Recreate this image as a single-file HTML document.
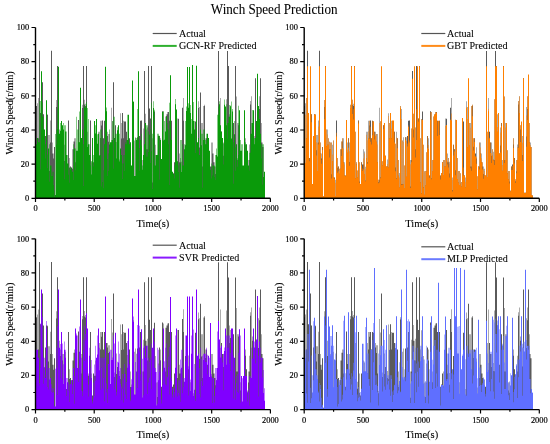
<!DOCTYPE html>
<html><head><meta charset="utf-8"><title>Winch Speed Prediction</title>
<style>html,body{margin:0;padding:0;background:#fff;width:550px;height:444px;overflow:hidden}svg{display:block;filter:blur(0.3px)}</style>
</head><body>
<svg width="550" height="444" viewBox="0 0 550 444"><text transform="translate(274.2,13.6) scale(1,1.1)" x="0" y="0" text-anchor="middle" font-size="13.1" font-family="Liberation Serif, serif" fill="#000" stroke="#000" stroke-width="0.08">Winch Speed Prediction</text>
<path d="M36.00 198.3v-92.2h0.5v92.2zM36.50 198.3v-92.3h0.5v92.3zM37.00 198.3v-95.0h0.5v95.0zM37.50 198.3v-35.3h0.5v35.3zM38.00 198.3v-60.0h0.5v60.0zM38.50 198.3v-100.2h0.5v100.2zM39.00 198.3v-147.6h0.5v147.6zM39.50 198.3v-147.6h0.5v147.6zM40.00 198.3v-85.4h0.5v85.4zM40.50 198.3v-85.4h0.5v85.4zM41.00 198.3v-40.4h0.5v40.4zM41.50 198.3v-40.4h0.5v40.4zM42.00 198.3v-116.1h0.5v116.1zM42.50 198.3v-116.1h0.5v116.1zM43.00 198.3v-84.0h0.5v84.0zM43.50 198.3v-84.0h0.5v84.0zM44.00 198.3v-14.2h0.5v14.2zM44.50 198.3v-14.2h0.5v14.2zM45.00 198.3v-62.2h0.5v62.2zM45.50 198.3v-62.2h0.5v62.2zM46.00 198.3v-84.0h0.5v84.0zM46.50 198.3v-84.0h0.5v84.0zM47.00 198.3v-84.0h0.5v84.0zM47.50 198.3v-83.4h0.5v83.4zM48.00 198.3v-48.1h0.5v48.1zM48.50 198.3v-63.3h0.5v63.3zM49.00 198.3v-63.3h0.5v63.3zM49.50 198.3v-27.3h0.5v27.3zM50.00 198.3v-55.7h0.5v55.7zM50.50 198.3v-77.9h0.5v77.9zM51.00 198.3v-147.6h0.5v147.6zM51.50 198.3v-147.6h0.5v147.6zM52.00 198.3v-55.7h0.5v55.7zM52.50 198.3v-44.8h0.5v44.8zM53.00 198.3v-39.8h0.5v39.8zM53.50 198.3v-44.8h0.5v44.8zM54.00 198.3v-51.3h0.5v51.3zM54.50 198.3v-51.3h0.5v51.3zM55.00 198.3v-2.2h0.5v2.2zM55.50 198.3v-1.6h0.5v1.6zM56.00 198.3v-91.2h0.5v91.2zM56.50 198.3v-98.4h0.5v98.4zM57.00 198.3v-132.4h0.5v132.4zM57.50 198.3v-132.4h0.5v132.4zM58.00 198.3v-68.8h0.5v68.8zM58.50 198.3v-52.1h0.5v52.1zM59.00 198.3v-68.8h0.5v68.8zM59.50 198.3v-53.5h0.5v53.5zM60.00 198.3v-53.5h0.5v53.5zM60.50 198.3v-60.0h0.5v60.0zM61.00 198.3v-56.6h0.5v56.6zM61.50 198.3v-49.1h0.5v49.1zM62.00 198.3v-49.1h0.5v49.1zM62.50 198.3v-55.7h0.5v55.7zM63.00 198.3v-55.7h0.5v55.7zM63.50 198.3v-24.1h0.5v24.1zM64.00 198.3v-53.5h0.5v53.5zM64.50 198.3v-37.2h0.5v37.2zM65.00 198.3v-57.8h0.5v57.8zM65.50 198.3v-21.3h0.5v21.3zM66.00 198.3v-20.7h0.5v20.7zM66.50 198.3v-20.7h0.5v20.7zM67.00 198.3v-18.6h0.5v18.6zM67.50 198.3v-2.3h0.5v2.3zM68.00 198.3v-77.7h0.5v77.7zM68.50 198.3v-77.7h0.5v77.7zM69.00 198.3v-30.6h0.5v30.6zM69.50 198.3v-40.4h0.5v40.4zM70.00 198.3v-31.7h0.5v31.7zM70.50 198.3v-31.7h0.5v31.7zM71.00 198.3v-24.6h0.5v24.6zM71.50 198.3v-29.5h0.5v29.5zM72.00 198.3v-29.5h0.5v29.5zM72.50 198.3v-49.1h0.5v49.1zM73.00 198.3v-49.1h0.5v49.1zM73.50 198.3v-56.8h0.5v56.8zM74.00 198.3v-56.8h0.5v56.8zM74.50 198.3v-60.0h0.5v60.0zM75.00 198.3v-60.0h0.5v60.0zM75.50 198.3v-36.0h0.5v36.0zM76.00 198.3v-36.0h0.5v36.0zM76.50 198.3v-22.9h0.5v22.9zM77.00 198.3v-22.9h0.5v22.9zM77.50 198.3v-22.9h0.5v22.9zM78.00 198.3v-78.2h0.5v78.2zM78.50 198.3v-78.2h0.5v78.2zM79.00 198.3v-55.7h0.5v55.7zM79.50 198.3v-45.6h0.5v45.6zM80.00 198.3v-60.0h0.5v60.0zM80.50 198.3v-60.0h0.5v60.0zM81.00 198.3v-55.7h0.5v55.7zM81.50 198.3v-36.2h0.5v36.2zM82.00 198.3v-90.3h0.5v90.3zM82.50 198.3v-93.5h0.5v93.5zM83.00 198.3v-132.4h0.5v132.4zM83.50 198.3v-132.4h0.5v132.4zM84.00 198.3v-98.5h0.5v98.5zM84.50 198.3v-93.2h0.5v93.2zM85.00 198.3v-92.2h0.5v92.2zM85.50 198.3v-94.6h0.5v94.6zM86.00 198.3v-132.4h0.5v132.4zM86.50 198.3v-132.4h0.5v132.4zM87.00 198.3v-66.6h0.5v66.6zM87.50 198.3v-20.1h0.5v20.1zM88.00 198.3v-36.0h0.5v36.0zM88.50 198.3v-33.8h0.5v33.8zM89.00 198.3v-20.8h0.5v20.8zM89.50 198.3v-27.8h0.5v27.8zM90.00 198.3v-77.7h0.5v77.7zM90.50 198.3v-77.7h0.5v77.7zM91.00 198.3v-16.7h0.5v16.7zM91.50 198.3v-36.0h0.5v36.0zM92.00 198.3v-14.2h0.5v14.2zM92.50 198.3v-14.2h0.5v14.2zM93.00 198.3v-36.0h0.5v36.0zM93.50 198.3v-36.0h0.5v36.0zM94.00 198.3v-33.8h0.5v33.8zM94.50 198.3v-33.8h0.5v33.8zM95.00 198.3v-33.8h0.5v33.8zM95.50 198.3v-49.1h0.5v49.1zM96.00 198.3v-24.4h0.5v24.4zM96.50 198.3v-46.9h0.5v46.9zM97.00 198.3v-31.6h0.5v31.6zM97.50 198.3v-17.8h0.5v17.8zM98.00 198.3v-40.4h0.5v40.4zM98.50 198.3v-66.6h0.5v66.6zM99.00 198.3v-66.6h0.5v66.6zM99.50 198.3v-36.4h0.5v36.4zM100.00 198.3v-60.2h0.5v60.2zM100.50 198.3v-77.5h0.5v77.5zM101.00 198.3v-77.5h0.5v77.5zM101.50 198.3v-72.8h0.5v72.8zM102.00 198.3v-77.7h0.5v77.7zM102.50 198.3v-77.7h0.5v77.7zM103.00 198.3v-60.0h0.5v60.0zM103.50 198.3v-60.0h0.5v60.0zM104.00 198.3v-77.5h0.5v77.5zM104.50 198.3v-77.5h0.5v77.5zM105.00 198.3v-76.9h0.5v76.9zM105.50 198.3v-76.9h0.5v76.9zM106.00 198.3v-66.6h0.5v66.6zM106.50 198.3v-66.6h0.5v66.6zM107.00 198.3v-66.6h0.5v66.6zM107.50 198.3v-62.2h0.5v62.2zM108.00 198.3v-56.6h0.5v56.6zM108.50 198.3v-64.4h0.5v64.4zM109.00 198.3v-64.4h0.5v64.4zM109.50 198.3v-36.0h0.5v36.0zM110.00 198.3v-16.4h0.5v16.4zM110.50 198.3v-18.6h0.5v18.6zM111.00 198.3v-18.6h0.5v18.6zM111.50 198.3v-90.5h0.5v90.5zM112.00 198.3v-77.1h0.5v77.1zM112.50 198.3v-21.1h0.5v21.1zM113.00 198.3v-116.1h0.5v116.1zM113.50 198.3v-116.1h0.5v116.1zM114.00 198.3v-37.1h0.5v37.1zM114.50 198.3v-32.7h0.5v32.7zM115.00 198.3v-73.1h0.5v73.1zM115.50 198.3v-73.1h0.5v73.1zM116.00 198.3v-56.2h0.5v56.2zM116.50 198.3v-35.6h0.5v35.6zM117.00 198.3v-42.6h0.5v42.6zM117.50 198.3v-42.6h0.5v42.6zM118.00 198.3v-31.7h0.5v31.7zM118.50 198.3v-31.7h0.5v31.7zM119.00 198.3v-31.7h0.5v31.7zM119.50 198.3v-38.7h0.5v38.7zM120.00 198.3v-30.7h0.5v30.7zM120.50 198.3v-85.1h0.5v85.1zM121.00 198.3v-59.7h0.5v59.7zM121.50 198.3v-75.3h0.5v75.3zM122.00 198.3v-85.4h0.5v85.4zM122.50 198.3v-85.4h0.5v85.4zM123.00 198.3v-77.5h0.5v77.5zM123.50 198.3v-60.1h0.5v60.1zM124.00 198.3v-76.9h0.5v76.9zM124.50 198.3v-76.9h0.5v76.9zM125.00 198.3v-76.9h0.5v76.9zM125.50 198.3v-76.9h0.5v76.9zM126.00 198.3v-66.6h0.5v66.6zM126.50 198.3v-66.6h0.5v66.6zM127.00 198.3v-54.6h0.5v54.6zM127.50 198.3v-30.9h0.5v30.9zM128.00 198.3v-66.6h0.5v66.6zM128.50 198.3v-20.0h0.5v20.0zM129.00 198.3v-60.0h0.5v60.0zM129.50 198.3v-60.0h0.5v60.0zM130.00 198.3v-38.2h0.5v38.2zM130.50 198.3v-22.6h0.5v22.6zM131.00 198.3v-10.8h0.5v10.8zM131.50 198.3v-25.2h0.5v25.2zM132.00 198.3v-92.3h0.5v92.3zM132.50 198.3v-90.2h0.5v90.2zM133.00 198.3v-89.4h0.5v89.4zM133.50 198.3v-14.3h0.5v14.3zM134.00 198.3v-57.8h0.5v57.8zM134.50 198.3v-14.2h0.5v14.2zM135.00 198.3v-14.2h0.5v14.2zM135.50 198.3v-61.1h0.5v61.1zM136.00 198.3v-32.8h0.5v32.8zM136.50 198.3v-10.3h0.5v10.3zM137.00 198.3v-61.1h0.5v61.1zM137.50 198.3v-61.1h0.5v61.1zM138.00 198.3v-21.6h0.5v21.6zM138.50 198.3v-61.1h0.5v61.1zM139.00 198.3v-62.2h0.5v62.2zM139.50 198.3v-62.2h0.5v62.2zM140.00 198.3v-77.5h0.5v77.5zM140.50 198.3v-77.5h0.5v77.5zM141.00 198.3v-77.7h0.5v77.7zM141.50 198.3v-77.7h0.5v77.7zM142.00 198.3v-38.2h0.5v38.2zM142.50 198.3v-11.9h0.5v11.9zM143.00 198.3v-38.2h0.5v38.2zM143.50 198.3v-69.8h0.5v69.8zM144.00 198.3v-127.4h0.5v127.4zM144.50 198.3v-127.4h0.5v127.4zM145.00 198.3v-84.5h0.5v84.5zM145.50 198.3v-68.8h0.5v68.8zM146.00 198.3v-68.8h0.5v68.8zM146.50 198.3v-49.1h0.5v49.1zM147.00 198.3v-49.1h0.5v49.1zM147.50 198.3v-70.9h0.5v70.9zM148.00 198.3v-132.4h0.5v132.4zM148.50 198.3v-132.4h0.5v132.4zM149.00 198.3v-89.8h0.5v89.8zM149.50 198.3v-89.8h0.5v89.8zM150.00 198.3v-79.7h0.5v79.7zM150.50 198.3v-79.7h0.5v79.7zM151.00 198.3v-132.4h0.5v132.4zM151.50 198.3v-132.4h0.5v132.4zM152.00 198.3v-60.0h0.5v60.0zM152.50 198.3v-15.9h0.5v15.9zM153.00 198.3v-5.3h0.5v5.3zM153.50 198.3v-79.3h0.5v79.3zM154.00 198.3v-86.8h0.5v86.8zM154.50 198.3v-86.8h0.5v86.8zM155.00 198.3v-53.5h0.5v53.5zM155.50 198.3v-11.0h0.5v11.0zM156.00 198.3v-27.1h0.5v27.1zM156.50 198.3v-3.6h0.5v3.6zM157.00 198.3v-27.3h0.5v27.3zM157.50 198.3v-12.7h0.5v12.7zM158.00 198.3v-26.8h0.5v26.8zM158.50 198.3v-46.0h0.5v46.0zM159.00 198.3v-62.2h0.5v62.2zM159.50 198.3v-62.2h0.5v62.2zM160.00 198.3v-60.0h0.5v60.0zM160.50 198.3v-49.0h0.5v49.0zM161.00 198.3v-22.9h0.5v22.9zM161.50 198.3v-22.9h0.5v22.9zM162.00 198.3v-87.1h0.5v87.1zM162.50 198.3v-87.1h0.5v87.1zM163.00 198.3v-86.2h0.5v86.2zM163.50 198.3v-20.0h0.5v20.0zM164.00 198.3v-27.3h0.5v27.3zM164.50 198.3v-38.2h0.5v38.2zM165.00 198.3v-38.2h0.5v38.2zM165.50 198.3v-81.8h0.5v81.8zM166.00 198.3v-81.8h0.5v81.8zM166.50 198.3v-84.0h0.5v84.0zM167.00 198.3v-84.0h0.5v84.0zM167.50 198.3v-86.2h0.5v86.2zM168.00 198.3v-86.3h0.5v86.3zM168.50 198.3v-86.3h0.5v86.3zM169.00 198.3v-77.5h0.5v77.5zM169.50 198.3v-77.5h0.5v77.5zM170.00 198.3v-39.5h0.5v39.5zM170.50 198.3v-55.7h0.5v55.7zM171.00 198.3v-77.5h0.5v77.5zM171.50 198.3v-77.5h0.5v77.5zM172.00 198.3v-22.9h0.5v22.9zM172.50 198.3v-22.9h0.5v22.9zM173.00 198.3v-25.1h0.5v25.1zM173.50 198.3v-25.1h0.5v25.1zM174.00 198.3v-36.0h0.5v36.0zM174.50 198.3v-36.0h0.5v36.0zM175.00 198.3v-23.2h0.5v23.2zM175.50 198.3v-38.2h0.5v38.2zM176.00 198.3v-38.2h0.5v38.2zM176.50 198.3v-31.7h0.5v31.7zM177.00 198.3v-31.7h0.5v31.7zM177.50 198.3v-79.7h0.5v79.7zM178.00 198.3v-79.6h0.5v79.6zM178.50 198.3v-79.6h0.5v79.6zM179.00 198.3v-44.8h0.5v44.8zM179.50 198.3v-36.0h0.5v36.0zM180.00 198.3v-36.0h0.5v36.0zM180.50 198.3v-40.4h0.5v40.4zM181.00 198.3v-24.8h0.5v24.8zM181.50 198.3v-36.5h0.5v36.5zM182.00 198.3v-90.5h0.5v90.5zM182.50 198.3v-90.5h0.5v90.5zM183.00 198.3v-100.4h0.5v100.4zM183.50 198.3v-77.5h0.5v77.5zM184.00 198.3v-20.8h0.5v20.8zM184.50 198.3v-8.4h0.5v8.4zM185.00 198.3v-53.5h0.5v53.5zM185.50 198.3v-53.5h0.5v53.5zM186.00 198.3v-49.1h0.5v49.1zM186.50 198.3v-49.1h0.5v49.1zM187.00 198.3v-28.0h0.5v28.0zM187.50 198.3v-78.6h0.5v78.6zM188.00 198.3v-54.2h0.5v54.2zM188.50 198.3v-40.4h0.5v40.4zM189.00 198.3v-40.4h0.5v40.4zM189.50 198.3v-19.2h0.5v19.2zM190.00 198.3v-15.8h0.5v15.8zM190.50 198.3v-27.3h0.5v27.3zM191.00 198.3v-27.3h0.5v27.3zM191.50 198.3v-13.4h0.5v13.4zM192.00 198.3v-25.1h0.5v25.1zM192.50 198.3v-14.5h0.5v14.5zM193.00 198.3v-16.4h0.5v16.4zM193.50 198.3v-11.9h0.5v11.9zM194.00 198.3v-10.0h0.5v10.0zM194.50 198.3v-18.6h0.5v18.6zM195.00 198.3v-76.9h0.5v76.9zM195.50 198.3v-76.9h0.5v76.9zM196.00 198.3v-22.9h0.5v22.9zM196.50 198.3v-22.9h0.5v22.9zM197.00 198.3v-11.1h0.5v11.1zM197.50 198.3v-20.7h0.5v20.7zM198.00 198.3v-97.0h0.5v97.0zM198.50 198.3v-90.4h0.5v90.4zM199.00 198.3v-50.9h0.5v50.9zM199.50 198.3v-91.4h0.5v91.4zM200.00 198.3v-105.9h0.5v105.9zM200.50 198.3v-105.9h0.5v105.9zM201.00 198.3v-53.2h0.5v53.2zM201.50 198.3v-75.3h0.5v75.3zM202.00 198.3v-75.3h0.5v75.3zM202.50 198.3v-31.7h0.5v31.7zM203.00 198.3v-31.7h0.5v31.7zM203.50 198.3v-92.2h0.5v92.2zM204.00 198.3v-93.6h0.5v93.6zM204.50 198.3v-92.2h0.5v92.2zM205.00 198.3v-60.0h0.5v60.0zM205.50 198.3v-51.5h0.5v51.5zM206.00 198.3v-60.0h0.5v60.0zM206.50 198.3v-60.0h0.5v60.0zM207.00 198.3v-44.8h0.5v44.8zM207.50 198.3v-44.8h0.5v44.8zM208.00 198.3v-39.8h0.5v39.8zM208.50 198.3v-51.1h0.5v51.1zM209.00 198.3v-22.0h0.5v22.0zM209.50 198.3v-8.8h0.5v8.8zM210.00 198.3v-31.7h0.5v31.7zM210.50 198.3v-31.7h0.5v31.7zM211.00 198.3v-31.7h0.5v31.7zM211.50 198.3v-55.7h0.5v55.7zM212.00 198.3v-55.7h0.5v55.7zM212.50 198.3v-44.8h0.5v44.8zM213.00 198.3v-44.8h0.5v44.8zM213.50 198.3v-36.0h0.5v36.0zM214.00 198.3v-36.0h0.5v36.0zM214.50 198.3v-31.7h0.5v31.7zM215.00 198.3v-31.7h0.5v31.7zM215.50 198.3v-24.3h0.5v24.3zM216.00 198.3v-29.5h0.5v29.5zM216.50 198.3v-22.9h0.5v22.9zM217.00 198.3v-22.9h0.5v22.9zM217.50 198.3v-22.9h0.5v22.9zM218.00 198.3v-147.4h0.5v147.4zM218.50 198.3v-147.4h0.5v147.4zM219.00 198.3v-66.6h0.5v66.6zM219.50 198.3v-21.2h0.5v21.2zM220.00 198.3v-100.2h0.5v100.2zM220.50 198.3v-24.9h0.5v24.9zM221.00 198.3v-66.6h0.5v66.6zM221.50 198.3v-66.6h0.5v66.6zM222.00 198.3v-55.7h0.5v55.7zM222.50 198.3v-55.7h0.5v55.7zM223.00 198.3v-55.7h0.5v55.7zM223.50 198.3v-42.6h0.5v42.6zM224.00 198.3v-42.6h0.5v42.6zM224.50 198.3v-49.1h0.5v49.1zM225.00 198.3v-38.5h0.5v38.5zM225.50 198.3v-46.6h0.5v46.6zM226.00 198.3v-38.3h0.5v38.3zM226.50 198.3v-99.0h0.5v99.0zM227.00 198.3v-147.4h0.5v147.4zM227.50 198.3v-147.4h0.5v147.4zM228.00 198.3v-132.2h0.5v132.2zM228.50 198.3v-132.2h0.5v132.2zM229.00 198.3v-66.6h0.5v66.6zM229.50 198.3v-84.0h0.5v84.0zM230.00 198.3v-79.7h0.5v79.7zM230.50 198.3v-71.7h0.5v71.7zM231.00 198.3v-44.8h0.5v44.8zM231.50 198.3v-44.8h0.5v44.8zM232.00 198.3v-52.8h0.5v52.8zM232.50 198.3v-70.9h0.5v70.9zM233.00 198.3v-75.3h0.5v75.3zM233.50 198.3v-75.3h0.5v75.3zM234.00 198.3v-27.5h0.5v27.5zM234.50 198.3v-38.2h0.5v38.2zM235.00 198.3v-132.2h0.5v132.2zM235.50 198.3v-132.2h0.5v132.2zM236.00 198.3v-101.7h0.5v101.7zM236.50 198.3v-38.2h0.5v38.2zM237.00 198.3v-38.2h0.5v38.2zM237.50 198.3v-75.3h0.5v75.3zM238.00 198.3v-75.3h0.5v75.3zM238.50 198.3v-73.1h0.5v73.1zM239.00 198.3v-48.1h0.5v48.1zM239.50 198.3v-25.1h0.5v25.1zM240.00 198.3v-19.1h0.5v19.1zM240.50 198.3v-27.3h0.5v27.3zM241.00 198.3v-27.3h0.5v27.3zM241.50 198.3v-16.9h0.5v16.9zM242.00 198.3v-7.7h0.5v7.7zM242.50 198.3v-6.7h0.5v6.7zM243.00 198.3v-31.7h0.5v31.7zM243.50 198.3v-31.7h0.5v31.7zM244.00 198.3v-33.8h0.5v33.8zM244.50 198.3v-33.8h0.5v33.8zM245.00 198.3v-60.0h0.5v60.0zM245.50 198.3v-53.8h0.5v53.8zM246.00 198.3v-40.4h0.5v40.4zM246.50 198.3v-40.4h0.5v40.4zM247.00 198.3v-17.1h0.5v17.1zM247.50 198.3v-19.0h0.5v19.0zM248.00 198.3v-27.0h0.5v27.0zM248.50 198.3v-38.2h0.5v38.2zM249.00 198.3v-38.2h0.5v38.2zM249.50 198.3v-53.8h0.5v53.8zM250.00 198.3v-93.9h0.5v93.9zM250.50 198.3v-97.4h0.5v97.4zM251.00 198.3v-102.1h0.5v102.1zM251.50 198.3v-29.8h0.5v29.8zM252.00 198.3v-68.8h0.5v68.8zM252.50 198.3v-73.1h0.5v73.1zM253.00 198.3v-73.1h0.5v73.1zM253.50 198.3v-73.1h0.5v73.1zM254.00 198.3v-62.2h0.5v62.2zM254.50 198.3v-43.2h0.5v43.2zM255.00 198.3v-120.1h0.5v120.1zM255.50 198.3v-120.1h0.5v120.1zM256.00 198.3v-5.5h0.5v5.5zM256.50 198.3v-5.5h0.5v5.5zM257.00 198.3v-5.5h0.5v5.5zM257.50 198.3v-5.5h0.5v5.5zM258.00 198.3v-91.4h0.5v91.4zM258.50 198.3v-61.7h0.5v61.7zM259.00 198.3v-89.3h0.5v89.3zM259.50 198.3v-102.0h0.5v102.0zM260.00 198.3v-120.1h0.5v120.1zM260.50 198.3v-120.1h0.5v120.1zM261.00 198.3v-75.3h0.5v75.3zM261.50 198.3v-55.7h0.5v55.7zM262.00 198.3v-55.7h0.5v55.7zM262.50 198.3v-51.3h0.5v51.3zM263.00 198.3v-51.3h0.5v51.3zM263.50 198.3v-3.3h0.5v3.3zM264.00 198.3v-2.4h0.5v2.4zM264.50 198.3v-3.3h0.5v3.3z" fill="#5a5a5a"/>
<path d="M36.00 198.3v-54.0h0.5v54.0zM36.50 198.3v-54.0h0.5v54.0zM37.00 198.3v-60.3h0.5v60.3zM37.50 198.3v-60.3h0.5v60.3zM38.00 198.3v-56.1h0.5v56.1zM38.50 198.3v-56.1h0.5v56.1zM39.00 198.3v-56.1h0.5v56.1zM39.50 198.3v-97.3h0.5v97.3zM40.00 198.3v-28.8h0.5v28.8zM40.50 198.3v-97.2h0.5v97.2zM41.00 198.3v-127.1h0.5v127.1zM41.50 198.3v-127.1h0.5v127.1zM42.00 198.3v-96.0h0.5v96.0zM42.50 198.3v-81.5h0.5v81.5zM43.00 198.3v-81.5h0.5v81.5zM43.50 198.3v-68.8h0.5v68.8zM44.00 198.3v-68.8h0.5v68.8zM44.50 198.3v-68.8h0.5v68.8zM45.00 198.3v-39.9h0.5v39.9zM45.50 198.3v-54.0h0.5v54.0zM46.00 198.3v-97.8h0.5v97.8zM46.50 198.3v-98.4h0.5v98.4zM47.00 198.3v-43.9h0.5v43.9zM47.50 198.3v-30.0h0.5v30.0zM48.00 198.3v-49.8h0.5v49.8zM48.50 198.3v-49.8h0.5v49.8zM49.00 198.3v-54.0h0.5v54.0zM49.50 198.3v-16.6h0.5v16.6zM50.00 198.3v-32.8h0.5v32.8zM50.50 198.3v-32.8h0.5v32.8zM51.00 198.3v-32.8h0.5v32.8zM51.50 198.3v-22.2h0.5v22.2zM52.00 198.3v-22.2h0.5v22.2zM52.50 198.3v-26.5h0.5v26.5zM53.00 198.3v-26.5h0.5v26.5zM53.50 198.3v-13.1h0.5v13.1zM54.00 198.3v-7.8h0.5v7.8zM54.50 198.3v-1.3h0.5v1.3zM55.00 198.3v-3.2h0.5v3.2zM55.50 198.3v-64.4h0.5v64.4zM56.00 198.3v-53.5h0.5v53.5zM56.50 198.3v-68.8h0.5v68.8zM57.00 198.3v-69.3h0.5v69.3zM57.50 198.3v-89.9h0.5v89.9zM58.00 198.3v-131.5h0.5v131.5zM58.50 198.3v-131.5h0.5v131.5zM59.00 198.3v-64.6h0.5v64.6zM59.50 198.3v-64.6h0.5v64.6zM60.00 198.3v-67.6h0.5v67.6zM60.50 198.3v-75.2h0.5v75.2zM61.00 198.3v-77.3h0.5v77.3zM61.50 198.3v-77.3h0.5v77.3zM62.00 198.3v-73.0h0.5v73.0zM62.50 198.3v-73.0h0.5v73.0zM63.00 198.3v-68.8h0.5v68.8zM63.50 198.3v-75.2h0.5v75.2zM64.00 198.3v-19.0h0.5v19.0zM64.50 198.3v-73.0h0.5v73.0zM65.00 198.3v-73.0h0.5v73.0zM65.50 198.3v-66.7h0.5v66.7zM66.00 198.3v-66.7h0.5v66.7zM66.50 198.3v-43.4h0.5v43.4zM67.00 198.3v-43.4h0.5v43.4zM67.50 198.3v-34.9h0.5v34.9zM68.00 198.3v-34.9h0.5v34.9zM68.50 198.3v-23.6h0.5v23.6zM69.00 198.3v-15.5h0.5v15.5zM69.50 198.3v-30.7h0.5v30.7zM70.00 198.3v-28.6h0.5v28.6zM70.50 198.3v-28.6h0.5v28.6zM71.00 198.3v-30.7h0.5v30.7zM71.50 198.3v-30.7h0.5v30.7zM72.00 198.3v-26.5h0.5v26.5zM72.50 198.3v-26.5h0.5v26.5zM73.00 198.3v-18.2h0.5v18.2zM73.50 198.3v-54.0h0.5v54.0zM74.00 198.3v-49.8h0.5v49.8zM74.50 198.3v-49.8h0.5v49.8zM75.00 198.3v-49.8h0.5v49.8zM75.50 198.3v-28.0h0.5v28.0zM76.00 198.3v-81.5h0.5v81.5zM76.50 198.3v-47.6h0.5v47.6zM77.00 198.3v-47.6h0.5v47.6zM77.50 198.3v-68.8h0.5v68.8zM78.00 198.3v-68.8h0.5v68.8zM78.50 198.3v-56.1h0.5v56.1zM79.00 198.3v-56.1h0.5v56.1zM79.50 198.3v-86.9h0.5v86.9zM80.00 198.3v-110.5h0.5v110.5zM80.50 198.3v-110.5h0.5v110.5zM81.00 198.3v-60.3h0.5v60.3zM81.50 198.3v-60.3h0.5v60.3zM82.00 198.3v-68.8h0.5v68.8zM82.50 198.3v-68.8h0.5v68.8zM83.00 198.3v-12.3h0.5v12.3zM83.50 198.3v-54.0h0.5v54.0zM84.00 198.3v-94.0h0.5v94.0zM84.50 198.3v-91.0h0.5v91.0zM85.00 198.3v-91.0h0.5v91.0zM85.50 198.3v-90.1h0.5v90.1zM86.00 198.3v-96.4h0.5v96.4zM86.50 198.3v-93.7h0.5v93.7zM87.00 198.3v-90.3h0.5v90.3zM87.50 198.3v-51.2h0.5v51.2zM88.00 198.3v-79.4h0.5v79.4zM88.50 198.3v-54.0h0.5v54.0zM89.00 198.3v-54.0h0.5v54.0zM89.50 198.3v-43.4h0.5v43.4zM90.00 198.3v-43.4h0.5v43.4zM90.50 198.3v-32.8h0.5v32.8zM91.00 198.3v-23.8h0.5v23.8zM91.50 198.3v-37.3h0.5v37.3zM92.00 198.3v-60.3h0.5v60.3zM92.50 198.3v-60.3h0.5v60.3zM93.00 198.3v-31.7h0.5v31.7zM93.50 198.3v-43.4h0.5v43.4zM94.00 198.3v-77.3h0.5v77.3zM94.50 198.3v-77.3h0.5v77.3zM95.00 198.3v-73.0h0.5v73.0zM95.50 198.3v-64.7h0.5v64.7zM96.00 198.3v-79.4h0.5v79.4zM96.50 198.3v-79.4h0.5v79.4zM97.00 198.3v-64.0h0.5v64.0zM97.50 198.3v-54.6h0.5v54.6zM98.00 198.3v-64.6h0.5v64.6zM98.50 198.3v-64.6h0.5v64.6zM99.00 198.3v-42.5h0.5v42.5zM99.50 198.3v-43.4h0.5v43.4zM100.00 198.3v-43.4h0.5v43.4zM100.50 198.3v-68.8h0.5v68.8zM101.00 198.3v-68.8h0.5v68.8zM101.50 198.3v-11.7h0.5v11.7zM102.00 198.3v-62.5h0.5v62.5zM102.50 198.3v-16.4h0.5v16.4zM103.00 198.3v-10.1h0.5v10.1zM103.50 198.3v-28.0h0.5v28.0zM104.00 198.3v-54.0h0.5v54.0zM104.50 198.3v-54.0h0.5v54.0zM105.00 198.3v-131.5h0.5v131.5zM105.50 198.3v-131.5h0.5v131.5zM106.00 198.3v-90.7h0.5v90.7zM106.50 198.3v-87.1h0.5v87.1zM107.00 198.3v-39.2h0.5v39.2zM107.50 198.3v-22.3h0.5v22.3zM108.00 198.3v-44.7h0.5v44.7zM108.50 198.3v-27.3h0.5v27.3zM109.00 198.3v-53.7h0.5v53.7zM109.50 198.3v-68.8h0.5v68.8zM110.00 198.3v-56.1h0.5v56.1zM110.50 198.3v-56.1h0.5v56.1zM111.00 198.3v-56.1h0.5v56.1zM111.50 198.3v-58.2h0.5v58.2zM112.00 198.3v-58.2h0.5v58.2zM112.50 198.3v-77.3h0.5v77.3zM113.00 198.3v-29.6h0.5v29.6zM113.50 198.3v-81.5h0.5v81.5zM114.00 198.3v-81.5h0.5v81.5zM114.50 198.3v-60.4h0.5v60.4zM115.00 198.3v-56.3h0.5v56.3zM115.50 198.3v-64.6h0.5v64.6zM116.00 198.3v-64.6h0.5v64.6zM116.50 198.3v-39.9h0.5v39.9zM117.00 198.3v-71.0h0.5v71.0zM117.50 198.3v-68.0h0.5v68.0zM118.00 198.3v-73.0h0.5v73.0zM118.50 198.3v-73.0h0.5v73.0zM119.00 198.3v-36.8h0.5v36.8zM119.50 198.3v-64.6h0.5v64.6zM120.00 198.3v-49.8h0.5v49.8zM120.50 198.3v-49.8h0.5v49.8zM121.00 198.3v-43.4h0.5v43.4zM121.50 198.3v-43.4h0.5v43.4zM122.00 198.3v-19.2h0.5v19.2zM122.50 198.3v-34.9h0.5v34.9zM123.00 198.3v-34.9h0.5v34.9zM123.50 198.3v-43.4h0.5v43.4zM124.00 198.3v-43.4h0.5v43.4zM124.50 198.3v-27.3h0.5v27.3zM125.00 198.3v-56.1h0.5v56.1zM125.50 198.3v-54.0h0.5v54.0zM126.00 198.3v-54.0h0.5v54.0zM126.50 198.3v-58.2h0.5v58.2zM127.00 198.3v-58.2h0.5v58.2zM127.50 198.3v-83.6h0.5v83.6zM128.00 198.3v-83.6h0.5v83.6zM128.50 198.3v-83.6h0.5v83.6zM129.00 198.3v-54.0h0.5v54.0zM129.50 198.3v-54.0h0.5v54.0zM130.00 198.3v-56.1h0.5v56.1zM130.50 198.3v-56.1h0.5v56.1zM131.00 198.3v-32.8h0.5v32.8zM131.50 198.3v-32.8h0.5v32.8zM132.00 198.3v-117.7h0.5v117.7zM132.50 198.3v-117.7h0.5v117.7zM133.00 198.3v-96.5h0.5v96.5zM133.50 198.3v-96.8h0.5v96.8zM134.00 198.3v-22.2h0.5v22.2zM134.50 198.3v-22.2h0.5v22.2zM135.00 198.3v-22.2h0.5v22.2zM135.50 198.3v-60.3h0.5v60.3zM136.00 198.3v-60.3h0.5v60.3zM136.50 198.3v-58.2h0.5v58.2zM137.00 198.3v-58.2h0.5v58.2zM137.50 198.3v-89.4h0.5v89.4zM138.00 198.3v-127.1h0.5v127.1zM138.50 198.3v-127.1h0.5v127.1zM139.00 198.3v-27.5h0.5v27.5zM139.50 198.3v-50.4h0.5v50.4zM140.00 198.3v-58.2h0.5v58.2zM140.50 198.3v-58.2h0.5v58.2zM141.00 198.3v-64.6h0.5v64.6zM141.50 198.3v-52.6h0.5v52.6zM142.00 198.3v-28.5h0.5v28.5zM142.50 198.3v-32.8h0.5v32.8zM143.00 198.3v-43.4h0.5v43.4zM143.50 198.3v-43.4h0.5v43.4zM144.00 198.3v-54.0h0.5v54.0zM144.50 198.3v-54.0h0.5v54.0zM145.00 198.3v-75.2h0.5v75.2zM145.50 198.3v-75.2h0.5v75.2zM146.00 198.3v-41.5h0.5v41.5zM146.50 198.3v-73.0h0.5v73.0zM147.00 198.3v-73.0h0.5v73.0zM147.50 198.3v-41.5h0.5v41.5zM148.00 198.3v-66.7h0.5v66.7zM148.50 198.3v-46.2h0.5v46.2zM149.00 198.3v-63.3h0.5v63.3zM149.50 198.3v-64.1h0.5v64.1zM150.00 198.3v-68.8h0.5v68.8zM150.50 198.3v-35.3h0.5v35.3zM151.00 198.3v-47.1h0.5v47.1zM151.50 198.3v-95.6h0.5v95.6zM152.00 198.3v-64.6h0.5v64.6zM152.50 198.3v-9.4h0.5v9.4zM153.00 198.3v-90.4h0.5v90.4zM153.50 198.3v-97.1h0.5v97.1zM154.00 198.3v-88.5h0.5v88.5zM154.50 198.3v-32.8h0.5v32.8zM155.00 198.3v-32.8h0.5v32.8zM155.50 198.3v-43.4h0.5v43.4zM156.00 198.3v-43.4h0.5v43.4zM156.50 198.3v-43.4h0.5v43.4zM157.00 198.3v-43.4h0.5v43.4zM157.50 198.3v-64.6h0.5v64.6zM158.00 198.3v-64.6h0.5v64.6zM158.50 198.3v-62.5h0.5v62.5zM159.00 198.3v-18.6h0.5v18.6zM159.50 198.3v-62.5h0.5v62.5zM160.00 198.3v-58.2h0.5v58.2zM160.50 198.3v-58.2h0.5v58.2zM161.00 198.3v-39.2h0.5v39.2zM161.50 198.3v-39.2h0.5v39.2zM162.00 198.3v-86.3h0.5v86.3zM162.50 198.3v-86.3h0.5v86.3zM163.00 198.3v-57.7h0.5v57.7zM163.50 198.3v-87.4h0.5v87.4zM164.00 198.3v-58.5h0.5v58.5zM164.50 198.3v-77.3h0.5v77.3zM165.00 198.3v-66.7h0.5v66.7zM165.50 198.3v-66.7h0.5v66.7zM166.00 198.3v-82.0h0.5v82.0zM166.50 198.3v-82.0h0.5v82.0zM167.00 198.3v-75.2h0.5v75.2zM167.50 198.3v-68.8h0.5v68.8zM168.00 198.3v-68.8h0.5v68.8zM168.50 198.3v-54.0h0.5v54.0zM169.00 198.3v-13.3h0.5v13.3zM169.50 198.3v-95.5h0.5v95.5zM170.00 198.3v-123.0h0.5v123.0zM170.50 198.3v-123.0h0.5v123.0zM171.00 198.3v-58.2h0.5v58.2zM171.50 198.3v-58.2h0.5v58.2zM172.00 198.3v-26.5h0.5v26.5zM172.50 198.3v-26.5h0.5v26.5zM173.00 198.3v-24.4h0.5v24.4zM173.50 198.3v-24.4h0.5v24.4zM174.00 198.3v-32.8h0.5v32.8zM174.50 198.3v-19.9h0.5v19.9zM175.00 198.3v-99.3h0.5v99.3zM175.50 198.3v-94.1h0.5v94.1zM176.00 198.3v-88.8h0.5v88.8zM176.50 198.3v-88.8h0.5v88.8zM177.00 198.3v-37.1h0.5v37.1zM177.50 198.3v-37.1h0.5v37.1zM178.00 198.3v-26.3h0.5v26.3zM178.50 198.3v-32.8h0.5v32.8zM179.00 198.3v-10.5h0.5v10.5zM179.50 198.3v-34.9h0.5v34.9zM180.00 198.3v-34.9h0.5v34.9zM180.50 198.3v-58.2h0.5v58.2zM181.00 198.3v-58.2h0.5v58.2zM181.50 198.3v-26.3h0.5v26.3zM182.00 198.3v-54.0h0.5v54.0zM182.50 198.3v-32.8h0.5v32.8zM183.00 198.3v-32.8h0.5v32.8zM183.50 198.3v-32.8h0.5v32.8zM184.00 198.3v-54.0h0.5v54.0zM184.50 198.3v-49.1h0.5v49.1zM185.00 198.3v-77.3h0.5v77.3zM185.50 198.3v-52.2h0.5v52.2zM186.00 198.3v-91.8h0.5v91.8zM186.50 198.3v-87.3h0.5v87.3zM187.00 198.3v-131.2h0.5v131.2zM187.50 198.3v-131.2h0.5v131.2zM188.00 198.3v-95.1h0.5v95.1zM188.50 198.3v-90.6h0.5v90.6zM189.00 198.3v-131.2h0.5v131.2zM189.50 198.3v-131.2h0.5v131.2zM190.00 198.3v-93.4h0.5v93.4zM190.50 198.3v-85.4h0.5v85.4zM191.00 198.3v-79.4h0.5v79.4zM191.50 198.3v-64.6h0.5v64.6zM192.00 198.3v-133.2h0.5v133.2zM192.50 198.3v-133.2h0.5v133.2zM193.00 198.3v-96.4h0.5v96.4zM193.50 198.3v-77.3h0.5v77.3zM194.00 198.3v-77.3h0.5v77.3zM194.50 198.3v-68.8h0.5v68.8zM195.00 198.3v-45.2h0.5v45.2zM195.50 198.3v-68.8h0.5v68.8zM196.00 198.3v-132.5h0.5v132.5zM196.50 198.3v-132.5h0.5v132.5zM197.00 198.3v-56.1h0.5v56.1zM197.50 198.3v-56.1h0.5v56.1zM198.00 198.3v-60.3h0.5v60.3zM198.50 198.3v-60.3h0.5v60.3zM199.00 198.3v-43.4h0.5v43.4zM199.50 198.3v-43.4h0.5v43.4zM200.00 198.3v-68.8h0.5v68.8zM200.50 198.3v-68.8h0.5v68.8zM201.00 198.3v-64.6h0.5v64.6zM201.50 198.3v-52.4h0.5v52.4zM202.00 198.3v-64.6h0.5v64.6zM202.50 198.3v-10.5h0.5v10.5zM203.00 198.3v-58.2h0.5v58.2zM203.50 198.3v-68.8h0.5v68.8zM204.00 198.3v-68.8h0.5v68.8zM204.50 198.3v-58.2h0.5v58.2zM205.00 198.3v-58.2h0.5v58.2zM205.50 198.3v-54.0h0.5v54.0zM206.00 198.3v-54.0h0.5v54.0zM206.50 198.3v-64.6h0.5v64.6zM207.00 198.3v-64.6h0.5v64.6zM207.50 198.3v-64.6h0.5v64.6zM208.00 198.3v-60.3h0.5v60.3zM208.50 198.3v-60.3h0.5v60.3zM209.00 198.3v-47.6h0.5v47.6zM209.50 198.3v-47.6h0.5v47.6zM210.00 198.3v-28.6h0.5v28.6zM210.50 198.3v-28.6h0.5v28.6zM211.00 198.3v-19.8h0.5v19.8zM211.50 198.3v-34.9h0.5v34.9zM212.00 198.3v-32.8h0.5v32.8zM212.50 198.3v-22.7h0.5v22.7zM213.00 198.3v-32.8h0.5v32.8zM213.50 198.3v-32.8h0.5v32.8zM214.00 198.3v-32.8h0.5v32.8zM214.50 198.3v-21.2h0.5v21.2zM215.00 198.3v-18.3h0.5v18.3zM215.50 198.3v-43.4h0.5v43.4zM216.00 198.3v-43.4h0.5v43.4zM216.50 198.3v-49.8h0.5v49.8zM217.00 198.3v-41.8h0.5v41.8zM217.50 198.3v-83.6h0.5v83.6zM218.00 198.3v-83.6h0.5v83.6zM218.50 198.3v-91.7h0.5v91.7zM219.00 198.3v-97.0h0.5v97.0zM219.50 198.3v-94.0h0.5v94.0zM220.00 198.3v-73.0h0.5v73.0zM220.50 198.3v-73.0h0.5v73.0zM221.00 198.3v-66.7h0.5v66.7zM221.50 198.3v-66.7h0.5v66.7zM222.00 198.3v-60.3h0.5v60.3zM222.50 198.3v-60.3h0.5v60.3zM223.00 198.3v-33.9h0.5v33.9zM223.50 198.3v-54.7h0.5v54.7zM224.00 198.3v-98.7h0.5v98.7zM224.50 198.3v-93.5h0.5v93.5zM225.00 198.3v-91.7h0.5v91.7zM225.50 198.3v-91.7h0.5v91.7zM226.00 198.3v-94.1h0.5v94.1zM226.50 198.3v-73.0h0.5v73.0zM227.00 198.3v-59.5h0.5v59.5zM227.50 198.3v-75.2h0.5v75.2zM228.00 198.3v-75.2h0.5v75.2zM228.50 198.3v-81.5h0.5v81.5zM229.00 198.3v-81.5h0.5v81.5zM229.50 198.3v-93.2h0.5v93.2zM230.00 198.3v-92.8h0.5v92.8zM230.50 198.3v-92.0h0.5v92.0zM231.00 198.3v-59.7h0.5v59.7zM231.50 198.3v-96.7h0.5v96.7zM232.00 198.3v-86.8h0.5v86.8zM232.50 198.3v-89.2h0.5v89.2zM233.00 198.3v-56.1h0.5v56.1zM233.50 198.3v-14.5h0.5v14.5zM234.00 198.3v-64.0h0.5v64.0zM234.50 198.3v-77.3h0.5v77.3zM235.00 198.3v-51.0h0.5v51.0zM235.50 198.3v-27.6h0.5v27.6zM236.00 198.3v-54.0h0.5v54.0zM236.50 198.3v-54.0h0.5v54.0zM237.00 198.3v-40.1h0.5v40.1zM237.50 198.3v-31.5h0.5v31.5zM238.00 198.3v-43.4h0.5v43.4zM238.50 198.3v-92.6h0.5v92.6zM239.00 198.3v-88.1h0.5v88.1zM239.50 198.3v-88.1h0.5v88.1zM240.00 198.3v-58.2h0.5v58.2zM240.50 198.3v-47.6h0.5v47.6zM241.00 198.3v-47.6h0.5v47.6zM241.50 198.3v-54.0h0.5v54.0zM242.00 198.3v-54.0h0.5v54.0zM242.50 198.3v-32.8h0.5v32.8zM243.00 198.3v-32.8h0.5v32.8zM243.50 198.3v-32.8h0.5v32.8zM244.00 198.3v-88.1h0.5v88.1zM244.50 198.3v-88.1h0.5v88.1zM245.00 198.3v-56.1h0.5v56.1zM245.50 198.3v-47.0h0.5v47.0zM246.00 198.3v-54.0h0.5v54.0zM246.50 198.3v-54.0h0.5v54.0zM247.00 198.3v-47.6h0.5v47.6zM247.50 198.3v-47.6h0.5v47.6zM248.00 198.3v-32.8h0.5v32.8zM248.50 198.3v-32.8h0.5v32.8zM249.00 198.3v-45.5h0.5v45.5zM249.50 198.3v-27.7h0.5v27.7zM250.00 198.3v-45.5h0.5v45.5zM250.50 198.3v-64.6h0.5v64.6zM251.00 198.3v-64.6h0.5v64.6zM251.50 198.3v-75.2h0.5v75.2zM252.00 198.3v-75.2h0.5v75.2zM252.50 198.3v-88.4h0.5v88.4zM253.00 198.3v-88.1h0.5v88.1zM253.50 198.3v-88.1h0.5v88.1zM254.00 198.3v-54.0h0.5v54.0zM254.50 198.3v-60.3h0.5v60.3zM255.00 198.3v-60.3h0.5v60.3zM255.50 198.3v-60.3h0.5v60.3zM256.00 198.3v-77.3h0.5v77.3zM256.50 198.3v-77.3h0.5v77.3zM257.00 198.3v-124.5h0.5v124.5zM257.50 198.3v-124.5h0.5v124.5zM258.00 198.3v-92.2h0.5v92.2zM258.50 198.3v-92.2h0.5v92.2zM259.00 198.3v-79.4h0.5v79.4zM259.50 198.3v-79.4h0.5v79.4zM260.00 198.3v-64.6h0.5v64.6zM260.50 198.3v-64.6h0.5v64.6zM261.00 198.3v-54.0h0.5v54.0zM261.50 198.3v-39.7h0.5v39.7zM262.00 198.3v-13.5h0.5v13.5zM262.50 198.3v-54.0h0.5v54.0zM263.00 198.3v-54.0h0.5v54.0zM263.50 198.3v-21.2h0.5v21.2zM264.00 198.3v-26.5h0.5v26.5zM264.50 198.3v-26.5h0.5v26.5z" fill="#0a9a0a"/>
<path d="M304.00 198.3v-92.2h0.5v92.2zM304.50 198.3v-92.3h0.5v92.3zM305.00 198.3v-95.0h0.5v95.0zM305.50 198.3v-35.3h0.5v35.3zM306.00 198.3v-60.0h0.5v60.0zM306.50 198.3v-100.2h0.5v100.2zM307.00 198.3v-147.6h0.5v147.6zM307.50 198.3v-147.6h0.5v147.6zM308.00 198.3v-85.4h0.5v85.4zM308.50 198.3v-85.4h0.5v85.4zM309.00 198.3v-40.4h0.5v40.4zM309.50 198.3v-40.4h0.5v40.4zM310.00 198.3v-116.1h0.5v116.1zM310.50 198.3v-116.1h0.5v116.1zM311.00 198.3v-84.0h0.5v84.0zM311.50 198.3v-84.0h0.5v84.0zM312.00 198.3v-14.2h0.5v14.2zM312.50 198.3v-14.2h0.5v14.2zM313.00 198.3v-62.2h0.5v62.2zM313.50 198.3v-62.2h0.5v62.2zM314.00 198.3v-84.0h0.5v84.0zM314.50 198.3v-84.0h0.5v84.0zM315.00 198.3v-84.0h0.5v84.0zM315.50 198.3v-83.4h0.5v83.4zM316.00 198.3v-48.1h0.5v48.1zM316.50 198.3v-63.3h0.5v63.3zM317.00 198.3v-63.3h0.5v63.3zM317.50 198.3v-27.3h0.5v27.3zM318.00 198.3v-55.7h0.5v55.7zM318.50 198.3v-77.9h0.5v77.9zM319.00 198.3v-147.6h0.5v147.6zM319.50 198.3v-147.6h0.5v147.6zM320.00 198.3v-55.7h0.5v55.7zM320.50 198.3v-44.8h0.5v44.8zM321.00 198.3v-39.8h0.5v39.8zM321.50 198.3v-44.8h0.5v44.8zM322.00 198.3v-51.3h0.5v51.3zM322.50 198.3v-51.3h0.5v51.3zM323.00 198.3v-2.2h0.5v2.2zM323.50 198.3v-1.6h0.5v1.6zM324.00 198.3v-91.2h0.5v91.2zM324.50 198.3v-98.4h0.5v98.4zM325.00 198.3v-132.4h0.5v132.4zM325.50 198.3v-132.4h0.5v132.4zM326.00 198.3v-68.8h0.5v68.8zM326.50 198.3v-52.1h0.5v52.1zM327.00 198.3v-68.8h0.5v68.8zM327.50 198.3v-53.5h0.5v53.5zM328.00 198.3v-53.5h0.5v53.5zM328.50 198.3v-60.0h0.5v60.0zM329.00 198.3v-56.6h0.5v56.6zM329.50 198.3v-49.1h0.5v49.1zM330.00 198.3v-49.1h0.5v49.1zM330.50 198.3v-55.7h0.5v55.7zM331.00 198.3v-55.7h0.5v55.7zM331.50 198.3v-24.1h0.5v24.1zM332.00 198.3v-53.5h0.5v53.5zM332.50 198.3v-37.2h0.5v37.2zM333.00 198.3v-57.8h0.5v57.8zM333.50 198.3v-21.3h0.5v21.3zM334.00 198.3v-20.7h0.5v20.7zM334.50 198.3v-20.7h0.5v20.7zM335.00 198.3v-18.6h0.5v18.6zM335.50 198.3v-2.3h0.5v2.3zM336.00 198.3v-77.7h0.5v77.7zM336.50 198.3v-77.7h0.5v77.7zM337.00 198.3v-30.6h0.5v30.6zM337.50 198.3v-40.4h0.5v40.4zM338.00 198.3v-31.7h0.5v31.7zM338.50 198.3v-31.7h0.5v31.7zM339.00 198.3v-24.6h0.5v24.6zM339.50 198.3v-29.5h0.5v29.5zM340.00 198.3v-29.5h0.5v29.5zM340.50 198.3v-49.1h0.5v49.1zM341.00 198.3v-49.1h0.5v49.1zM341.50 198.3v-56.8h0.5v56.8zM342.00 198.3v-56.8h0.5v56.8zM342.50 198.3v-60.0h0.5v60.0zM343.00 198.3v-60.0h0.5v60.0zM343.50 198.3v-36.0h0.5v36.0zM344.00 198.3v-36.0h0.5v36.0zM344.50 198.3v-22.9h0.5v22.9zM345.00 198.3v-22.9h0.5v22.9zM345.50 198.3v-22.9h0.5v22.9zM346.00 198.3v-78.2h0.5v78.2zM346.50 198.3v-78.2h0.5v78.2zM347.00 198.3v-55.7h0.5v55.7zM347.50 198.3v-45.6h0.5v45.6zM348.00 198.3v-60.0h0.5v60.0zM348.50 198.3v-60.0h0.5v60.0zM349.00 198.3v-55.7h0.5v55.7zM349.50 198.3v-36.2h0.5v36.2zM350.00 198.3v-90.3h0.5v90.3zM350.50 198.3v-93.5h0.5v93.5zM351.00 198.3v-132.4h0.5v132.4zM351.50 198.3v-132.4h0.5v132.4zM352.00 198.3v-98.5h0.5v98.5zM352.50 198.3v-93.2h0.5v93.2zM353.00 198.3v-92.2h0.5v92.2zM353.50 198.3v-94.6h0.5v94.6zM354.00 198.3v-132.4h0.5v132.4zM354.50 198.3v-132.4h0.5v132.4zM355.00 198.3v-66.6h0.5v66.6zM355.50 198.3v-20.1h0.5v20.1zM356.00 198.3v-36.0h0.5v36.0zM356.50 198.3v-33.8h0.5v33.8zM357.00 198.3v-20.8h0.5v20.8zM357.50 198.3v-27.8h0.5v27.8zM358.00 198.3v-77.7h0.5v77.7zM358.50 198.3v-77.7h0.5v77.7zM359.00 198.3v-16.7h0.5v16.7zM359.50 198.3v-36.0h0.5v36.0zM360.00 198.3v-14.2h0.5v14.2zM360.50 198.3v-14.2h0.5v14.2zM361.00 198.3v-36.0h0.5v36.0zM361.50 198.3v-36.0h0.5v36.0zM362.00 198.3v-33.8h0.5v33.8zM362.50 198.3v-33.8h0.5v33.8zM363.00 198.3v-33.8h0.5v33.8zM363.50 198.3v-49.1h0.5v49.1zM364.00 198.3v-24.4h0.5v24.4zM364.50 198.3v-46.9h0.5v46.9zM365.00 198.3v-31.6h0.5v31.6zM365.50 198.3v-17.8h0.5v17.8zM366.00 198.3v-40.4h0.5v40.4zM366.50 198.3v-66.6h0.5v66.6zM367.00 198.3v-66.6h0.5v66.6zM367.50 198.3v-36.4h0.5v36.4zM368.00 198.3v-60.2h0.5v60.2zM368.50 198.3v-77.5h0.5v77.5zM369.00 198.3v-77.5h0.5v77.5zM369.50 198.3v-72.8h0.5v72.8zM370.00 198.3v-77.7h0.5v77.7zM370.50 198.3v-77.7h0.5v77.7zM371.00 198.3v-60.0h0.5v60.0zM371.50 198.3v-60.0h0.5v60.0zM372.00 198.3v-77.5h0.5v77.5zM372.50 198.3v-77.5h0.5v77.5zM373.00 198.3v-76.9h0.5v76.9zM373.50 198.3v-76.9h0.5v76.9zM374.00 198.3v-66.6h0.5v66.6zM374.50 198.3v-66.6h0.5v66.6zM375.00 198.3v-66.6h0.5v66.6zM375.50 198.3v-62.2h0.5v62.2zM376.00 198.3v-56.6h0.5v56.6zM376.50 198.3v-64.4h0.5v64.4zM377.00 198.3v-64.4h0.5v64.4zM377.50 198.3v-36.0h0.5v36.0zM378.00 198.3v-16.4h0.5v16.4zM378.50 198.3v-18.6h0.5v18.6zM379.00 198.3v-18.6h0.5v18.6zM379.50 198.3v-90.5h0.5v90.5zM380.00 198.3v-77.1h0.5v77.1zM380.50 198.3v-21.1h0.5v21.1zM381.00 198.3v-116.1h0.5v116.1zM381.50 198.3v-116.1h0.5v116.1zM382.00 198.3v-37.1h0.5v37.1zM382.50 198.3v-32.7h0.5v32.7zM383.00 198.3v-73.1h0.5v73.1zM383.50 198.3v-73.1h0.5v73.1zM384.00 198.3v-56.2h0.5v56.2zM384.50 198.3v-35.6h0.5v35.6zM385.00 198.3v-42.6h0.5v42.6zM385.50 198.3v-42.6h0.5v42.6zM386.00 198.3v-31.7h0.5v31.7zM386.50 198.3v-31.7h0.5v31.7zM387.00 198.3v-31.7h0.5v31.7zM387.50 198.3v-38.7h0.5v38.7zM388.00 198.3v-30.7h0.5v30.7zM388.50 198.3v-85.1h0.5v85.1zM389.00 198.3v-59.7h0.5v59.7zM389.50 198.3v-75.3h0.5v75.3zM390.00 198.3v-85.4h0.5v85.4zM390.50 198.3v-85.4h0.5v85.4zM391.00 198.3v-77.5h0.5v77.5zM391.50 198.3v-60.1h0.5v60.1zM392.00 198.3v-76.9h0.5v76.9zM392.50 198.3v-76.9h0.5v76.9zM393.00 198.3v-76.9h0.5v76.9zM393.50 198.3v-76.9h0.5v76.9zM394.00 198.3v-66.6h0.5v66.6zM394.50 198.3v-66.6h0.5v66.6zM395.00 198.3v-54.6h0.5v54.6zM395.50 198.3v-30.9h0.5v30.9zM396.00 198.3v-66.6h0.5v66.6zM396.50 198.3v-20.0h0.5v20.0zM397.00 198.3v-60.0h0.5v60.0zM397.50 198.3v-60.0h0.5v60.0zM398.00 198.3v-38.2h0.5v38.2zM398.50 198.3v-22.6h0.5v22.6zM399.00 198.3v-10.8h0.5v10.8zM399.50 198.3v-25.2h0.5v25.2zM400.00 198.3v-92.3h0.5v92.3zM400.50 198.3v-90.2h0.5v90.2zM401.00 198.3v-89.4h0.5v89.4zM401.50 198.3v-14.3h0.5v14.3zM402.00 198.3v-57.8h0.5v57.8zM402.50 198.3v-14.2h0.5v14.2zM403.00 198.3v-14.2h0.5v14.2zM403.50 198.3v-61.1h0.5v61.1zM404.00 198.3v-32.8h0.5v32.8zM404.50 198.3v-10.3h0.5v10.3zM405.00 198.3v-61.1h0.5v61.1zM405.50 198.3v-61.1h0.5v61.1zM406.00 198.3v-21.6h0.5v21.6zM406.50 198.3v-61.1h0.5v61.1zM407.00 198.3v-62.2h0.5v62.2zM407.50 198.3v-62.2h0.5v62.2zM408.00 198.3v-77.5h0.5v77.5zM408.50 198.3v-77.5h0.5v77.5zM409.00 198.3v-77.7h0.5v77.7zM409.50 198.3v-77.7h0.5v77.7zM410.00 198.3v-38.2h0.5v38.2zM410.50 198.3v-11.9h0.5v11.9zM411.00 198.3v-38.2h0.5v38.2zM411.50 198.3v-69.8h0.5v69.8zM412.00 198.3v-127.4h0.5v127.4zM412.50 198.3v-127.4h0.5v127.4zM413.00 198.3v-84.5h0.5v84.5zM413.50 198.3v-68.8h0.5v68.8zM414.00 198.3v-68.8h0.5v68.8zM414.50 198.3v-49.1h0.5v49.1zM415.00 198.3v-49.1h0.5v49.1zM415.50 198.3v-70.9h0.5v70.9zM416.00 198.3v-132.4h0.5v132.4zM416.50 198.3v-132.4h0.5v132.4zM417.00 198.3v-89.8h0.5v89.8zM417.50 198.3v-89.8h0.5v89.8zM418.00 198.3v-79.7h0.5v79.7zM418.50 198.3v-79.7h0.5v79.7zM419.00 198.3v-132.4h0.5v132.4zM419.50 198.3v-132.4h0.5v132.4zM420.00 198.3v-60.0h0.5v60.0zM420.50 198.3v-15.9h0.5v15.9zM421.00 198.3v-5.3h0.5v5.3zM421.50 198.3v-79.3h0.5v79.3zM422.00 198.3v-86.8h0.5v86.8zM422.50 198.3v-86.8h0.5v86.8zM423.00 198.3v-53.5h0.5v53.5zM423.50 198.3v-11.0h0.5v11.0zM424.00 198.3v-27.1h0.5v27.1zM424.50 198.3v-3.6h0.5v3.6zM425.00 198.3v-27.3h0.5v27.3zM425.50 198.3v-12.7h0.5v12.7zM426.00 198.3v-26.8h0.5v26.8zM426.50 198.3v-46.0h0.5v46.0zM427.00 198.3v-62.2h0.5v62.2zM427.50 198.3v-62.2h0.5v62.2zM428.00 198.3v-60.0h0.5v60.0zM428.50 198.3v-49.0h0.5v49.0zM429.00 198.3v-22.9h0.5v22.9zM429.50 198.3v-22.9h0.5v22.9zM430.00 198.3v-87.1h0.5v87.1zM430.50 198.3v-87.1h0.5v87.1zM431.00 198.3v-86.2h0.5v86.2zM431.50 198.3v-20.0h0.5v20.0zM432.00 198.3v-27.3h0.5v27.3zM432.50 198.3v-38.2h0.5v38.2zM433.00 198.3v-38.2h0.5v38.2zM433.50 198.3v-81.8h0.5v81.8zM434.00 198.3v-81.8h0.5v81.8zM434.50 198.3v-84.0h0.5v84.0zM435.00 198.3v-84.0h0.5v84.0zM435.50 198.3v-86.2h0.5v86.2zM436.00 198.3v-86.3h0.5v86.3zM436.50 198.3v-86.3h0.5v86.3zM437.00 198.3v-77.5h0.5v77.5zM437.50 198.3v-77.5h0.5v77.5zM438.00 198.3v-39.5h0.5v39.5zM438.50 198.3v-55.7h0.5v55.7zM439.00 198.3v-77.5h0.5v77.5zM439.50 198.3v-77.5h0.5v77.5zM440.00 198.3v-22.9h0.5v22.9zM440.50 198.3v-22.9h0.5v22.9zM441.00 198.3v-25.1h0.5v25.1zM441.50 198.3v-25.1h0.5v25.1zM442.00 198.3v-36.0h0.5v36.0zM442.50 198.3v-36.0h0.5v36.0zM443.00 198.3v-23.2h0.5v23.2zM443.50 198.3v-38.2h0.5v38.2zM444.00 198.3v-38.2h0.5v38.2zM444.50 198.3v-31.7h0.5v31.7zM445.00 198.3v-31.7h0.5v31.7zM445.50 198.3v-79.7h0.5v79.7zM446.00 198.3v-79.6h0.5v79.6zM446.50 198.3v-79.6h0.5v79.6zM447.00 198.3v-44.8h0.5v44.8zM447.50 198.3v-36.0h0.5v36.0zM448.00 198.3v-36.0h0.5v36.0zM448.50 198.3v-40.4h0.5v40.4zM449.00 198.3v-24.8h0.5v24.8zM449.50 198.3v-36.5h0.5v36.5zM450.00 198.3v-90.5h0.5v90.5zM450.50 198.3v-90.5h0.5v90.5zM451.00 198.3v-100.4h0.5v100.4zM451.50 198.3v-77.5h0.5v77.5zM452.00 198.3v-20.8h0.5v20.8zM452.50 198.3v-8.4h0.5v8.4zM453.00 198.3v-53.5h0.5v53.5zM453.50 198.3v-53.5h0.5v53.5zM454.00 198.3v-49.1h0.5v49.1zM454.50 198.3v-49.1h0.5v49.1zM455.00 198.3v-28.0h0.5v28.0zM455.50 198.3v-78.6h0.5v78.6zM456.00 198.3v-54.2h0.5v54.2zM456.50 198.3v-40.4h0.5v40.4zM457.00 198.3v-40.4h0.5v40.4zM457.50 198.3v-19.2h0.5v19.2zM458.00 198.3v-15.8h0.5v15.8zM458.50 198.3v-27.3h0.5v27.3zM459.00 198.3v-27.3h0.5v27.3zM459.50 198.3v-13.4h0.5v13.4zM460.00 198.3v-25.1h0.5v25.1zM460.50 198.3v-14.5h0.5v14.5zM461.00 198.3v-16.4h0.5v16.4zM461.50 198.3v-11.9h0.5v11.9zM462.00 198.3v-10.0h0.5v10.0zM462.50 198.3v-18.6h0.5v18.6zM463.00 198.3v-76.9h0.5v76.9zM463.50 198.3v-76.9h0.5v76.9zM464.00 198.3v-22.9h0.5v22.9zM464.50 198.3v-22.9h0.5v22.9zM465.00 198.3v-11.1h0.5v11.1zM465.50 198.3v-20.7h0.5v20.7zM466.00 198.3v-97.0h0.5v97.0zM466.50 198.3v-90.4h0.5v90.4zM467.00 198.3v-50.9h0.5v50.9zM467.50 198.3v-91.4h0.5v91.4zM468.00 198.3v-105.9h0.5v105.9zM468.50 198.3v-105.9h0.5v105.9zM469.00 198.3v-53.2h0.5v53.2zM469.50 198.3v-75.3h0.5v75.3zM470.00 198.3v-75.3h0.5v75.3zM470.50 198.3v-31.7h0.5v31.7zM471.00 198.3v-31.7h0.5v31.7zM471.50 198.3v-92.2h0.5v92.2zM472.00 198.3v-93.6h0.5v93.6zM472.50 198.3v-92.2h0.5v92.2zM473.00 198.3v-60.0h0.5v60.0zM473.50 198.3v-51.5h0.5v51.5zM474.00 198.3v-60.0h0.5v60.0zM474.50 198.3v-60.0h0.5v60.0zM475.00 198.3v-44.8h0.5v44.8zM475.50 198.3v-44.8h0.5v44.8zM476.00 198.3v-39.8h0.5v39.8zM476.50 198.3v-51.1h0.5v51.1zM477.00 198.3v-22.0h0.5v22.0zM477.50 198.3v-8.8h0.5v8.8zM478.00 198.3v-31.7h0.5v31.7zM478.50 198.3v-31.7h0.5v31.7zM479.00 198.3v-31.7h0.5v31.7zM479.50 198.3v-55.7h0.5v55.7zM480.00 198.3v-55.7h0.5v55.7zM480.50 198.3v-44.8h0.5v44.8zM481.00 198.3v-44.8h0.5v44.8zM481.50 198.3v-36.0h0.5v36.0zM482.00 198.3v-36.0h0.5v36.0zM482.50 198.3v-31.7h0.5v31.7zM483.00 198.3v-31.7h0.5v31.7zM483.50 198.3v-24.3h0.5v24.3zM484.00 198.3v-29.5h0.5v29.5zM484.50 198.3v-22.9h0.5v22.9zM485.00 198.3v-22.9h0.5v22.9zM485.50 198.3v-22.9h0.5v22.9zM486.00 198.3v-147.4h0.5v147.4zM486.50 198.3v-147.4h0.5v147.4zM487.00 198.3v-66.6h0.5v66.6zM487.50 198.3v-21.2h0.5v21.2zM488.00 198.3v-100.2h0.5v100.2zM488.50 198.3v-24.9h0.5v24.9zM489.00 198.3v-66.6h0.5v66.6zM489.50 198.3v-66.6h0.5v66.6zM490.00 198.3v-55.7h0.5v55.7zM490.50 198.3v-55.7h0.5v55.7zM491.00 198.3v-55.7h0.5v55.7zM491.50 198.3v-42.6h0.5v42.6zM492.00 198.3v-42.6h0.5v42.6zM492.50 198.3v-49.1h0.5v49.1zM493.00 198.3v-38.5h0.5v38.5zM493.50 198.3v-46.6h0.5v46.6zM494.00 198.3v-38.3h0.5v38.3zM494.50 198.3v-99.0h0.5v99.0zM495.00 198.3v-147.4h0.5v147.4zM495.50 198.3v-147.4h0.5v147.4zM496.00 198.3v-132.2h0.5v132.2zM496.50 198.3v-132.2h0.5v132.2zM497.00 198.3v-66.6h0.5v66.6zM497.50 198.3v-84.0h0.5v84.0zM498.00 198.3v-79.7h0.5v79.7zM498.50 198.3v-71.7h0.5v71.7zM499.00 198.3v-44.8h0.5v44.8zM499.50 198.3v-44.8h0.5v44.8zM500.00 198.3v-52.8h0.5v52.8zM500.50 198.3v-70.9h0.5v70.9zM501.00 198.3v-75.3h0.5v75.3zM501.50 198.3v-75.3h0.5v75.3zM502.00 198.3v-27.5h0.5v27.5zM502.50 198.3v-38.2h0.5v38.2zM503.00 198.3v-132.2h0.5v132.2zM503.50 198.3v-132.2h0.5v132.2zM504.00 198.3v-101.7h0.5v101.7zM504.50 198.3v-38.2h0.5v38.2zM505.00 198.3v-38.2h0.5v38.2zM505.50 198.3v-75.3h0.5v75.3zM506.00 198.3v-75.3h0.5v75.3zM506.50 198.3v-73.1h0.5v73.1zM507.00 198.3v-48.1h0.5v48.1zM507.50 198.3v-25.1h0.5v25.1zM508.00 198.3v-19.1h0.5v19.1zM508.50 198.3v-27.3h0.5v27.3zM509.00 198.3v-27.3h0.5v27.3zM509.50 198.3v-16.9h0.5v16.9zM510.00 198.3v-7.7h0.5v7.7zM510.50 198.3v-6.7h0.5v6.7zM511.00 198.3v-31.7h0.5v31.7zM511.50 198.3v-31.7h0.5v31.7zM512.00 198.3v-33.8h0.5v33.8zM512.50 198.3v-33.8h0.5v33.8zM513.00 198.3v-60.0h0.5v60.0zM513.50 198.3v-53.8h0.5v53.8zM514.00 198.3v-40.4h0.5v40.4zM514.50 198.3v-40.4h0.5v40.4zM515.00 198.3v-17.1h0.5v17.1zM515.50 198.3v-19.0h0.5v19.0zM516.00 198.3v-27.0h0.5v27.0zM516.50 198.3v-38.2h0.5v38.2zM517.00 198.3v-38.2h0.5v38.2zM517.50 198.3v-53.8h0.5v53.8zM518.00 198.3v-93.9h0.5v93.9zM518.50 198.3v-97.4h0.5v97.4zM519.00 198.3v-102.1h0.5v102.1zM519.50 198.3v-29.8h0.5v29.8zM520.00 198.3v-68.8h0.5v68.8zM520.50 198.3v-73.1h0.5v73.1zM521.00 198.3v-73.1h0.5v73.1zM521.50 198.3v-73.1h0.5v73.1zM522.00 198.3v-62.2h0.5v62.2zM522.50 198.3v-43.2h0.5v43.2zM523.00 198.3v-120.1h0.5v120.1zM523.50 198.3v-120.1h0.5v120.1zM524.00 198.3v-5.5h0.5v5.5zM524.50 198.3v-5.5h0.5v5.5zM525.00 198.3v-5.5h0.5v5.5zM525.50 198.3v-5.5h0.5v5.5zM526.00 198.3v-91.4h0.5v91.4zM526.50 198.3v-61.7h0.5v61.7zM527.00 198.3v-89.3h0.5v89.3zM527.50 198.3v-102.0h0.5v102.0zM528.00 198.3v-120.1h0.5v120.1zM528.50 198.3v-120.1h0.5v120.1zM529.00 198.3v-75.3h0.5v75.3zM529.50 198.3v-55.7h0.5v55.7zM530.00 198.3v-55.7h0.5v55.7zM530.50 198.3v-51.3h0.5v51.3zM531.00 198.3v-51.3h0.5v51.3zM531.50 198.3v-3.3h0.5v3.3zM532.00 198.3v-2.4h0.5v2.4zM532.50 198.3v-3.3h0.5v3.3z" fill="#5a5a5a"/>
<path d="M304.00 198.3v-88.8h0.5v88.8zM304.50 198.3v-92.3h0.5v92.3zM305.00 198.3v-83.5h0.5v83.5zM305.50 198.3v-35.3h0.5v35.3zM306.00 198.3v-60.0h0.5v60.0zM306.50 198.3v-100.2h0.5v100.2zM307.00 198.3v-132.0h0.5v132.0zM307.50 198.3v-132.0h0.5v132.0zM308.00 198.3v-85.4h0.5v85.4zM308.50 198.3v-85.4h0.5v85.4zM309.00 198.3v-40.4h0.5v40.4zM309.50 198.3v-37.1h0.5v37.1zM310.00 198.3v-132.0h0.5v132.0zM310.50 198.3v-132.0h0.5v132.0zM311.00 198.3v-76.0h0.5v76.0zM311.50 198.3v-84.0h0.5v84.0zM312.00 198.3v-14.2h0.5v14.2zM312.50 198.3v-14.2h0.5v14.2zM313.00 198.3v-62.2h0.5v62.2zM313.50 198.3v-62.2h0.5v62.2zM314.00 198.3v-84.0h0.5v84.0zM314.50 198.3v-84.0h0.5v84.0zM315.00 198.3v-84.0h0.5v84.0zM315.50 198.3v-83.4h0.5v83.4zM316.00 198.3v-42.7h0.5v42.7zM316.50 198.3v-56.0h0.5v56.0zM317.00 198.3v-55.6h0.5v55.6zM317.50 198.3v-27.3h0.5v27.3zM318.00 198.3v-53.9h0.5v53.9zM318.50 198.3v-71.7h0.5v71.7zM319.00 198.3v-132.0h0.5v132.0zM319.50 198.3v-132.0h0.5v132.0zM320.00 198.3v-55.7h0.5v55.7zM320.50 198.3v-44.8h0.5v44.8zM321.00 198.3v-34.5h0.5v34.5zM321.50 198.3v-38.7h0.5v38.7zM322.00 198.3v-48.4h0.5v48.4zM322.50 198.3v-51.3h0.5v51.3zM323.00 198.3v-2.2h0.5v2.2zM323.50 198.3v-1.4h0.5v1.4zM324.00 198.3v-79.1h0.5v79.1zM324.50 198.3v-98.4h0.5v98.4zM325.00 198.3v-132.0h0.5v132.0zM325.50 198.3v-132.0h0.5v132.0zM326.00 198.3v-68.8h0.5v68.8zM326.50 198.3v-52.1h0.5v52.1zM327.00 198.3v-63.9h0.5v63.9zM327.50 198.3v-53.5h0.5v53.5zM328.00 198.3v-53.5h0.5v53.5zM328.50 198.3v-60.0h0.5v60.0zM329.00 198.3v-56.6h0.5v56.6zM329.50 198.3v-40.8h0.5v40.8zM330.00 198.3v-49.1h0.5v49.1zM330.50 198.3v-55.7h0.5v55.7zM331.00 198.3v-55.7h0.5v55.7zM331.50 198.3v-19.8h0.5v19.8zM332.00 198.3v-43.8h0.5v43.8zM332.50 198.3v-37.2h0.5v37.2zM333.00 198.3v-57.8h0.5v57.8zM333.50 198.3v-21.3h0.5v21.3zM334.00 198.3v-19.4h0.5v19.4zM334.50 198.3v-20.7h0.5v20.7zM335.00 198.3v-15.5h0.5v15.5zM335.50 198.3v-2.3h0.5v2.3zM336.00 198.3v-61.9h0.5v61.9zM336.50 198.3v-65.6h0.5v65.6zM337.00 198.3v-25.6h0.5v25.6zM337.50 198.3v-40.4h0.5v40.4zM338.00 198.3v-27.1h0.5v27.1zM338.50 198.3v-31.7h0.5v31.7zM339.00 198.3v-24.6h0.5v24.6zM339.50 198.3v-29.5h0.5v29.5zM340.00 198.3v-29.5h0.5v29.5zM340.50 198.3v-49.1h0.5v49.1zM341.00 198.3v-42.4h0.5v42.4zM341.50 198.3v-56.8h0.5v56.8zM342.00 198.3v-50.1h0.5v50.1zM342.50 198.3v-60.0h0.5v60.0zM343.00 198.3v-49.9h0.5v49.9zM343.50 198.3v-36.0h0.5v36.0zM344.00 198.3v-33.8h0.5v33.8zM344.50 198.3v-22.9h0.5v22.9zM345.00 198.3v-22.9h0.5v22.9zM345.50 198.3v-22.0h0.5v22.0zM346.00 198.3v-78.2h0.5v78.2zM346.50 198.3v-78.2h0.5v78.2zM347.00 198.3v-48.5h0.5v48.5zM347.50 198.3v-45.6h0.5v45.6zM348.00 198.3v-60.0h0.5v60.0zM348.50 198.3v-50.5h0.5v50.5zM349.00 198.3v-47.0h0.5v47.0zM349.50 198.3v-32.6h0.5v32.6zM350.00 198.3v-90.3h0.5v90.3zM350.50 198.3v-93.5h0.5v93.5zM351.00 198.3v-132.0h0.5v132.0zM351.50 198.3v-132.0h0.5v132.0zM352.00 198.3v-98.5h0.5v98.5zM352.50 198.3v-84.3h0.5v84.3zM353.00 198.3v-89.1h0.5v89.1zM353.50 198.3v-78.9h0.5v78.9zM354.00 198.3v-132.0h0.5v132.0zM354.50 198.3v-132.0h0.5v132.0zM355.00 198.3v-66.6h0.5v66.6zM355.50 198.3v-20.1h0.5v20.1zM356.00 198.3v-36.0h0.5v36.0zM356.50 198.3v-33.8h0.5v33.8zM357.00 198.3v-20.8h0.5v20.8zM357.50 198.3v-27.8h0.5v27.8zM358.00 198.3v-77.5h0.5v77.5zM358.50 198.3v-74.9h0.5v74.9zM359.00 198.3v-15.3h0.5v15.3zM359.50 198.3v-36.0h0.5v36.0zM360.00 198.3v-14.2h0.5v14.2zM360.50 198.3v-14.2h0.5v14.2zM361.00 198.3v-36.0h0.5v36.0zM361.50 198.3v-33.1h0.5v33.1zM362.00 198.3v-27.2h0.5v27.2zM362.50 198.3v-29.8h0.5v29.8zM363.00 198.3v-28.9h0.5v28.9zM363.50 198.3v-39.9h0.5v39.9zM364.00 198.3v-24.4h0.5v24.4zM364.50 198.3v-44.7h0.5v44.7zM365.00 198.3v-29.1h0.5v29.1zM365.50 198.3v-17.0h0.5v17.0zM366.00 198.3v-40.4h0.5v40.4zM366.50 198.3v-63.5h0.5v63.5zM367.00 198.3v-58.0h0.5v58.0zM367.50 198.3v-34.5h0.5v34.5zM368.00 198.3v-60.2h0.5v60.2zM368.50 198.3v-67.0h0.5v67.0zM369.00 198.3v-77.5h0.5v77.5zM369.50 198.3v-59.2h0.5v59.2zM370.00 198.3v-56.6h0.5v56.6zM370.50 198.3v-71.6h0.5v71.6zM371.00 198.3v-60.0h0.5v60.0zM371.50 198.3v-53.9h0.5v53.9zM372.00 198.3v-77.5h0.5v77.5zM372.50 198.3v-63.1h0.5v63.1zM373.00 198.3v-76.9h0.5v76.9zM373.50 198.3v-76.9h0.5v76.9zM374.00 198.3v-66.6h0.5v66.6zM374.50 198.3v-58.9h0.5v58.9zM375.00 198.3v-63.7h0.5v63.7zM375.50 198.3v-62.2h0.5v62.2zM376.00 198.3v-56.6h0.5v56.6zM376.50 198.3v-64.4h0.5v64.4zM377.00 198.3v-53.7h0.5v53.7zM377.50 198.3v-36.0h0.5v36.0zM378.00 198.3v-15.0h0.5v15.0zM378.50 198.3v-18.6h0.5v18.6zM379.00 198.3v-15.9h0.5v15.9zM379.50 198.3v-75.4h0.5v75.4zM380.00 198.3v-77.1h0.5v77.1zM380.50 198.3v-20.1h0.5v20.1zM381.00 198.3v-132.0h0.5v132.0zM381.50 198.3v-132.0h0.5v132.0zM382.00 198.3v-37.1h0.5v37.1zM382.50 198.3v-32.7h0.5v32.7zM383.00 198.3v-73.1h0.5v73.1zM383.50 198.3v-69.0h0.5v69.0zM384.00 198.3v-75.2h0.5v75.2zM384.50 198.3v-75.2h0.5v75.2zM385.00 198.3v-42.6h0.5v42.6zM385.50 198.3v-42.6h0.5v42.6zM386.00 198.3v-31.7h0.5v31.7zM386.50 198.3v-31.7h0.5v31.7zM387.00 198.3v-31.7h0.5v31.7zM387.50 198.3v-34.2h0.5v34.2zM388.00 198.3v-30.7h0.5v30.7zM388.50 198.3v-82.3h0.5v82.3zM389.00 198.3v-59.7h0.5v59.7zM389.50 198.3v-75.3h0.5v75.3zM390.00 198.3v-85.4h0.5v85.4zM390.50 198.3v-85.4h0.5v85.4zM391.00 198.3v-69.5h0.5v69.5zM391.50 198.3v-60.1h0.5v60.1zM392.00 198.3v-77.7h0.5v77.7zM392.50 198.3v-77.7h0.5v77.7zM393.00 198.3v-77.7h0.5v77.7zM393.50 198.3v-77.7h0.5v77.7zM394.00 198.3v-55.9h0.5v55.9zM394.50 198.3v-66.6h0.5v66.6zM395.00 198.3v-54.6h0.5v54.6zM395.50 198.3v-27.1h0.5v27.1zM396.00 198.3v-60.7h0.5v60.7zM396.50 198.3v-19.3h0.5v19.3zM397.00 198.3v-50.1h0.5v50.1zM397.50 198.3v-60.0h0.5v60.0zM398.00 198.3v-38.2h0.5v38.2zM398.50 198.3v-22.6h0.5v22.6zM399.00 198.3v-10.8h0.5v10.8zM399.50 198.3v-20.9h0.5v20.9zM400.00 198.3v-92.3h0.5v92.3zM400.50 198.3v-90.2h0.5v90.2zM401.00 198.3v-79.4h0.5v79.4zM401.50 198.3v-13.3h0.5v13.3zM402.00 198.3v-57.8h0.5v57.8zM402.50 198.3v-13.6h0.5v13.6zM403.00 198.3v-14.2h0.5v14.2zM403.50 198.3v-56.4h0.5v56.4zM404.00 198.3v-32.8h0.5v32.8zM404.50 198.3v-10.3h0.5v10.3zM405.00 198.3v-58.3h0.5v58.3zM405.50 198.3v-61.1h0.5v61.1zM406.00 198.3v-21.6h0.5v21.6zM406.50 198.3v-57.2h0.5v57.2zM407.00 198.3v-54.7h0.5v54.7zM407.50 198.3v-51.9h0.5v51.9zM408.00 198.3v-72.8h0.5v72.8zM408.50 198.3v-71.4h0.5v71.4zM409.00 198.3v-57.8h0.5v57.8zM409.50 198.3v-55.9h0.5v55.9zM410.00 198.3v-34.1h0.5v34.1zM410.50 198.3v-10.2h0.5v10.2zM411.00 198.3v-36.1h0.5v36.1zM411.50 198.3v-69.8h0.5v69.8zM412.00 198.3v-119.6h0.5v119.6zM412.50 198.3v-119.6h0.5v119.6zM413.00 198.3v-84.5h0.5v84.5zM413.50 198.3v-60.7h0.5v60.7zM414.00 198.3v-132.0h0.5v132.0zM414.50 198.3v-132.0h0.5v132.0zM415.00 198.3v-40.7h0.5v40.7zM415.50 198.3v-70.9h0.5v70.9zM416.00 198.3v-58.4h0.5v58.4zM416.50 198.3v-89.1h0.5v89.1zM417.00 198.3v-132.0h0.5v132.0zM417.50 198.3v-132.0h0.5v132.0zM418.00 198.3v-76.5h0.5v76.5zM418.50 198.3v-79.7h0.5v79.7zM419.00 198.3v-132.0h0.5v132.0zM419.50 198.3v-132.0h0.5v132.0zM420.00 198.3v-60.0h0.5v60.0zM420.50 198.3v-15.9h0.5v15.9zM421.00 198.3v-4.8h0.5v4.8zM421.50 198.3v-79.3h0.5v79.3zM422.00 198.3v-78.4h0.5v78.4zM422.50 198.3v-78.4h0.5v78.4zM423.00 198.3v-53.5h0.5v53.5zM423.50 198.3v-10.5h0.5v10.5zM424.00 198.3v-27.1h0.5v27.1zM424.50 198.3v-3.5h0.5v3.5zM425.00 198.3v-27.3h0.5v27.3zM425.50 198.3v-12.7h0.5v12.7zM426.00 198.3v-26.8h0.5v26.8zM426.50 198.3v-46.0h0.5v46.0zM427.00 198.3v-62.2h0.5v62.2zM427.50 198.3v-50.1h0.5v50.1zM428.00 198.3v-53.3h0.5v53.3zM428.50 198.3v-49.0h0.5v49.0zM429.00 198.3v-20.5h0.5v20.5zM429.50 198.3v-22.9h0.5v22.9zM430.00 198.3v-78.6h0.5v78.6zM430.50 198.3v-86.2h0.5v86.2zM431.00 198.3v-86.2h0.5v86.2zM431.50 198.3v-19.1h0.5v19.1zM432.00 198.3v-27.3h0.5v27.3zM432.50 198.3v-38.2h0.5v38.2zM433.00 198.3v-38.2h0.5v38.2zM433.50 198.3v-81.8h0.5v81.8zM434.00 198.3v-83.5h0.5v83.5zM434.50 198.3v-84.0h0.5v84.0zM435.00 198.3v-84.0h0.5v84.0zM435.50 198.3v-86.2h0.5v86.2zM436.00 198.3v-85.7h0.5v85.7zM436.50 198.3v-85.7h0.5v85.7zM437.00 198.3v-62.3h0.5v62.3zM437.50 198.3v-77.5h0.5v77.5zM438.00 198.3v-77.5h0.5v77.5zM438.50 198.3v-77.5h0.5v77.5zM439.00 198.3v-77.5h0.5v77.5zM439.50 198.3v-63.4h0.5v63.4zM440.00 198.3v-18.8h0.5v18.8zM440.50 198.3v-22.9h0.5v22.9zM441.00 198.3v-25.1h0.5v25.1zM441.50 198.3v-25.1h0.5v25.1zM442.00 198.3v-36.0h0.5v36.0zM442.50 198.3v-36.0h0.5v36.0zM443.00 198.3v-23.2h0.5v23.2zM443.50 198.3v-38.2h0.5v38.2zM444.00 198.3v-38.2h0.5v38.2zM444.50 198.3v-31.7h0.5v31.7zM445.00 198.3v-31.7h0.5v31.7zM445.50 198.3v-72.4h0.5v72.4zM446.00 198.3v-73.4h0.5v73.4zM446.50 198.3v-73.4h0.5v73.4zM447.00 198.3v-37.6h0.5v37.6zM447.50 198.3v-33.8h0.5v33.8zM448.00 198.3v-30.8h0.5v30.8zM448.50 198.3v-40.4h0.5v40.4zM449.00 198.3v-20.8h0.5v20.8zM449.50 198.3v-34.7h0.5v34.7zM450.00 198.3v-78.6h0.5v78.6zM450.50 198.3v-78.6h0.5v78.6zM451.00 198.3v-84.8h0.5v84.8zM451.50 198.3v-77.5h0.5v77.5zM452.00 198.3v-18.2h0.5v18.2zM452.50 198.3v-6.9h0.5v6.9zM453.00 198.3v-53.5h0.5v53.5zM453.50 198.3v-42.9h0.5v42.9zM454.00 198.3v-49.1h0.5v49.1zM454.50 198.3v-46.9h0.5v46.9zM455.00 198.3v-23.0h0.5v23.0zM455.50 198.3v-78.6h0.5v78.6zM456.00 198.3v-78.2h0.5v78.2zM456.50 198.3v-78.2h0.5v78.2zM457.00 198.3v-40.4h0.5v40.4zM457.50 198.3v-19.2h0.5v19.2zM458.00 198.3v-15.8h0.5v15.8zM458.50 198.3v-27.3h0.5v27.3zM459.00 198.3v-27.3h0.5v27.3zM459.50 198.3v-13.4h0.5v13.4zM460.00 198.3v-25.1h0.5v25.1zM460.50 198.3v-14.5h0.5v14.5zM461.00 198.3v-16.4h0.5v16.4zM461.50 198.3v-11.6h0.5v11.6zM462.00 198.3v-80.3h0.5v80.3zM462.50 198.3v-80.3h0.5v80.3zM463.00 198.3v-22.9h0.5v22.9zM463.50 198.3v-30.8h0.5v30.8zM464.00 198.3v-22.9h0.5v22.9zM464.50 198.3v-22.9h0.5v22.9zM465.00 198.3v-11.1h0.5v11.1zM465.50 198.3v-16.6h0.5v16.6zM466.00 198.3v-91.5h0.5v91.5zM466.50 198.3v-90.4h0.5v90.4zM467.00 198.3v-50.9h0.5v50.9zM467.50 198.3v-79.4h0.5v79.4zM468.00 198.3v-120.1h0.5v120.1zM468.50 198.3v-120.1h0.5v120.1zM469.00 198.3v-53.2h0.5v53.2zM469.50 198.3v-75.3h0.5v75.3zM470.00 198.3v-70.5h0.5v70.5zM470.50 198.3v-30.0h0.5v30.0zM471.00 198.3v-27.5h0.5v27.5zM471.50 198.3v-92.2h0.5v92.2zM472.00 198.3v-93.6h0.5v93.6zM472.50 198.3v-82.0h0.5v82.0zM473.00 198.3v-60.0h0.5v60.0zM473.50 198.3v-47.7h0.5v47.7zM474.00 198.3v-56.3h0.5v56.3zM474.50 198.3v-60.0h0.5v60.0zM475.00 198.3v-42.5h0.5v42.5zM475.50 198.3v-41.6h0.5v41.6zM476.00 198.3v-34.5h0.5v34.5zM476.50 198.3v-41.5h0.5v41.5zM477.00 198.3v-22.0h0.5v22.0zM477.50 198.3v-8.8h0.5v8.8zM478.00 198.3v-31.7h0.5v31.7zM478.50 198.3v-31.7h0.5v31.7zM479.00 198.3v-28.7h0.5v28.7zM479.50 198.3v-55.7h0.5v55.7zM480.00 198.3v-50.8h0.5v50.8zM480.50 198.3v-44.8h0.5v44.8zM481.00 198.3v-40.1h0.5v40.1zM481.50 198.3v-36.0h0.5v36.0zM482.00 198.3v-36.0h0.5v36.0zM482.50 198.3v-28.8h0.5v28.8zM483.00 198.3v-29.4h0.5v29.4zM483.50 198.3v-19.5h0.5v19.5zM484.00 198.3v-27.3h0.5v27.3zM484.50 198.3v-22.9h0.5v22.9zM485.00 198.3v-22.9h0.5v22.9zM485.50 198.3v-22.9h0.5v22.9zM486.00 198.3v-132.0h0.5v132.0zM486.50 198.3v-132.0h0.5v132.0zM487.00 198.3v-66.6h0.5v66.6zM487.50 198.3v-21.2h0.5v21.2zM488.00 198.3v-89.5h0.5v89.5zM488.50 198.3v-87.1h0.5v87.1zM489.00 198.3v-59.7h0.5v59.7zM489.50 198.3v-60.5h0.5v60.5zM490.00 198.3v-45.2h0.5v45.2zM490.50 198.3v-55.7h0.5v55.7zM491.00 198.3v-45.0h0.5v45.0zM491.50 198.3v-35.2h0.5v35.2zM492.00 198.3v-42.6h0.5v42.6zM492.50 198.3v-49.1h0.5v49.1zM493.00 198.3v-38.5h0.5v38.5zM493.50 198.3v-37.8h0.5v37.8zM494.00 198.3v-33.4h0.5v33.4zM494.50 198.3v-99.0h0.5v99.0zM495.00 198.3v-132.0h0.5v132.0zM495.50 198.3v-132.0h0.5v132.0zM496.00 198.3v-132.0h0.5v132.0zM496.50 198.3v-132.0h0.5v132.0zM497.00 198.3v-66.6h0.5v66.6zM497.50 198.3v-71.4h0.5v71.4zM498.00 198.3v-85.4h0.5v85.4zM498.50 198.3v-85.4h0.5v85.4zM499.00 198.3v-44.8h0.5v44.8zM499.50 198.3v-44.8h0.5v44.8zM500.00 198.3v-45.7h0.5v45.7zM500.50 198.3v-65.8h0.5v65.8zM501.00 198.3v-75.3h0.5v75.3zM501.50 198.3v-72.3h0.5v72.3zM502.00 198.3v-27.5h0.5v27.5zM502.50 198.3v-33.4h0.5v33.4zM503.00 198.3v-132.0h0.5v132.0zM503.50 198.3v-132.0h0.5v132.0zM504.00 198.3v-101.7h0.5v101.7zM504.50 198.3v-35.3h0.5v35.3zM505.00 198.3v-38.2h0.5v38.2zM505.50 198.3v-70.7h0.5v70.7zM506.00 198.3v-75.2h0.5v75.2zM506.50 198.3v-75.2h0.5v75.2zM507.00 198.3v-48.1h0.5v48.1zM507.50 198.3v-25.1h0.5v25.1zM508.00 198.3v-19.1h0.5v19.1zM508.50 198.3v-27.3h0.5v27.3zM509.00 198.3v-27.3h0.5v27.3zM509.50 198.3v-14.8h0.5v14.8zM510.00 198.3v-7.7h0.5v7.7zM510.50 198.3v-6.7h0.5v6.7zM511.00 198.3v-31.7h0.5v31.7zM511.50 198.3v-28.2h0.5v28.2zM512.00 198.3v-32.6h0.5v32.6zM512.50 198.3v-28.4h0.5v28.4zM513.00 198.3v-60.0h0.5v60.0zM513.50 198.3v-50.2h0.5v50.2zM514.00 198.3v-34.8h0.5v34.8zM514.50 198.3v-40.4h0.5v40.4zM515.00 198.3v-15.3h0.5v15.3zM515.50 198.3v-19.0h0.5v19.0zM516.00 198.3v-25.1h0.5v25.1zM516.50 198.3v-38.2h0.5v38.2zM517.00 198.3v-38.2h0.5v38.2zM517.50 198.3v-51.4h0.5v51.4zM518.00 198.3v-50.2h0.5v50.2zM518.50 198.3v-97.4h0.5v97.4zM519.00 198.3v-102.1h0.5v102.1zM519.50 198.3v-85.4h0.5v85.4zM520.00 198.3v-56.2h0.5v56.2zM520.50 198.3v-73.1h0.5v73.1zM521.00 198.3v-76.9h0.5v76.9zM521.50 198.3v-76.9h0.5v76.9zM522.00 198.3v-55.6h0.5v55.6zM522.50 198.3v-37.3h0.5v37.3zM523.00 198.3v-120.1h0.5v120.1zM523.50 198.3v-120.1h0.5v120.1zM524.00 198.3v-5.5h0.5v5.5zM524.50 198.3v-5.2h0.5v5.2zM525.00 198.3v-5.5h0.5v5.5zM525.50 198.3v-5.5h0.5v5.5zM526.00 198.3v-82.8h0.5v82.8zM526.50 198.3v-51.6h0.5v51.6zM527.00 198.3v-78.2h0.5v78.2zM527.50 198.3v-102.0h0.5v102.0zM528.00 198.3v-123.8h0.5v123.8zM528.50 198.3v-123.8h0.5v123.8zM529.00 198.3v-75.3h0.5v75.3zM529.50 198.3v-55.7h0.5v55.7zM530.00 198.3v-53.2h0.5v53.2zM530.50 198.3v-51.3h0.5v51.3zM531.00 198.3v-51.3h0.5v51.3zM531.50 198.3v-3.3h0.5v3.3zM532.00 198.3v-2.0h0.5v2.0zM532.50 198.3v-3.3h0.5v3.3z" fill="#ff8000"/>
<path d="M36.00 409.6v-92.2h0.5v92.2zM36.50 409.6v-92.3h0.5v92.3zM37.00 409.6v-95.0h0.5v95.0zM37.50 409.6v-35.3h0.5v35.3zM38.00 409.6v-60.0h0.5v60.0zM38.50 409.6v-100.2h0.5v100.2zM39.00 409.6v-147.6h0.5v147.6zM39.50 409.6v-147.6h0.5v147.6zM40.00 409.6v-85.4h0.5v85.4zM40.50 409.6v-85.4h0.5v85.4zM41.00 409.6v-40.4h0.5v40.4zM41.50 409.6v-40.4h0.5v40.4zM42.00 409.6v-116.1h0.5v116.1zM42.50 409.6v-116.1h0.5v116.1zM43.00 409.6v-84.0h0.5v84.0zM43.50 409.6v-84.0h0.5v84.0zM44.00 409.6v-14.2h0.5v14.2zM44.50 409.6v-14.2h0.5v14.2zM45.00 409.6v-62.2h0.5v62.2zM45.50 409.6v-62.2h0.5v62.2zM46.00 409.6v-84.0h0.5v84.0zM46.50 409.6v-84.0h0.5v84.0zM47.00 409.6v-84.0h0.5v84.0zM47.50 409.6v-83.4h0.5v83.4zM48.00 409.6v-48.1h0.5v48.1zM48.50 409.6v-63.3h0.5v63.3zM49.00 409.6v-63.3h0.5v63.3zM49.50 409.6v-27.3h0.5v27.3zM50.00 409.6v-55.7h0.5v55.7zM50.50 409.6v-77.9h0.5v77.9zM51.00 409.6v-147.6h0.5v147.6zM51.50 409.6v-147.6h0.5v147.6zM52.00 409.6v-55.7h0.5v55.7zM52.50 409.6v-44.8h0.5v44.8zM53.00 409.6v-39.8h0.5v39.8zM53.50 409.6v-44.8h0.5v44.8zM54.00 409.6v-51.3h0.5v51.3zM54.50 409.6v-51.3h0.5v51.3zM55.00 409.6v-2.2h0.5v2.2zM55.50 409.6v-1.6h0.5v1.6zM56.00 409.6v-91.2h0.5v91.2zM56.50 409.6v-98.4h0.5v98.4zM57.00 409.6v-132.4h0.5v132.4zM57.50 409.6v-132.4h0.5v132.4zM58.00 409.6v-68.8h0.5v68.8zM58.50 409.6v-52.1h0.5v52.1zM59.00 409.6v-68.8h0.5v68.8zM59.50 409.6v-53.5h0.5v53.5zM60.00 409.6v-53.5h0.5v53.5zM60.50 409.6v-60.0h0.5v60.0zM61.00 409.6v-56.6h0.5v56.6zM61.50 409.6v-49.1h0.5v49.1zM62.00 409.6v-49.1h0.5v49.1zM62.50 409.6v-55.7h0.5v55.7zM63.00 409.6v-55.7h0.5v55.7zM63.50 409.6v-24.1h0.5v24.1zM64.00 409.6v-53.5h0.5v53.5zM64.50 409.6v-37.2h0.5v37.2zM65.00 409.6v-57.8h0.5v57.8zM65.50 409.6v-21.3h0.5v21.3zM66.00 409.6v-20.7h0.5v20.7zM66.50 409.6v-20.7h0.5v20.7zM67.00 409.6v-18.6h0.5v18.6zM67.50 409.6v-2.3h0.5v2.3zM68.00 409.6v-77.7h0.5v77.7zM68.50 409.6v-77.7h0.5v77.7zM69.00 409.6v-30.6h0.5v30.6zM69.50 409.6v-40.4h0.5v40.4zM70.00 409.6v-31.7h0.5v31.7zM70.50 409.6v-31.7h0.5v31.7zM71.00 409.6v-24.6h0.5v24.6zM71.50 409.6v-29.5h0.5v29.5zM72.00 409.6v-29.5h0.5v29.5zM72.50 409.6v-49.1h0.5v49.1zM73.00 409.6v-49.1h0.5v49.1zM73.50 409.6v-56.8h0.5v56.8zM74.00 409.6v-56.8h0.5v56.8zM74.50 409.6v-60.0h0.5v60.0zM75.00 409.6v-60.0h0.5v60.0zM75.50 409.6v-36.0h0.5v36.0zM76.00 409.6v-36.0h0.5v36.0zM76.50 409.6v-22.9h0.5v22.9zM77.00 409.6v-22.9h0.5v22.9zM77.50 409.6v-22.9h0.5v22.9zM78.00 409.6v-78.2h0.5v78.2zM78.50 409.6v-78.2h0.5v78.2zM79.00 409.6v-55.7h0.5v55.7zM79.50 409.6v-45.6h0.5v45.6zM80.00 409.6v-60.0h0.5v60.0zM80.50 409.6v-60.0h0.5v60.0zM81.00 409.6v-55.7h0.5v55.7zM81.50 409.6v-36.2h0.5v36.2zM82.00 409.6v-90.3h0.5v90.3zM82.50 409.6v-93.5h0.5v93.5zM83.00 409.6v-132.4h0.5v132.4zM83.50 409.6v-132.4h0.5v132.4zM84.00 409.6v-98.5h0.5v98.5zM84.50 409.6v-93.2h0.5v93.2zM85.00 409.6v-92.2h0.5v92.2zM85.50 409.6v-94.6h0.5v94.6zM86.00 409.6v-132.4h0.5v132.4zM86.50 409.6v-132.4h0.5v132.4zM87.00 409.6v-66.6h0.5v66.6zM87.50 409.6v-20.1h0.5v20.1zM88.00 409.6v-36.0h0.5v36.0zM88.50 409.6v-33.8h0.5v33.8zM89.00 409.6v-20.8h0.5v20.8zM89.50 409.6v-27.8h0.5v27.8zM90.00 409.6v-77.7h0.5v77.7zM90.50 409.6v-77.7h0.5v77.7zM91.00 409.6v-16.7h0.5v16.7zM91.50 409.6v-36.0h0.5v36.0zM92.00 409.6v-14.2h0.5v14.2zM92.50 409.6v-14.2h0.5v14.2zM93.00 409.6v-36.0h0.5v36.0zM93.50 409.6v-36.0h0.5v36.0zM94.00 409.6v-33.8h0.5v33.8zM94.50 409.6v-33.8h0.5v33.8zM95.00 409.6v-33.8h0.5v33.8zM95.50 409.6v-49.1h0.5v49.1zM96.00 409.6v-24.4h0.5v24.4zM96.50 409.6v-46.9h0.5v46.9zM97.00 409.6v-31.6h0.5v31.6zM97.50 409.6v-17.8h0.5v17.8zM98.00 409.6v-40.4h0.5v40.4zM98.50 409.6v-66.6h0.5v66.6zM99.00 409.6v-66.6h0.5v66.6zM99.50 409.6v-36.4h0.5v36.4zM100.00 409.6v-60.2h0.5v60.2zM100.50 409.6v-77.5h0.5v77.5zM101.00 409.6v-77.5h0.5v77.5zM101.50 409.6v-72.8h0.5v72.8zM102.00 409.6v-77.7h0.5v77.7zM102.50 409.6v-77.7h0.5v77.7zM103.00 409.6v-60.0h0.5v60.0zM103.50 409.6v-60.0h0.5v60.0zM104.00 409.6v-77.5h0.5v77.5zM104.50 409.6v-77.5h0.5v77.5zM105.00 409.6v-76.9h0.5v76.9zM105.50 409.6v-76.9h0.5v76.9zM106.00 409.6v-66.6h0.5v66.6zM106.50 409.6v-66.6h0.5v66.6zM107.00 409.6v-66.6h0.5v66.6zM107.50 409.6v-62.2h0.5v62.2zM108.00 409.6v-56.6h0.5v56.6zM108.50 409.6v-64.4h0.5v64.4zM109.00 409.6v-64.4h0.5v64.4zM109.50 409.6v-36.0h0.5v36.0zM110.00 409.6v-16.4h0.5v16.4zM110.50 409.6v-18.6h0.5v18.6zM111.00 409.6v-18.6h0.5v18.6zM111.50 409.6v-90.5h0.5v90.5zM112.00 409.6v-77.1h0.5v77.1zM112.50 409.6v-21.1h0.5v21.1zM113.00 409.6v-116.1h0.5v116.1zM113.50 409.6v-116.1h0.5v116.1zM114.00 409.6v-37.1h0.5v37.1zM114.50 409.6v-32.7h0.5v32.7zM115.00 409.6v-73.1h0.5v73.1zM115.50 409.6v-73.1h0.5v73.1zM116.00 409.6v-56.2h0.5v56.2zM116.50 409.6v-35.6h0.5v35.6zM117.00 409.6v-42.6h0.5v42.6zM117.50 409.6v-42.6h0.5v42.6zM118.00 409.6v-31.7h0.5v31.7zM118.50 409.6v-31.7h0.5v31.7zM119.00 409.6v-31.7h0.5v31.7zM119.50 409.6v-38.7h0.5v38.7zM120.00 409.6v-30.7h0.5v30.7zM120.50 409.6v-85.1h0.5v85.1zM121.00 409.6v-59.7h0.5v59.7zM121.50 409.6v-75.3h0.5v75.3zM122.00 409.6v-85.4h0.5v85.4zM122.50 409.6v-85.4h0.5v85.4zM123.00 409.6v-77.5h0.5v77.5zM123.50 409.6v-60.1h0.5v60.1zM124.00 409.6v-76.9h0.5v76.9zM124.50 409.6v-76.9h0.5v76.9zM125.00 409.6v-76.9h0.5v76.9zM125.50 409.6v-76.9h0.5v76.9zM126.00 409.6v-66.6h0.5v66.6zM126.50 409.6v-66.6h0.5v66.6zM127.00 409.6v-54.6h0.5v54.6zM127.50 409.6v-30.9h0.5v30.9zM128.00 409.6v-66.6h0.5v66.6zM128.50 409.6v-20.0h0.5v20.0zM129.00 409.6v-60.0h0.5v60.0zM129.50 409.6v-60.0h0.5v60.0zM130.00 409.6v-38.2h0.5v38.2zM130.50 409.6v-22.6h0.5v22.6zM131.00 409.6v-10.8h0.5v10.8zM131.50 409.6v-25.2h0.5v25.2zM132.00 409.6v-92.3h0.5v92.3zM132.50 409.6v-90.2h0.5v90.2zM133.00 409.6v-89.4h0.5v89.4zM133.50 409.6v-14.3h0.5v14.3zM134.00 409.6v-57.8h0.5v57.8zM134.50 409.6v-14.2h0.5v14.2zM135.00 409.6v-14.2h0.5v14.2zM135.50 409.6v-61.1h0.5v61.1zM136.00 409.6v-32.8h0.5v32.8zM136.50 409.6v-10.3h0.5v10.3zM137.00 409.6v-61.1h0.5v61.1zM137.50 409.6v-61.1h0.5v61.1zM138.00 409.6v-21.6h0.5v21.6zM138.50 409.6v-61.1h0.5v61.1zM139.00 409.6v-62.2h0.5v62.2zM139.50 409.6v-62.2h0.5v62.2zM140.00 409.6v-77.5h0.5v77.5zM140.50 409.6v-77.5h0.5v77.5zM141.00 409.6v-77.7h0.5v77.7zM141.50 409.6v-77.7h0.5v77.7zM142.00 409.6v-38.2h0.5v38.2zM142.50 409.6v-11.9h0.5v11.9zM143.00 409.6v-38.2h0.5v38.2zM143.50 409.6v-69.8h0.5v69.8zM144.00 409.6v-127.4h0.5v127.4zM144.50 409.6v-127.4h0.5v127.4zM145.00 409.6v-84.5h0.5v84.5zM145.50 409.6v-68.8h0.5v68.8zM146.00 409.6v-68.8h0.5v68.8zM146.50 409.6v-49.1h0.5v49.1zM147.00 409.6v-49.1h0.5v49.1zM147.50 409.6v-70.9h0.5v70.9zM148.00 409.6v-132.4h0.5v132.4zM148.50 409.6v-132.4h0.5v132.4zM149.00 409.6v-89.8h0.5v89.8zM149.50 409.6v-89.8h0.5v89.8zM150.00 409.6v-79.7h0.5v79.7zM150.50 409.6v-79.7h0.5v79.7zM151.00 409.6v-132.4h0.5v132.4zM151.50 409.6v-132.4h0.5v132.4zM152.00 409.6v-60.0h0.5v60.0zM152.50 409.6v-15.9h0.5v15.9zM153.00 409.6v-5.3h0.5v5.3zM153.50 409.6v-79.3h0.5v79.3zM154.00 409.6v-86.8h0.5v86.8zM154.50 409.6v-86.8h0.5v86.8zM155.00 409.6v-53.5h0.5v53.5zM155.50 409.6v-11.0h0.5v11.0zM156.00 409.6v-27.1h0.5v27.1zM156.50 409.6v-3.6h0.5v3.6zM157.00 409.6v-27.3h0.5v27.3zM157.50 409.6v-12.7h0.5v12.7zM158.00 409.6v-26.8h0.5v26.8zM158.50 409.6v-46.0h0.5v46.0zM159.00 409.6v-62.2h0.5v62.2zM159.50 409.6v-62.2h0.5v62.2zM160.00 409.6v-60.0h0.5v60.0zM160.50 409.6v-49.0h0.5v49.0zM161.00 409.6v-22.9h0.5v22.9zM161.50 409.6v-22.9h0.5v22.9zM162.00 409.6v-87.1h0.5v87.1zM162.50 409.6v-87.1h0.5v87.1zM163.00 409.6v-86.2h0.5v86.2zM163.50 409.6v-20.0h0.5v20.0zM164.00 409.6v-27.3h0.5v27.3zM164.50 409.6v-38.2h0.5v38.2zM165.00 409.6v-38.2h0.5v38.2zM165.50 409.6v-81.8h0.5v81.8zM166.00 409.6v-81.8h0.5v81.8zM166.50 409.6v-84.0h0.5v84.0zM167.00 409.6v-84.0h0.5v84.0zM167.50 409.6v-86.2h0.5v86.2zM168.00 409.6v-86.3h0.5v86.3zM168.50 409.6v-86.3h0.5v86.3zM169.00 409.6v-77.5h0.5v77.5zM169.50 409.6v-77.5h0.5v77.5zM170.00 409.6v-39.5h0.5v39.5zM170.50 409.6v-55.7h0.5v55.7zM171.00 409.6v-77.5h0.5v77.5zM171.50 409.6v-77.5h0.5v77.5zM172.00 409.6v-22.9h0.5v22.9zM172.50 409.6v-22.9h0.5v22.9zM173.00 409.6v-25.1h0.5v25.1zM173.50 409.6v-25.1h0.5v25.1zM174.00 409.6v-36.0h0.5v36.0zM174.50 409.6v-36.0h0.5v36.0zM175.00 409.6v-23.2h0.5v23.2zM175.50 409.6v-38.2h0.5v38.2zM176.00 409.6v-38.2h0.5v38.2zM176.50 409.6v-31.7h0.5v31.7zM177.00 409.6v-31.7h0.5v31.7zM177.50 409.6v-79.7h0.5v79.7zM178.00 409.6v-79.6h0.5v79.6zM178.50 409.6v-79.6h0.5v79.6zM179.00 409.6v-44.8h0.5v44.8zM179.50 409.6v-36.0h0.5v36.0zM180.00 409.6v-36.0h0.5v36.0zM180.50 409.6v-40.4h0.5v40.4zM181.00 409.6v-24.8h0.5v24.8zM181.50 409.6v-36.5h0.5v36.5zM182.00 409.6v-90.5h0.5v90.5zM182.50 409.6v-90.5h0.5v90.5zM183.00 409.6v-100.4h0.5v100.4zM183.50 409.6v-77.5h0.5v77.5zM184.00 409.6v-20.8h0.5v20.8zM184.50 409.6v-8.4h0.5v8.4zM185.00 409.6v-53.5h0.5v53.5zM185.50 409.6v-53.5h0.5v53.5zM186.00 409.6v-49.1h0.5v49.1zM186.50 409.6v-49.1h0.5v49.1zM187.00 409.6v-28.0h0.5v28.0zM187.50 409.6v-78.6h0.5v78.6zM188.00 409.6v-54.2h0.5v54.2zM188.50 409.6v-40.4h0.5v40.4zM189.00 409.6v-40.4h0.5v40.4zM189.50 409.6v-19.2h0.5v19.2zM190.00 409.6v-15.8h0.5v15.8zM190.50 409.6v-27.3h0.5v27.3zM191.00 409.6v-27.3h0.5v27.3zM191.50 409.6v-13.4h0.5v13.4zM192.00 409.6v-25.1h0.5v25.1zM192.50 409.6v-14.5h0.5v14.5zM193.00 409.6v-16.4h0.5v16.4zM193.50 409.6v-11.9h0.5v11.9zM194.00 409.6v-10.0h0.5v10.0zM194.50 409.6v-18.6h0.5v18.6zM195.00 409.6v-76.9h0.5v76.9zM195.50 409.6v-76.9h0.5v76.9zM196.00 409.6v-22.9h0.5v22.9zM196.50 409.6v-22.9h0.5v22.9zM197.00 409.6v-11.1h0.5v11.1zM197.50 409.6v-20.7h0.5v20.7zM198.00 409.6v-97.0h0.5v97.0zM198.50 409.6v-90.4h0.5v90.4zM199.00 409.6v-50.9h0.5v50.9zM199.50 409.6v-91.4h0.5v91.4zM200.00 409.6v-105.9h0.5v105.9zM200.50 409.6v-105.9h0.5v105.9zM201.00 409.6v-53.2h0.5v53.2zM201.50 409.6v-75.3h0.5v75.3zM202.00 409.6v-75.3h0.5v75.3zM202.50 409.6v-31.7h0.5v31.7zM203.00 409.6v-31.7h0.5v31.7zM203.50 409.6v-92.2h0.5v92.2zM204.00 409.6v-93.6h0.5v93.6zM204.50 409.6v-92.2h0.5v92.2zM205.00 409.6v-60.0h0.5v60.0zM205.50 409.6v-51.5h0.5v51.5zM206.00 409.6v-60.0h0.5v60.0zM206.50 409.6v-60.0h0.5v60.0zM207.00 409.6v-44.8h0.5v44.8zM207.50 409.6v-44.8h0.5v44.8zM208.00 409.6v-39.8h0.5v39.8zM208.50 409.6v-51.1h0.5v51.1zM209.00 409.6v-22.0h0.5v22.0zM209.50 409.6v-8.8h0.5v8.8zM210.00 409.6v-31.7h0.5v31.7zM210.50 409.6v-31.7h0.5v31.7zM211.00 409.6v-31.7h0.5v31.7zM211.50 409.6v-55.7h0.5v55.7zM212.00 409.6v-55.7h0.5v55.7zM212.50 409.6v-44.8h0.5v44.8zM213.00 409.6v-44.8h0.5v44.8zM213.50 409.6v-36.0h0.5v36.0zM214.00 409.6v-36.0h0.5v36.0zM214.50 409.6v-31.7h0.5v31.7zM215.00 409.6v-31.7h0.5v31.7zM215.50 409.6v-24.3h0.5v24.3zM216.00 409.6v-29.5h0.5v29.5zM216.50 409.6v-22.9h0.5v22.9zM217.00 409.6v-22.9h0.5v22.9zM217.50 409.6v-22.9h0.5v22.9zM218.00 409.6v-147.4h0.5v147.4zM218.50 409.6v-147.4h0.5v147.4zM219.00 409.6v-66.6h0.5v66.6zM219.50 409.6v-21.2h0.5v21.2zM220.00 409.6v-100.2h0.5v100.2zM220.50 409.6v-24.9h0.5v24.9zM221.00 409.6v-66.6h0.5v66.6zM221.50 409.6v-66.6h0.5v66.6zM222.00 409.6v-55.7h0.5v55.7zM222.50 409.6v-55.7h0.5v55.7zM223.00 409.6v-55.7h0.5v55.7zM223.50 409.6v-42.6h0.5v42.6zM224.00 409.6v-42.6h0.5v42.6zM224.50 409.6v-49.1h0.5v49.1zM225.00 409.6v-38.5h0.5v38.5zM225.50 409.6v-46.6h0.5v46.6zM226.00 409.6v-38.3h0.5v38.3zM226.50 409.6v-99.0h0.5v99.0zM227.00 409.6v-147.4h0.5v147.4zM227.50 409.6v-147.4h0.5v147.4zM228.00 409.6v-132.2h0.5v132.2zM228.50 409.6v-132.2h0.5v132.2zM229.00 409.6v-66.6h0.5v66.6zM229.50 409.6v-84.0h0.5v84.0zM230.00 409.6v-79.7h0.5v79.7zM230.50 409.6v-71.7h0.5v71.7zM231.00 409.6v-44.8h0.5v44.8zM231.50 409.6v-44.8h0.5v44.8zM232.00 409.6v-52.8h0.5v52.8zM232.50 409.6v-70.9h0.5v70.9zM233.00 409.6v-75.3h0.5v75.3zM233.50 409.6v-75.3h0.5v75.3zM234.00 409.6v-27.5h0.5v27.5zM234.50 409.6v-38.2h0.5v38.2zM235.00 409.6v-132.2h0.5v132.2zM235.50 409.6v-132.2h0.5v132.2zM236.00 409.6v-101.7h0.5v101.7zM236.50 409.6v-38.2h0.5v38.2zM237.00 409.6v-38.2h0.5v38.2zM237.50 409.6v-75.3h0.5v75.3zM238.00 409.6v-75.3h0.5v75.3zM238.50 409.6v-73.1h0.5v73.1zM239.00 409.6v-48.1h0.5v48.1zM239.50 409.6v-25.1h0.5v25.1zM240.00 409.6v-19.1h0.5v19.1zM240.50 409.6v-27.3h0.5v27.3zM241.00 409.6v-27.3h0.5v27.3zM241.50 409.6v-16.9h0.5v16.9zM242.00 409.6v-7.7h0.5v7.7zM242.50 409.6v-6.7h0.5v6.7zM243.00 409.6v-31.7h0.5v31.7zM243.50 409.6v-31.7h0.5v31.7zM244.00 409.6v-33.8h0.5v33.8zM244.50 409.6v-33.8h0.5v33.8zM245.00 409.6v-60.0h0.5v60.0zM245.50 409.6v-53.8h0.5v53.8zM246.00 409.6v-40.4h0.5v40.4zM246.50 409.6v-40.4h0.5v40.4zM247.00 409.6v-17.1h0.5v17.1zM247.50 409.6v-19.0h0.5v19.0zM248.00 409.6v-27.0h0.5v27.0zM248.50 409.6v-38.2h0.5v38.2zM249.00 409.6v-38.2h0.5v38.2zM249.50 409.6v-53.8h0.5v53.8zM250.00 409.6v-93.9h0.5v93.9zM250.50 409.6v-97.4h0.5v97.4zM251.00 409.6v-102.1h0.5v102.1zM251.50 409.6v-29.8h0.5v29.8zM252.00 409.6v-68.8h0.5v68.8zM252.50 409.6v-73.1h0.5v73.1zM253.00 409.6v-73.1h0.5v73.1zM253.50 409.6v-73.1h0.5v73.1zM254.00 409.6v-62.2h0.5v62.2zM254.50 409.6v-43.2h0.5v43.2zM255.00 409.6v-120.1h0.5v120.1zM255.50 409.6v-120.1h0.5v120.1zM256.00 409.6v-5.5h0.5v5.5zM256.50 409.6v-5.5h0.5v5.5zM257.00 409.6v-5.5h0.5v5.5zM257.50 409.6v-5.5h0.5v5.5zM258.00 409.6v-91.4h0.5v91.4zM258.50 409.6v-61.7h0.5v61.7zM259.00 409.6v-89.3h0.5v89.3zM259.50 409.6v-102.0h0.5v102.0zM260.00 409.6v-120.1h0.5v120.1zM260.50 409.6v-120.1h0.5v120.1zM261.00 409.6v-75.3h0.5v75.3zM261.50 409.6v-55.7h0.5v55.7zM262.00 409.6v-55.7h0.5v55.7zM262.50 409.6v-51.3h0.5v51.3zM263.00 409.6v-51.3h0.5v51.3zM263.50 409.6v-3.3h0.5v3.3zM264.00 409.6v-2.4h0.5v2.4zM264.50 409.6v-3.3h0.5v3.3z" fill="#5a5a5a"/>
<path d="M36.00 409.6v-59.9h0.5v59.9zM36.50 409.6v-59.9h0.5v59.9zM37.00 409.6v-59.9h0.5v59.9zM37.50 409.6v-59.9h0.5v59.9zM38.00 409.6v-51.8h0.5v51.8zM38.50 409.6v-51.8h0.5v51.8zM39.00 409.6v-24.0h0.5v24.0zM39.50 409.6v-26.6h0.5v26.6zM40.00 409.6v-41.6h0.5v41.6zM40.50 409.6v-86.1h0.5v86.1zM41.00 409.6v-120.2h0.5v120.2zM41.50 409.6v-120.2h0.5v120.2zM42.00 409.6v-92.8h0.5v92.8zM42.50 409.6v-61.9h0.5v61.9zM43.00 409.6v-52.2h0.5v52.2zM43.50 409.6v-25.8h0.5v25.8zM44.00 409.6v-51.8h0.5v51.8zM44.50 409.6v-42.4h0.5v42.4zM45.00 409.6v-31.5h0.5v31.5zM45.50 409.6v-31.5h0.5v31.5zM46.00 409.6v-88.6h0.5v88.6zM46.50 409.6v-81.0h0.5v81.0zM47.00 409.6v-61.9h0.5v61.9zM47.50 409.6v-22.7h0.5v22.7zM48.00 409.6v-20.2h0.5v20.2zM48.50 409.6v-41.6h0.5v41.6zM49.00 409.6v-41.6h0.5v41.6zM49.50 409.6v-30.1h0.5v30.1zM50.00 409.6v-31.5h0.5v31.5zM50.50 409.6v-31.5h0.5v31.5zM51.00 409.6v-17.9h0.5v17.9zM51.50 409.6v-25.4h0.5v25.4zM52.00 409.6v-16.8h0.5v16.8zM52.50 409.6v-21.3h0.5v21.3zM53.00 409.6v-21.3h0.5v21.3zM53.50 409.6v-17.3h0.5v17.3zM54.00 409.6v-3.5h0.5v3.5zM54.50 409.6v-3.1h0.5v3.1zM55.00 409.6v-3.1h0.5v3.1zM55.50 409.6v-40.9h0.5v40.9zM56.00 409.6v-61.9h0.5v61.9zM56.50 409.6v-42.0h0.5v42.0zM57.00 409.6v-14.7h0.5v14.7zM57.50 409.6v-83.4h0.5v83.4zM58.00 409.6v-120.2h0.5v120.2zM58.50 409.6v-120.2h0.5v120.2zM59.00 409.6v-61.9h0.5v61.9zM59.50 409.6v-61.9h0.5v61.9zM60.00 409.6v-65.5h0.5v65.5zM60.50 409.6v-31.4h0.5v31.4zM61.00 409.6v-77.7h0.5v77.7zM61.50 409.6v-77.7h0.5v77.7zM62.00 409.6v-29.9h0.5v29.9zM62.50 409.6v-66.0h0.5v66.0zM63.00 409.6v-25.5h0.5v25.5zM63.50 409.6v-45.4h0.5v45.4zM64.00 409.6v-68.0h0.5v68.0zM64.50 409.6v-59.9h0.5v59.9zM65.00 409.6v-59.9h0.5v59.9zM65.50 409.6v-51.8h0.5v51.8zM66.00 409.6v-13.6h0.5v13.6zM66.50 409.6v-31.5h0.5v31.5zM67.00 409.6v-31.5h0.5v31.5zM67.50 409.6v-27.4h0.5v27.4zM68.00 409.6v-19.1h0.5v19.1zM68.50 409.6v-27.4h0.5v27.4zM69.00 409.6v-25.4h0.5v25.4zM69.50 409.6v-7.7h0.5v7.7zM70.00 409.6v-25.4h0.5v25.4zM70.50 409.6v-25.4h0.5v25.4zM71.00 409.6v-29.4h0.5v29.4zM71.50 409.6v-29.4h0.5v29.4zM72.00 409.6v-15.5h0.5v15.5zM72.50 409.6v-25.4h0.5v25.4zM73.00 409.6v-41.6h0.5v41.6zM73.50 409.6v-41.6h0.5v41.6zM74.00 409.6v-5.8h0.5v5.8zM74.50 409.6v-33.5h0.5v33.5zM75.00 409.6v-81.0h0.5v81.0zM75.50 409.6v-81.0h0.5v81.0zM76.00 409.6v-76.1h0.5v76.1zM76.50 409.6v-74.1h0.5v74.1zM77.00 409.6v-74.1h0.5v74.1zM77.50 409.6v-41.6h0.5v41.6zM78.00 409.6v-41.6h0.5v41.6zM78.50 409.6v-27.6h0.5v27.6zM79.00 409.6v-57.9h0.5v57.9zM79.50 409.6v-83.0h0.5v83.0zM80.00 409.6v-110.2h0.5v110.2zM80.50 409.6v-110.2h0.5v110.2zM81.00 409.6v-51.8h0.5v51.8zM81.50 409.6v-18.8h0.5v18.8zM82.00 409.6v-13.4h0.5v13.4zM82.50 409.6v-18.3h0.5v18.3zM83.00 409.6v-59.4h0.5v59.4zM83.50 409.6v-70.0h0.5v70.0zM84.00 409.6v-83.8h0.5v83.8zM84.50 409.6v-48.5h0.5v48.5zM85.00 409.6v-75.6h0.5v75.6zM85.50 409.6v-69.1h0.5v69.1zM86.00 409.6v-96.3h0.5v96.3zM86.50 409.6v-96.3h0.5v96.3zM87.00 409.6v-81.0h0.5v81.0zM87.50 409.6v-81.0h0.5v81.0zM88.00 409.6v-13.0h0.5v13.0zM88.50 409.6v-25.2h0.5v25.2zM89.00 409.6v-61.9h0.5v61.9zM89.50 409.6v-53.8h0.5v53.8zM90.00 409.6v-41.8h0.5v41.8zM90.50 409.6v-29.0h0.5v29.0zM91.00 409.6v-31.5h0.5v31.5zM91.50 409.6v-49.7h0.5v49.7zM92.00 409.6v-6.2h0.5v6.2zM92.50 409.6v-8.4h0.5v8.4zM93.00 409.6v-27.2h0.5v27.2zM93.50 409.6v-11.2h0.5v11.2zM94.00 409.6v-13.6h0.5v13.6zM94.50 409.6v-45.0h0.5v45.0zM95.00 409.6v-28.9h0.5v28.9zM95.50 409.6v-63.9h0.5v63.9zM96.00 409.6v-51.8h0.5v51.8zM96.50 409.6v-51.8h0.5v51.8zM97.00 409.6v-74.1h0.5v74.1zM97.50 409.6v-55.2h0.5v55.2zM98.00 409.6v-81.0h0.5v81.0zM98.50 409.6v-81.0h0.5v81.0zM99.00 409.6v-61.9h0.5v61.9zM99.50 409.6v-39.3h0.5v39.3zM100.00 409.6v-51.8h0.5v51.8zM100.50 409.6v-19.8h0.5v19.8zM101.00 409.6v-41.6h0.5v41.6zM101.50 409.6v-51.8h0.5v51.8zM102.00 409.6v-51.8h0.5v51.8zM102.50 409.6v-21.2h0.5v21.2zM103.00 409.6v-31.5h0.5v31.5zM103.50 409.6v-51.8h0.5v51.8zM104.00 409.6v-8.3h0.5v8.3zM104.50 409.6v-51.8h0.5v51.8zM105.00 409.6v-113.2h0.5v113.2zM105.50 409.6v-113.2h0.5v113.2zM106.00 409.6v-17.0h0.5v17.0zM106.50 409.6v-26.1h0.5v26.1zM107.00 409.6v-20.7h0.5v20.7zM107.50 409.6v-6.6h0.5v6.6zM108.00 409.6v-45.7h0.5v45.7zM108.50 409.6v-45.7h0.5v45.7zM109.00 409.6v-57.9h0.5v57.9zM109.50 409.6v-57.9h0.5v57.9zM110.00 409.6v-25.5h0.5v25.5zM110.50 409.6v-59.9h0.5v59.9zM111.00 409.6v-59.9h0.5v59.9zM111.50 409.6v-49.7h0.5v49.7zM112.00 409.6v-49.7h0.5v49.7zM112.50 409.6v-52.1h0.5v52.1zM113.00 409.6v-70.0h0.5v70.0zM113.50 409.6v-74.1h0.5v74.1zM114.00 409.6v-20.3h0.5v20.3zM114.50 409.6v-66.1h0.5v66.1zM115.00 409.6v-76.9h0.5v76.9zM115.50 409.6v-76.9h0.5v76.9zM116.00 409.6v-17.9h0.5v17.9zM116.50 409.6v-14.0h0.5v14.0zM117.00 409.6v-30.2h0.5v30.2zM117.50 409.6v-47.9h0.5v47.9zM118.00 409.6v-68.0h0.5v68.0zM118.50 409.6v-47.2h0.5v47.2zM119.00 409.6v-33.7h0.5v33.7zM119.50 409.6v-55.8h0.5v55.8zM120.00 409.6v-41.6h0.5v41.6zM120.50 409.6v-25.8h0.5v25.8zM121.00 409.6v-9.4h0.5v9.4zM121.50 409.6v-23.1h0.5v23.1zM122.00 409.6v-20.9h0.5v20.9zM122.50 409.6v-35.5h0.5v35.5zM123.00 409.6v-7.0h0.5v7.0zM123.50 409.6v-31.1h0.5v31.1zM124.00 409.6v-45.7h0.5v45.7zM124.50 409.6v-35.5h0.5v35.5zM125.00 409.6v-35.5h0.5v35.5zM125.50 409.6v-15.0h0.5v15.0zM126.00 409.6v-27.5h0.5v27.5zM126.50 409.6v-10.5h0.5v10.5zM127.00 409.6v-41.8h0.5v41.8zM127.50 409.6v-68.5h0.5v68.5zM128.00 409.6v-81.0h0.5v81.0zM128.50 409.6v-81.0h0.5v81.0zM129.00 409.6v-45.8h0.5v45.8zM129.50 409.6v-44.5h0.5v44.5zM130.00 409.6v-8.4h0.5v8.4zM130.50 409.6v-9.9h0.5v9.9zM131.00 409.6v-30.4h0.5v30.4zM131.50 409.6v-22.6h0.5v22.6zM132.00 409.6v-111.0h0.5v111.0zM132.50 409.6v-111.0h0.5v111.0zM133.00 409.6v-87.7h0.5v87.7zM133.50 409.6v-93.0h0.5v93.0zM134.00 409.6v-15.2h0.5v15.2zM134.50 409.6v-15.2h0.5v15.2zM135.00 409.6v-15.2h0.5v15.2zM135.50 409.6v-47.7h0.5v47.7zM136.00 409.6v-38.0h0.5v38.0zM136.50 409.6v-55.8h0.5v55.8zM137.00 409.6v-21.7h0.5v21.7zM137.50 409.6v-84.6h0.5v84.6zM138.00 409.6v-120.2h0.5v120.2zM138.50 409.6v-120.2h0.5v120.2zM139.00 409.6v-83.8h0.5v83.8zM139.50 409.6v-57.9h0.5v57.9zM140.00 409.6v-29.1h0.5v29.1zM140.50 409.6v-35.3h0.5v35.3zM141.00 409.6v-80.3h0.5v80.3zM141.50 409.6v-80.3h0.5v80.3zM142.00 409.6v-11.8h0.5v11.8zM142.50 409.6v-50.9h0.5v50.9zM143.00 409.6v-61.9h0.5v61.9zM143.50 409.6v-14.4h0.5v14.4zM144.00 409.6v-63.9h0.5v63.9zM144.50 409.6v-63.9h0.5v63.9zM145.00 409.6v-51.8h0.5v51.8zM145.50 409.6v-51.8h0.5v51.8zM146.00 409.6v-63.9h0.5v63.9zM146.50 409.6v-63.9h0.5v63.9zM147.00 409.6v-63.9h0.5v63.9zM147.50 409.6v-15.6h0.5v15.6zM148.00 409.6v-27.0h0.5v27.0zM148.50 409.6v-51.9h0.5v51.9zM149.00 409.6v-31.8h0.5v31.8zM149.50 409.6v-47.9h0.5v47.9zM150.00 409.6v-52.0h0.5v52.0zM150.50 409.6v-49.5h0.5v49.5zM151.00 409.6v-66.0h0.5v66.0zM151.50 409.6v-20.3h0.5v20.3zM152.00 409.6v-61.9h0.5v61.9zM152.50 409.6v-61.9h0.5v61.9zM153.00 409.6v-81.0h0.5v81.0zM153.50 409.6v-81.0h0.5v81.0zM154.00 409.6v-68.1h0.5v68.1zM154.50 409.6v-41.6h0.5v41.6zM155.00 409.6v-41.6h0.5v41.6zM155.50 409.6v-37.6h0.5v37.6zM156.00 409.6v-37.6h0.5v37.6zM156.50 409.6v-4.0h0.5v4.0zM157.00 409.6v-5.8h0.5v5.8zM157.50 409.6v-61.9h0.5v61.9zM158.00 409.6v-29.3h0.5v29.3zM158.50 409.6v-59.9h0.5v59.9zM159.00 409.6v-44.4h0.5v44.4zM159.50 409.6v-37.4h0.5v37.4zM160.00 409.6v-29.5h0.5v29.5zM160.50 409.6v-49.4h0.5v49.4zM161.00 409.6v-6.0h0.5v6.0zM161.50 409.6v-10.2h0.5v10.2zM162.00 409.6v-24.7h0.5v24.7zM162.50 409.6v-38.1h0.5v38.1zM163.00 409.6v-81.0h0.5v81.0zM163.50 409.6v-81.0h0.5v81.0zM164.00 409.6v-41.8h0.5v41.8zM164.50 409.6v-48.3h0.5v48.3zM165.00 409.6v-25.1h0.5v25.1zM165.50 409.6v-61.9h0.5v61.9zM166.00 409.6v-24.1h0.5v24.1zM166.50 409.6v-66.0h0.5v66.0zM167.00 409.6v-33.2h0.5v33.2zM167.50 409.6v-32.0h0.5v32.0zM168.00 409.6v-53.0h0.5v53.0zM168.50 409.6v-42.5h0.5v42.5zM169.00 409.6v-15.2h0.5v15.2zM169.50 409.6v-62.7h0.5v62.7zM170.00 409.6v-112.6h0.5v112.6zM170.50 409.6v-112.6h0.5v112.6zM171.00 409.6v-31.5h0.5v31.5zM171.50 409.6v-28.7h0.5v28.7zM172.00 409.6v-15.1h0.5v15.1zM172.50 409.6v-12.1h0.5v12.1zM173.00 409.6v-21.3h0.5v21.3zM173.50 409.6v-21.3h0.5v21.3zM174.00 409.6v-12.2h0.5v12.2zM174.50 409.6v-17.5h0.5v17.5zM175.00 409.6v-41.8h0.5v41.8zM175.50 409.6v-74.1h0.5v74.1zM176.00 409.6v-81.0h0.5v81.0zM176.50 409.6v-81.0h0.5v81.0zM177.00 409.6v-13.0h0.5v13.0zM177.50 409.6v-19.7h0.5v19.7zM178.00 409.6v-29.4h0.5v29.4zM178.50 409.6v-16.6h0.5v16.6zM179.00 409.6v-29.4h0.5v29.4zM179.50 409.6v-14.0h0.5v14.0zM180.00 409.6v-7.8h0.5v7.8zM180.50 409.6v-50.1h0.5v50.1zM181.00 409.6v-41.9h0.5v41.9zM181.50 409.6v-59.9h0.5v59.9zM182.00 409.6v-59.9h0.5v59.9zM182.50 409.6v-16.4h0.5v16.4zM183.00 409.6v-31.5h0.5v31.5zM183.50 409.6v-22.4h0.5v22.4zM184.00 409.6v-27.9h0.5v27.9zM184.50 409.6v-31.5h0.5v31.5zM185.00 409.6v-48.3h0.5v48.3zM185.50 409.6v-74.1h0.5v74.1zM186.00 409.6v-74.1h0.5v74.1zM186.50 409.6v-74.1h0.5v74.1zM187.00 409.6v-113.1h0.5v113.1zM187.50 409.6v-113.1h0.5v113.1zM188.00 409.6v-43.3h0.5v43.3zM188.50 409.6v-14.2h0.5v14.2zM189.00 409.6v-113.1h0.5v113.1zM189.50 409.6v-113.1h0.5v113.1zM190.00 409.6v-30.2h0.5v30.2zM190.50 409.6v-18.7h0.5v18.7zM191.00 409.6v-55.8h0.5v55.8zM191.50 409.6v-74.1h0.5v74.1zM192.00 409.6v-113.1h0.5v113.1zM192.50 409.6v-113.1h0.5v113.1zM193.00 409.6v-80.2h0.5v80.2zM193.50 409.6v-13.6h0.5v13.6zM194.00 409.6v-19.8h0.5v19.8zM194.50 409.6v-45.5h0.5v45.5zM195.00 409.6v-8.5h0.5v8.5zM195.50 409.6v-11.0h0.5v11.0zM196.00 409.6v-120.2h0.5v120.2zM196.50 409.6v-120.2h0.5v120.2zM197.00 409.6v-53.8h0.5v53.8zM197.50 409.6v-53.8h0.5v53.8zM198.00 409.6v-55.8h0.5v55.8zM198.50 409.6v-55.8h0.5v55.8zM199.00 409.6v-15.9h0.5v15.9zM199.50 409.6v-41.6h0.5v41.6zM200.00 409.6v-12.0h0.5v12.0zM200.50 409.6v-61.9h0.5v61.9zM201.00 409.6v-28.5h0.5v28.5zM201.50 409.6v-50.6h0.5v50.6zM202.00 409.6v-53.8h0.5v53.8zM202.50 409.6v-23.6h0.5v23.6zM203.00 409.6v-49.5h0.5v49.5zM203.50 409.6v-55.8h0.5v55.8zM204.00 409.6v-55.8h0.5v55.8zM204.50 409.6v-55.8h0.5v55.8zM205.00 409.6v-55.8h0.5v55.8zM205.50 409.6v-47.7h0.5v47.7zM206.00 409.6v-47.7h0.5v47.7zM206.50 409.6v-61.9h0.5v61.9zM207.00 409.6v-54.8h0.5v54.8zM207.50 409.6v-35.0h0.5v35.0zM208.00 409.6v-53.8h0.5v53.8zM208.50 409.6v-53.8h0.5v53.8zM209.00 409.6v-51.8h0.5v51.8zM209.50 409.6v-32.5h0.5v32.5zM210.00 409.6v-86.6h0.5v86.6zM210.50 409.6v-86.6h0.5v86.6zM211.00 409.6v-33.0h0.5v33.0zM211.50 409.6v-35.5h0.5v35.5zM212.00 409.6v-31.5h0.5v31.5zM212.50 409.6v-6.7h0.5v6.7zM213.00 409.6v-31.5h0.5v31.5zM213.50 409.6v-31.5h0.5v31.5zM214.00 409.6v-13.7h0.5v13.7zM214.50 409.6v-7.1h0.5v7.1zM215.00 409.6v-21.3h0.5v21.3zM215.50 409.6v-41.6h0.5v41.6zM216.00 409.6v-29.4h0.5v29.4zM216.50 409.6v-41.6h0.5v41.6zM217.00 409.6v-41.6h0.5v41.6zM217.50 409.6v-78.1h0.5v78.1zM218.00 409.6v-88.6h0.5v88.6zM218.50 409.6v-88.6h0.5v88.6zM219.00 409.6v-70.0h0.5v70.0zM219.50 409.6v-70.0h0.5v70.0zM220.00 409.6v-52.2h0.5v52.2zM220.50 409.6v-61.9h0.5v61.9zM221.00 409.6v-63.9h0.5v63.9zM221.50 409.6v-63.9h0.5v63.9zM222.00 409.6v-47.0h0.5v47.0zM222.50 409.6v-51.8h0.5v51.8zM223.00 409.6v-19.3h0.5v19.3zM223.50 409.6v-55.8h0.5v55.8zM224.00 409.6v-58.5h0.5v58.5zM224.50 409.6v-62.2h0.5v62.2zM225.00 409.6v-81.0h0.5v81.0zM225.50 409.6v-81.0h0.5v81.0zM226.00 409.6v-44.8h0.5v44.8zM226.50 409.6v-74.1h0.5v74.1zM227.00 409.6v-74.1h0.5v74.1zM227.50 409.6v-61.9h0.5v61.9zM228.00 409.6v-61.9h0.5v61.9zM228.50 409.6v-74.1h0.5v74.1zM229.00 409.6v-45.8h0.5v45.8zM229.50 409.6v-74.1h0.5v74.1zM230.00 409.6v-56.9h0.5v56.9zM230.50 409.6v-38.7h0.5v38.7zM231.00 409.6v-81.0h0.5v81.0zM231.50 409.6v-81.0h0.5v81.0zM232.00 409.6v-81.0h0.5v81.0zM232.50 409.6v-81.0h0.5v81.0zM233.00 409.6v-53.8h0.5v53.8zM233.50 409.6v-11.0h0.5v11.0zM234.00 409.6v-51.8h0.5v51.8zM234.50 409.6v-51.8h0.5v51.8zM235.00 409.6v-20.2h0.5v20.2zM235.50 409.6v-9.8h0.5v9.8zM236.00 409.6v-26.4h0.5v26.4zM236.50 409.6v-33.5h0.5v33.5zM237.00 409.6v-17.6h0.5v17.6zM237.50 409.6v-35.5h0.5v35.5zM238.00 409.6v-16.3h0.5v16.3zM238.50 409.6v-56.9h0.5v56.9zM239.00 409.6v-80.3h0.5v80.3zM239.50 409.6v-80.3h0.5v80.3zM240.00 409.6v-74.1h0.5v74.1zM240.50 409.6v-7.0h0.5v7.0zM241.00 409.6v-33.5h0.5v33.5zM241.50 409.6v-33.5h0.5v33.5zM242.00 409.6v-31.3h0.5v31.3zM242.50 409.6v-8.2h0.5v8.2zM243.00 409.6v-33.5h0.5v33.5zM243.50 409.6v-33.5h0.5v33.5zM244.00 409.6v-81.0h0.5v81.0zM244.50 409.6v-81.0h0.5v81.0zM245.00 409.6v-33.5h0.5v33.5zM245.50 409.6v-33.5h0.5v33.5zM246.00 409.6v-33.5h0.5v33.5zM246.50 409.6v-33.5h0.5v33.5zM247.00 409.6v-8.1h0.5v8.1zM247.50 409.6v-17.8h0.5v17.8zM248.00 409.6v-21.1h0.5v21.1zM248.50 409.6v-17.3h0.5v17.3zM249.00 409.6v-4.2h0.5v4.2zM249.50 409.6v-33.5h0.5v33.5zM250.00 409.6v-33.5h0.5v33.5zM250.50 409.6v-31.5h0.5v31.5zM251.00 409.6v-31.5h0.5v31.5zM251.50 409.6v-61.9h0.5v61.9zM252.00 409.6v-50.6h0.5v50.6zM252.50 409.6v-51.3h0.5v51.3zM253.00 409.6v-81.0h0.5v81.0zM253.50 409.6v-81.0h0.5v81.0zM254.00 409.6v-61.9h0.5v61.9zM254.50 409.6v-68.0h0.5v68.0zM255.00 409.6v-68.0h0.5v68.0zM255.50 409.6v-46.2h0.5v46.2zM256.00 409.6v-70.0h0.5v70.0zM256.50 409.6v-70.0h0.5v70.0zM257.00 409.6v-113.6h0.5v113.6zM257.50 409.6v-113.6h0.5v113.6zM258.00 409.6v-13.1h0.5v13.1zM258.50 409.6v-53.8h0.5v53.8zM259.00 409.6v-68.0h0.5v68.0zM259.50 409.6v-68.0h0.5v68.0zM260.00 409.6v-61.9h0.5v61.9zM260.50 409.6v-47.0h0.5v47.0zM261.00 409.6v-51.8h0.5v51.8zM261.50 409.6v-51.8h0.5v51.8zM262.00 409.6v-32.0h0.5v32.0zM262.50 409.6v-51.8h0.5v51.8zM263.00 409.6v-39.7h0.5v39.7zM263.50 409.6v-16.6h0.5v16.6zM264.00 409.6v-21.3h0.5v21.3zM264.50 409.6v-8.8h0.5v8.8z" fill="#8000ff"/>
<path d="M304.00 409.6v-92.2h0.5v92.2zM304.50 409.6v-92.3h0.5v92.3zM305.00 409.6v-95.0h0.5v95.0zM305.50 409.6v-35.3h0.5v35.3zM306.00 409.6v-60.0h0.5v60.0zM306.50 409.6v-100.2h0.5v100.2zM307.00 409.6v-147.6h0.5v147.6zM307.50 409.6v-147.6h0.5v147.6zM308.00 409.6v-85.4h0.5v85.4zM308.50 409.6v-85.4h0.5v85.4zM309.00 409.6v-40.4h0.5v40.4zM309.50 409.6v-40.4h0.5v40.4zM310.00 409.6v-116.1h0.5v116.1zM310.50 409.6v-116.1h0.5v116.1zM311.00 409.6v-84.0h0.5v84.0zM311.50 409.6v-84.0h0.5v84.0zM312.00 409.6v-14.2h0.5v14.2zM312.50 409.6v-14.2h0.5v14.2zM313.00 409.6v-62.2h0.5v62.2zM313.50 409.6v-62.2h0.5v62.2zM314.00 409.6v-84.0h0.5v84.0zM314.50 409.6v-84.0h0.5v84.0zM315.00 409.6v-84.0h0.5v84.0zM315.50 409.6v-83.4h0.5v83.4zM316.00 409.6v-48.1h0.5v48.1zM316.50 409.6v-63.3h0.5v63.3zM317.00 409.6v-63.3h0.5v63.3zM317.50 409.6v-27.3h0.5v27.3zM318.00 409.6v-55.7h0.5v55.7zM318.50 409.6v-77.9h0.5v77.9zM319.00 409.6v-147.6h0.5v147.6zM319.50 409.6v-147.6h0.5v147.6zM320.00 409.6v-55.7h0.5v55.7zM320.50 409.6v-44.8h0.5v44.8zM321.00 409.6v-39.8h0.5v39.8zM321.50 409.6v-44.8h0.5v44.8zM322.00 409.6v-51.3h0.5v51.3zM322.50 409.6v-51.3h0.5v51.3zM323.00 409.6v-2.2h0.5v2.2zM323.50 409.6v-1.6h0.5v1.6zM324.00 409.6v-91.2h0.5v91.2zM324.50 409.6v-98.4h0.5v98.4zM325.00 409.6v-132.4h0.5v132.4zM325.50 409.6v-132.4h0.5v132.4zM326.00 409.6v-68.8h0.5v68.8zM326.50 409.6v-52.1h0.5v52.1zM327.00 409.6v-68.8h0.5v68.8zM327.50 409.6v-53.5h0.5v53.5zM328.00 409.6v-53.5h0.5v53.5zM328.50 409.6v-60.0h0.5v60.0zM329.00 409.6v-56.6h0.5v56.6zM329.50 409.6v-49.1h0.5v49.1zM330.00 409.6v-49.1h0.5v49.1zM330.50 409.6v-55.7h0.5v55.7zM331.00 409.6v-55.7h0.5v55.7zM331.50 409.6v-24.1h0.5v24.1zM332.00 409.6v-53.5h0.5v53.5zM332.50 409.6v-37.2h0.5v37.2zM333.00 409.6v-57.8h0.5v57.8zM333.50 409.6v-21.3h0.5v21.3zM334.00 409.6v-20.7h0.5v20.7zM334.50 409.6v-20.7h0.5v20.7zM335.00 409.6v-18.6h0.5v18.6zM335.50 409.6v-2.3h0.5v2.3zM336.00 409.6v-77.7h0.5v77.7zM336.50 409.6v-77.7h0.5v77.7zM337.00 409.6v-30.6h0.5v30.6zM337.50 409.6v-40.4h0.5v40.4zM338.00 409.6v-31.7h0.5v31.7zM338.50 409.6v-31.7h0.5v31.7zM339.00 409.6v-24.6h0.5v24.6zM339.50 409.6v-29.5h0.5v29.5zM340.00 409.6v-29.5h0.5v29.5zM340.50 409.6v-49.1h0.5v49.1zM341.00 409.6v-49.1h0.5v49.1zM341.50 409.6v-56.8h0.5v56.8zM342.00 409.6v-56.8h0.5v56.8zM342.50 409.6v-60.0h0.5v60.0zM343.00 409.6v-60.0h0.5v60.0zM343.50 409.6v-36.0h0.5v36.0zM344.00 409.6v-36.0h0.5v36.0zM344.50 409.6v-22.9h0.5v22.9zM345.00 409.6v-22.9h0.5v22.9zM345.50 409.6v-22.9h0.5v22.9zM346.00 409.6v-78.2h0.5v78.2zM346.50 409.6v-78.2h0.5v78.2zM347.00 409.6v-55.7h0.5v55.7zM347.50 409.6v-45.6h0.5v45.6zM348.00 409.6v-60.0h0.5v60.0zM348.50 409.6v-60.0h0.5v60.0zM349.00 409.6v-55.7h0.5v55.7zM349.50 409.6v-36.2h0.5v36.2zM350.00 409.6v-90.3h0.5v90.3zM350.50 409.6v-93.5h0.5v93.5zM351.00 409.6v-132.4h0.5v132.4zM351.50 409.6v-132.4h0.5v132.4zM352.00 409.6v-98.5h0.5v98.5zM352.50 409.6v-93.2h0.5v93.2zM353.00 409.6v-92.2h0.5v92.2zM353.50 409.6v-94.6h0.5v94.6zM354.00 409.6v-132.4h0.5v132.4zM354.50 409.6v-132.4h0.5v132.4zM355.00 409.6v-66.6h0.5v66.6zM355.50 409.6v-20.1h0.5v20.1zM356.00 409.6v-36.0h0.5v36.0zM356.50 409.6v-33.8h0.5v33.8zM357.00 409.6v-20.8h0.5v20.8zM357.50 409.6v-27.8h0.5v27.8zM358.00 409.6v-77.7h0.5v77.7zM358.50 409.6v-77.7h0.5v77.7zM359.00 409.6v-16.7h0.5v16.7zM359.50 409.6v-36.0h0.5v36.0zM360.00 409.6v-14.2h0.5v14.2zM360.50 409.6v-14.2h0.5v14.2zM361.00 409.6v-36.0h0.5v36.0zM361.50 409.6v-36.0h0.5v36.0zM362.00 409.6v-33.8h0.5v33.8zM362.50 409.6v-33.8h0.5v33.8zM363.00 409.6v-33.8h0.5v33.8zM363.50 409.6v-49.1h0.5v49.1zM364.00 409.6v-24.4h0.5v24.4zM364.50 409.6v-46.9h0.5v46.9zM365.00 409.6v-31.6h0.5v31.6zM365.50 409.6v-17.8h0.5v17.8zM366.00 409.6v-40.4h0.5v40.4zM366.50 409.6v-66.6h0.5v66.6zM367.00 409.6v-66.6h0.5v66.6zM367.50 409.6v-36.4h0.5v36.4zM368.00 409.6v-60.2h0.5v60.2zM368.50 409.6v-77.5h0.5v77.5zM369.00 409.6v-77.5h0.5v77.5zM369.50 409.6v-72.8h0.5v72.8zM370.00 409.6v-77.7h0.5v77.7zM370.50 409.6v-77.7h0.5v77.7zM371.00 409.6v-60.0h0.5v60.0zM371.50 409.6v-60.0h0.5v60.0zM372.00 409.6v-77.5h0.5v77.5zM372.50 409.6v-77.5h0.5v77.5zM373.00 409.6v-76.9h0.5v76.9zM373.50 409.6v-76.9h0.5v76.9zM374.00 409.6v-66.6h0.5v66.6zM374.50 409.6v-66.6h0.5v66.6zM375.00 409.6v-66.6h0.5v66.6zM375.50 409.6v-62.2h0.5v62.2zM376.00 409.6v-56.6h0.5v56.6zM376.50 409.6v-64.4h0.5v64.4zM377.00 409.6v-64.4h0.5v64.4zM377.50 409.6v-36.0h0.5v36.0zM378.00 409.6v-16.4h0.5v16.4zM378.50 409.6v-18.6h0.5v18.6zM379.00 409.6v-18.6h0.5v18.6zM379.50 409.6v-90.5h0.5v90.5zM380.00 409.6v-77.1h0.5v77.1zM380.50 409.6v-21.1h0.5v21.1zM381.00 409.6v-116.1h0.5v116.1zM381.50 409.6v-116.1h0.5v116.1zM382.00 409.6v-37.1h0.5v37.1zM382.50 409.6v-32.7h0.5v32.7zM383.00 409.6v-73.1h0.5v73.1zM383.50 409.6v-73.1h0.5v73.1zM384.00 409.6v-56.2h0.5v56.2zM384.50 409.6v-35.6h0.5v35.6zM385.00 409.6v-42.6h0.5v42.6zM385.50 409.6v-42.6h0.5v42.6zM386.00 409.6v-31.7h0.5v31.7zM386.50 409.6v-31.7h0.5v31.7zM387.00 409.6v-31.7h0.5v31.7zM387.50 409.6v-38.7h0.5v38.7zM388.00 409.6v-30.7h0.5v30.7zM388.50 409.6v-85.1h0.5v85.1zM389.00 409.6v-59.7h0.5v59.7zM389.50 409.6v-75.3h0.5v75.3zM390.00 409.6v-85.4h0.5v85.4zM390.50 409.6v-85.4h0.5v85.4zM391.00 409.6v-77.5h0.5v77.5zM391.50 409.6v-60.1h0.5v60.1zM392.00 409.6v-76.9h0.5v76.9zM392.50 409.6v-76.9h0.5v76.9zM393.00 409.6v-76.9h0.5v76.9zM393.50 409.6v-76.9h0.5v76.9zM394.00 409.6v-66.6h0.5v66.6zM394.50 409.6v-66.6h0.5v66.6zM395.00 409.6v-54.6h0.5v54.6zM395.50 409.6v-30.9h0.5v30.9zM396.00 409.6v-66.6h0.5v66.6zM396.50 409.6v-20.0h0.5v20.0zM397.00 409.6v-60.0h0.5v60.0zM397.50 409.6v-60.0h0.5v60.0zM398.00 409.6v-38.2h0.5v38.2zM398.50 409.6v-22.6h0.5v22.6zM399.00 409.6v-10.8h0.5v10.8zM399.50 409.6v-25.2h0.5v25.2zM400.00 409.6v-92.3h0.5v92.3zM400.50 409.6v-90.2h0.5v90.2zM401.00 409.6v-89.4h0.5v89.4zM401.50 409.6v-14.3h0.5v14.3zM402.00 409.6v-57.8h0.5v57.8zM402.50 409.6v-14.2h0.5v14.2zM403.00 409.6v-14.2h0.5v14.2zM403.50 409.6v-61.1h0.5v61.1zM404.00 409.6v-32.8h0.5v32.8zM404.50 409.6v-10.3h0.5v10.3zM405.00 409.6v-61.1h0.5v61.1zM405.50 409.6v-61.1h0.5v61.1zM406.00 409.6v-21.6h0.5v21.6zM406.50 409.6v-61.1h0.5v61.1zM407.00 409.6v-62.2h0.5v62.2zM407.50 409.6v-62.2h0.5v62.2zM408.00 409.6v-77.5h0.5v77.5zM408.50 409.6v-77.5h0.5v77.5zM409.00 409.6v-77.7h0.5v77.7zM409.50 409.6v-77.7h0.5v77.7zM410.00 409.6v-38.2h0.5v38.2zM410.50 409.6v-11.9h0.5v11.9zM411.00 409.6v-38.2h0.5v38.2zM411.50 409.6v-69.8h0.5v69.8zM412.00 409.6v-127.4h0.5v127.4zM412.50 409.6v-127.4h0.5v127.4zM413.00 409.6v-84.5h0.5v84.5zM413.50 409.6v-68.8h0.5v68.8zM414.00 409.6v-68.8h0.5v68.8zM414.50 409.6v-49.1h0.5v49.1zM415.00 409.6v-49.1h0.5v49.1zM415.50 409.6v-70.9h0.5v70.9zM416.00 409.6v-132.4h0.5v132.4zM416.50 409.6v-132.4h0.5v132.4zM417.00 409.6v-89.8h0.5v89.8zM417.50 409.6v-89.8h0.5v89.8zM418.00 409.6v-79.7h0.5v79.7zM418.50 409.6v-79.7h0.5v79.7zM419.00 409.6v-132.4h0.5v132.4zM419.50 409.6v-132.4h0.5v132.4zM420.00 409.6v-60.0h0.5v60.0zM420.50 409.6v-15.9h0.5v15.9zM421.00 409.6v-5.3h0.5v5.3zM421.50 409.6v-79.3h0.5v79.3zM422.00 409.6v-86.8h0.5v86.8zM422.50 409.6v-86.8h0.5v86.8zM423.00 409.6v-53.5h0.5v53.5zM423.50 409.6v-11.0h0.5v11.0zM424.00 409.6v-27.1h0.5v27.1zM424.50 409.6v-3.6h0.5v3.6zM425.00 409.6v-27.3h0.5v27.3zM425.50 409.6v-12.7h0.5v12.7zM426.00 409.6v-26.8h0.5v26.8zM426.50 409.6v-46.0h0.5v46.0zM427.00 409.6v-62.2h0.5v62.2zM427.50 409.6v-62.2h0.5v62.2zM428.00 409.6v-60.0h0.5v60.0zM428.50 409.6v-49.0h0.5v49.0zM429.00 409.6v-22.9h0.5v22.9zM429.50 409.6v-22.9h0.5v22.9zM430.00 409.6v-87.1h0.5v87.1zM430.50 409.6v-87.1h0.5v87.1zM431.00 409.6v-86.2h0.5v86.2zM431.50 409.6v-20.0h0.5v20.0zM432.00 409.6v-27.3h0.5v27.3zM432.50 409.6v-38.2h0.5v38.2zM433.00 409.6v-38.2h0.5v38.2zM433.50 409.6v-81.8h0.5v81.8zM434.00 409.6v-81.8h0.5v81.8zM434.50 409.6v-84.0h0.5v84.0zM435.00 409.6v-84.0h0.5v84.0zM435.50 409.6v-86.2h0.5v86.2zM436.00 409.6v-86.3h0.5v86.3zM436.50 409.6v-86.3h0.5v86.3zM437.00 409.6v-77.5h0.5v77.5zM437.50 409.6v-77.5h0.5v77.5zM438.00 409.6v-39.5h0.5v39.5zM438.50 409.6v-55.7h0.5v55.7zM439.00 409.6v-77.5h0.5v77.5zM439.50 409.6v-77.5h0.5v77.5zM440.00 409.6v-22.9h0.5v22.9zM440.50 409.6v-22.9h0.5v22.9zM441.00 409.6v-25.1h0.5v25.1zM441.50 409.6v-25.1h0.5v25.1zM442.00 409.6v-36.0h0.5v36.0zM442.50 409.6v-36.0h0.5v36.0zM443.00 409.6v-23.2h0.5v23.2zM443.50 409.6v-38.2h0.5v38.2zM444.00 409.6v-38.2h0.5v38.2zM444.50 409.6v-31.7h0.5v31.7zM445.00 409.6v-31.7h0.5v31.7zM445.50 409.6v-79.7h0.5v79.7zM446.00 409.6v-79.6h0.5v79.6zM446.50 409.6v-79.6h0.5v79.6zM447.00 409.6v-44.8h0.5v44.8zM447.50 409.6v-36.0h0.5v36.0zM448.00 409.6v-36.0h0.5v36.0zM448.50 409.6v-40.4h0.5v40.4zM449.00 409.6v-24.8h0.5v24.8zM449.50 409.6v-36.5h0.5v36.5zM450.00 409.6v-90.5h0.5v90.5zM450.50 409.6v-90.5h0.5v90.5zM451.00 409.6v-100.4h0.5v100.4zM451.50 409.6v-77.5h0.5v77.5zM452.00 409.6v-20.8h0.5v20.8zM452.50 409.6v-8.4h0.5v8.4zM453.00 409.6v-53.5h0.5v53.5zM453.50 409.6v-53.5h0.5v53.5zM454.00 409.6v-49.1h0.5v49.1zM454.50 409.6v-49.1h0.5v49.1zM455.00 409.6v-28.0h0.5v28.0zM455.50 409.6v-78.6h0.5v78.6zM456.00 409.6v-54.2h0.5v54.2zM456.50 409.6v-40.4h0.5v40.4zM457.00 409.6v-40.4h0.5v40.4zM457.50 409.6v-19.2h0.5v19.2zM458.00 409.6v-15.8h0.5v15.8zM458.50 409.6v-27.3h0.5v27.3zM459.00 409.6v-27.3h0.5v27.3zM459.50 409.6v-13.4h0.5v13.4zM460.00 409.6v-25.1h0.5v25.1zM460.50 409.6v-14.5h0.5v14.5zM461.00 409.6v-16.4h0.5v16.4zM461.50 409.6v-11.9h0.5v11.9zM462.00 409.6v-10.0h0.5v10.0zM462.50 409.6v-18.6h0.5v18.6zM463.00 409.6v-76.9h0.5v76.9zM463.50 409.6v-76.9h0.5v76.9zM464.00 409.6v-22.9h0.5v22.9zM464.50 409.6v-22.9h0.5v22.9zM465.00 409.6v-11.1h0.5v11.1zM465.50 409.6v-20.7h0.5v20.7zM466.00 409.6v-97.0h0.5v97.0zM466.50 409.6v-90.4h0.5v90.4zM467.00 409.6v-50.9h0.5v50.9zM467.50 409.6v-91.4h0.5v91.4zM468.00 409.6v-105.9h0.5v105.9zM468.50 409.6v-105.9h0.5v105.9zM469.00 409.6v-53.2h0.5v53.2zM469.50 409.6v-75.3h0.5v75.3zM470.00 409.6v-75.3h0.5v75.3zM470.50 409.6v-31.7h0.5v31.7zM471.00 409.6v-31.7h0.5v31.7zM471.50 409.6v-92.2h0.5v92.2zM472.00 409.6v-93.6h0.5v93.6zM472.50 409.6v-92.2h0.5v92.2zM473.00 409.6v-60.0h0.5v60.0zM473.50 409.6v-51.5h0.5v51.5zM474.00 409.6v-60.0h0.5v60.0zM474.50 409.6v-60.0h0.5v60.0zM475.00 409.6v-44.8h0.5v44.8zM475.50 409.6v-44.8h0.5v44.8zM476.00 409.6v-39.8h0.5v39.8zM476.50 409.6v-51.1h0.5v51.1zM477.00 409.6v-22.0h0.5v22.0zM477.50 409.6v-8.8h0.5v8.8zM478.00 409.6v-31.7h0.5v31.7zM478.50 409.6v-31.7h0.5v31.7zM479.00 409.6v-31.7h0.5v31.7zM479.50 409.6v-55.7h0.5v55.7zM480.00 409.6v-55.7h0.5v55.7zM480.50 409.6v-44.8h0.5v44.8zM481.00 409.6v-44.8h0.5v44.8zM481.50 409.6v-36.0h0.5v36.0zM482.00 409.6v-36.0h0.5v36.0zM482.50 409.6v-31.7h0.5v31.7zM483.00 409.6v-31.7h0.5v31.7zM483.50 409.6v-24.3h0.5v24.3zM484.00 409.6v-29.5h0.5v29.5zM484.50 409.6v-22.9h0.5v22.9zM485.00 409.6v-22.9h0.5v22.9zM485.50 409.6v-22.9h0.5v22.9zM486.00 409.6v-147.4h0.5v147.4zM486.50 409.6v-147.4h0.5v147.4zM487.00 409.6v-66.6h0.5v66.6zM487.50 409.6v-21.2h0.5v21.2zM488.00 409.6v-100.2h0.5v100.2zM488.50 409.6v-24.9h0.5v24.9zM489.00 409.6v-66.6h0.5v66.6zM489.50 409.6v-66.6h0.5v66.6zM490.00 409.6v-55.7h0.5v55.7zM490.50 409.6v-55.7h0.5v55.7zM491.00 409.6v-55.7h0.5v55.7zM491.50 409.6v-42.6h0.5v42.6zM492.00 409.6v-42.6h0.5v42.6zM492.50 409.6v-49.1h0.5v49.1zM493.00 409.6v-38.5h0.5v38.5zM493.50 409.6v-46.6h0.5v46.6zM494.00 409.6v-38.3h0.5v38.3zM494.50 409.6v-99.0h0.5v99.0zM495.00 409.6v-147.4h0.5v147.4zM495.50 409.6v-147.4h0.5v147.4zM496.00 409.6v-132.2h0.5v132.2zM496.50 409.6v-132.2h0.5v132.2zM497.00 409.6v-66.6h0.5v66.6zM497.50 409.6v-84.0h0.5v84.0zM498.00 409.6v-79.7h0.5v79.7zM498.50 409.6v-71.7h0.5v71.7zM499.00 409.6v-44.8h0.5v44.8zM499.50 409.6v-44.8h0.5v44.8zM500.00 409.6v-52.8h0.5v52.8zM500.50 409.6v-70.9h0.5v70.9zM501.00 409.6v-75.3h0.5v75.3zM501.50 409.6v-75.3h0.5v75.3zM502.00 409.6v-27.5h0.5v27.5zM502.50 409.6v-38.2h0.5v38.2zM503.00 409.6v-132.2h0.5v132.2zM503.50 409.6v-132.2h0.5v132.2zM504.00 409.6v-101.7h0.5v101.7zM504.50 409.6v-38.2h0.5v38.2zM505.00 409.6v-38.2h0.5v38.2zM505.50 409.6v-75.3h0.5v75.3zM506.00 409.6v-75.3h0.5v75.3zM506.50 409.6v-73.1h0.5v73.1zM507.00 409.6v-48.1h0.5v48.1zM507.50 409.6v-25.1h0.5v25.1zM508.00 409.6v-19.1h0.5v19.1zM508.50 409.6v-27.3h0.5v27.3zM509.00 409.6v-27.3h0.5v27.3zM509.50 409.6v-16.9h0.5v16.9zM510.00 409.6v-7.7h0.5v7.7zM510.50 409.6v-6.7h0.5v6.7zM511.00 409.6v-31.7h0.5v31.7zM511.50 409.6v-31.7h0.5v31.7zM512.00 409.6v-33.8h0.5v33.8zM512.50 409.6v-33.8h0.5v33.8zM513.00 409.6v-60.0h0.5v60.0zM513.50 409.6v-53.8h0.5v53.8zM514.00 409.6v-40.4h0.5v40.4zM514.50 409.6v-40.4h0.5v40.4zM515.00 409.6v-17.1h0.5v17.1zM515.50 409.6v-19.0h0.5v19.0zM516.00 409.6v-27.0h0.5v27.0zM516.50 409.6v-38.2h0.5v38.2zM517.00 409.6v-38.2h0.5v38.2zM517.50 409.6v-53.8h0.5v53.8zM518.00 409.6v-93.9h0.5v93.9zM518.50 409.6v-97.4h0.5v97.4zM519.00 409.6v-102.1h0.5v102.1zM519.50 409.6v-29.8h0.5v29.8zM520.00 409.6v-68.8h0.5v68.8zM520.50 409.6v-73.1h0.5v73.1zM521.00 409.6v-73.1h0.5v73.1zM521.50 409.6v-73.1h0.5v73.1zM522.00 409.6v-62.2h0.5v62.2zM522.50 409.6v-43.2h0.5v43.2zM523.00 409.6v-120.1h0.5v120.1zM523.50 409.6v-120.1h0.5v120.1zM524.00 409.6v-5.5h0.5v5.5zM524.50 409.6v-5.5h0.5v5.5zM525.00 409.6v-5.5h0.5v5.5zM525.50 409.6v-5.5h0.5v5.5zM526.00 409.6v-91.4h0.5v91.4zM526.50 409.6v-61.7h0.5v61.7zM527.00 409.6v-89.3h0.5v89.3zM527.50 409.6v-102.0h0.5v102.0zM528.00 409.6v-120.1h0.5v120.1zM528.50 409.6v-120.1h0.5v120.1zM529.00 409.6v-75.3h0.5v75.3zM529.50 409.6v-55.7h0.5v55.7zM530.00 409.6v-55.7h0.5v55.7zM530.50 409.6v-51.3h0.5v51.3zM531.00 409.6v-51.3h0.5v51.3zM531.50 409.6v-3.3h0.5v3.3zM532.00 409.6v-2.4h0.5v2.4zM532.50 409.6v-3.3h0.5v3.3z" fill="#5a5a5a"/>
<path d="M304.00 409.6v-47.4h0.5v47.4zM304.50 409.6v-29.4h0.5v29.4zM305.00 409.6v-51.4h0.5v51.4zM305.50 409.6v-59.9h0.5v59.9zM306.00 409.6v-59.9h0.5v59.9zM306.50 409.6v-16.1h0.5v16.1zM307.00 409.6v-6.8h0.5v6.8zM307.50 409.6v-75.6h0.5v75.6zM308.00 409.6v-75.6h0.5v75.6zM308.50 409.6v-48.1h0.5v48.1zM309.00 409.6v-139.9h0.5v139.9zM309.50 409.6v-139.9h0.5v139.9zM310.00 409.6v-6.5h0.5v6.5zM310.50 409.6v-21.8h0.5v21.8zM311.00 409.6v-54.0h0.5v54.0zM311.50 409.6v-11.3h0.5v11.3zM312.00 409.6v-34.4h0.5v34.4zM312.50 409.6v-17.0h0.5v17.0zM313.00 409.6v-29.4h0.5v29.4zM313.50 409.6v-88.3h0.5v88.3zM314.00 409.6v-91.9h0.5v91.9zM314.50 409.6v-91.9h0.5v91.9zM315.00 409.6v-56.0h0.5v56.0zM315.50 409.6v-40.3h0.5v40.3zM316.00 409.6v-40.3h0.5v40.3zM316.50 409.6v-34.4h0.5v34.4zM317.00 409.6v-34.4h0.5v34.4zM317.50 409.6v-30.5h0.5v30.5zM318.00 409.6v-16.8h0.5v16.8zM318.50 409.6v-18.2h0.5v18.2zM319.00 409.6v-26.5h0.5v26.5zM319.50 409.6v-8.0h0.5v8.0zM320.00 409.6v-24.6h0.5v24.6zM320.50 409.6v-20.6h0.5v20.6zM321.00 409.6v-11.8h0.5v11.8zM321.50 409.6v-2.7h0.5v2.7zM322.00 409.6v-4.4h0.5v4.4zM322.50 409.6v-4.9h0.5v4.9zM323.00 409.6v-0.8h0.5v0.8zM323.50 409.6v-1.6h0.5v1.6zM324.00 409.6v-93.1h0.5v93.1zM324.50 409.6v-93.1h0.5v93.1zM325.00 409.6v-46.9h0.5v46.9zM325.50 409.6v-84.2h0.5v84.2zM326.00 409.6v-139.9h0.5v139.9zM326.50 409.6v-139.9h0.5v139.9zM327.00 409.6v-12.8h0.5v12.8zM327.50 409.6v-20.6h0.5v20.6zM328.00 409.6v-93.1h0.5v93.1zM328.50 409.6v-93.1h0.5v93.1zM329.00 409.6v-83.2h0.5v83.2zM329.50 409.6v-83.2h0.5v83.2zM330.00 409.6v-54.0h0.5v54.0zM330.50 409.6v-73.7h0.5v73.7zM331.00 409.6v-73.7h0.5v73.7zM331.50 409.6v-63.8h0.5v63.8zM332.00 409.6v-84.4h0.5v84.4zM332.50 409.6v-84.4h0.5v84.4zM333.00 409.6v-63.8h0.5v63.8zM333.50 409.6v-22.3h0.5v22.3zM334.00 409.6v-50.1h0.5v50.1zM334.50 409.6v-50.1h0.5v50.1zM335.00 409.6v-49.3h0.5v49.3zM335.50 409.6v-56.0h0.5v56.0zM336.00 409.6v-30.5h0.5v30.5zM336.50 409.6v-30.5h0.5v30.5zM337.00 409.6v-3.0h0.5v3.0zM337.50 409.6v-22.6h0.5v22.6zM338.00 409.6v-5.7h0.5v5.7zM338.50 409.6v-30.1h0.5v30.1zM339.00 409.6v-28.1h0.5v28.1zM339.50 409.6v-24.6h0.5v24.6zM340.00 409.6v-24.6h0.5v24.6zM340.50 409.6v-32.4h0.5v32.4zM341.00 409.6v-8.0h0.5v8.0zM341.50 409.6v-30.5h0.5v30.5zM342.00 409.6v-14.8h0.5v14.8zM342.50 409.6v-10.2h0.5v10.2zM343.00 409.6v-32.4h0.5v32.4zM343.50 409.6v-88.9h0.5v88.9zM344.00 409.6v-93.9h0.5v93.9zM344.50 409.6v-93.9h0.5v93.9zM345.00 409.6v-36.3h0.5v36.3zM345.50 409.6v-19.4h0.5v19.4zM346.00 409.6v-30.2h0.5v30.2zM346.50 409.6v-40.3h0.5v40.3zM347.00 409.6v-40.3h0.5v40.3zM347.50 409.6v-40.3h0.5v40.3zM348.00 409.6v-97.4h0.5v97.4zM348.50 409.6v-97.4h0.5v97.4zM349.00 409.6v-34.4h0.5v34.4zM349.50 409.6v-40.3h0.5v40.3zM350.00 409.6v-20.2h0.5v20.2zM350.50 409.6v-30.5h0.5v30.5zM351.00 409.6v-25.2h0.5v25.2zM351.50 409.6v-36.3h0.5v36.3zM352.00 409.6v-14.5h0.5v14.5zM352.50 409.6v-33.2h0.5v33.2zM353.00 409.6v-39.0h0.5v39.0zM353.50 409.6v-46.9h0.5v46.9zM354.00 409.6v-91.9h0.5v91.9zM354.50 409.6v-91.9h0.5v91.9zM355.00 409.6v-77.4h0.5v77.4zM355.50 409.6v-30.5h0.5v30.5zM356.00 409.6v-93.9h0.5v93.9zM356.50 409.6v-93.9h0.5v93.9zM357.00 409.6v-8.4h0.5v8.4zM357.50 409.6v-15.1h0.5v15.1zM358.00 409.6v-11.8h0.5v11.8zM358.50 409.6v-22.6h0.5v22.6zM359.00 409.6v-17.3h0.5v17.3zM359.50 409.6v-12.8h0.5v12.8zM360.00 409.6v-9.1h0.5v9.1zM360.50 409.6v-17.6h0.5v17.6zM361.00 409.6v-21.1h0.5v21.1zM361.50 409.6v-20.6h0.5v20.6zM362.00 409.6v-65.8h0.5v65.8zM362.50 409.6v-65.8h0.5v65.8zM363.00 409.6v-65.8h0.5v65.8zM363.50 409.6v-38.2h0.5v38.2zM364.00 409.6v-48.1h0.5v48.1zM364.50 409.6v-38.3h0.5v38.3zM365.00 409.6v-38.3h0.5v38.3zM365.50 409.6v-82.7h0.5v82.7zM366.00 409.6v-91.9h0.5v91.9zM366.50 409.6v-91.9h0.5v91.9zM367.00 409.6v-36.3h0.5v36.3zM367.50 409.6v-56.0h0.5v56.0zM368.00 409.6v-56.0h0.5v56.0zM368.50 409.6v-30.5h0.5v30.5zM369.00 409.6v-23.9h0.5v23.9zM369.50 409.6v-30.5h0.5v30.5zM370.00 409.6v-7.2h0.5v7.2zM370.50 409.6v-59.9h0.5v59.9zM371.00 409.6v-59.9h0.5v59.9zM371.50 409.6v-59.9h0.5v59.9zM372.00 409.6v-69.7h0.5v69.7zM372.50 409.6v-19.6h0.5v19.6zM373.00 409.6v-47.3h0.5v47.3zM373.50 409.6v-86.6h0.5v86.6zM374.00 409.6v-141.6h0.5v141.6zM374.50 409.6v-141.6h0.5v141.6zM375.00 409.6v-24.5h0.5v24.5zM375.50 409.6v-34.4h0.5v34.4zM376.00 409.6v-34.4h0.5v34.4zM376.50 409.6v-25.1h0.5v25.1zM377.00 409.6v-17.4h0.5v17.4zM377.50 409.6v-23.7h0.5v23.7zM378.00 409.6v-4.1h0.5v4.1zM378.50 409.6v-56.0h0.5v56.0zM379.00 409.6v-44.6h0.5v44.6zM379.50 409.6v-59.9h0.5v59.9zM380.00 409.6v-54.3h0.5v54.3zM380.50 409.6v-63.8h0.5v63.8zM381.00 409.6v-63.8h0.5v63.8zM381.50 409.6v-63.8h0.5v63.8zM382.00 409.6v-63.8h0.5v63.8zM382.50 409.6v-18.1h0.5v18.1zM383.00 409.6v-80.3h0.5v80.3zM383.50 409.6v-80.3h0.5v80.3zM384.00 409.6v-23.2h0.5v23.2zM384.50 409.6v-69.7h0.5v69.7zM385.00 409.6v-59.9h0.5v59.9zM385.50 409.6v-19.9h0.5v19.9zM386.00 409.6v-84.4h0.5v84.4zM386.50 409.6v-84.4h0.5v84.4zM387.00 409.6v-34.4h0.5v34.4zM387.50 409.6v-25.0h0.5v25.0zM388.00 409.6v-34.4h0.5v34.4zM388.50 409.6v-28.5h0.5v28.5zM389.00 409.6v-59.9h0.5v59.9zM389.50 409.6v-20.1h0.5v20.1zM390.00 409.6v-13.9h0.5v13.9zM390.50 409.6v-34.4h0.5v34.4zM391.00 409.6v-34.4h0.5v34.4zM391.50 409.6v-30.5h0.5v30.5zM392.00 409.6v-7.5h0.5v7.5zM392.50 409.6v-18.2h0.5v18.2zM393.00 409.6v-19.4h0.5v19.4zM393.50 409.6v-14.7h0.5v14.7zM394.00 409.6v-24.4h0.5v24.4zM394.50 409.6v-24.9h0.5v24.9zM395.00 409.6v-61.5h0.5v61.5zM395.50 409.6v-66.3h0.5v66.3zM396.00 409.6v-93.4h0.5v93.4zM396.50 409.6v-93.4h0.5v93.4zM397.00 409.6v-32.4h0.5v32.4zM397.50 409.6v-16.3h0.5v16.3zM398.00 409.6v-19.1h0.5v19.1zM398.50 409.6v-24.8h0.5v24.8zM399.00 409.6v-28.7h0.5v28.7zM399.50 409.6v-47.4h0.5v47.4zM400.00 409.6v-18.2h0.5v18.2zM400.50 409.6v-17.3h0.5v17.3zM401.00 409.6v-120.2h0.5v120.2zM401.50 409.6v-120.2h0.5v120.2zM402.00 409.6v-42.7h0.5v42.7zM402.50 409.6v-32.4h0.5v32.4zM403.00 409.6v-32.4h0.5v32.4zM403.50 409.6v-30.2h0.5v30.2zM404.00 409.6v-40.3h0.5v40.3zM404.50 409.6v-32.4h0.5v32.4zM405.00 409.6v-28.4h0.5v28.4zM405.50 409.6v-32.4h0.5v32.4zM406.00 409.6v-139.9h0.5v139.9zM406.50 409.6v-139.9h0.5v139.9zM407.00 409.6v-48.8h0.5v48.8zM407.50 409.6v-88.6h0.5v88.6zM408.00 409.6v-90.3h0.5v90.3zM408.50 409.6v-37.5h0.5v37.5zM409.00 409.6v-88.0h0.5v88.0zM409.50 409.6v-88.0h0.5v88.0zM410.00 409.6v-6.7h0.5v6.7zM410.50 409.6v-26.0h0.5v26.0zM411.00 409.6v-36.3h0.5v36.3zM411.50 409.6v-28.4h0.5v28.4zM412.00 409.6v-50.1h0.5v50.1zM412.50 409.6v-63.8h0.5v63.8zM413.00 409.6v-63.8h0.5v63.8zM413.50 409.6v-57.9h0.5v57.9zM414.00 409.6v-49.1h0.5v49.1zM414.50 409.6v-6.5h0.5v6.5zM415.00 409.6v-36.3h0.5v36.3zM415.50 409.6v-61.9h0.5v61.9zM416.00 409.6v-46.1h0.5v46.1zM416.50 409.6v-17.4h0.5v17.4zM417.00 409.6v-61.9h0.5v61.9zM417.50 409.6v-37.8h0.5v37.8zM418.00 409.6v-48.0h0.5v48.0zM418.50 409.6v-22.9h0.5v22.9zM419.00 409.6v-41.8h0.5v41.8zM419.50 409.6v-41.6h0.5v41.6zM420.00 409.6v-48.3h0.5v48.3zM420.50 409.6v-63.8h0.5v63.8zM421.00 409.6v-63.8h0.5v63.8zM421.50 409.6v-52.5h0.5v52.5zM422.00 409.6v-93.4h0.5v93.4zM422.50 409.6v-93.4h0.5v93.4zM423.00 409.6v-50.1h0.5v50.1zM423.50 409.6v-26.0h0.5v26.0zM424.00 409.6v-13.2h0.5v13.2zM424.50 409.6v-50.1h0.5v50.1zM425.00 409.6v-6.6h0.5v6.6zM425.50 409.6v-28.6h0.5v28.6zM426.00 409.6v-63.8h0.5v63.8zM426.50 409.6v-26.4h0.5v26.4zM427.00 409.6v-50.1h0.5v50.1zM427.50 409.6v-50.1h0.5v50.1zM428.00 409.6v-14.0h0.5v14.0zM428.50 409.6v-6.2h0.5v6.2zM429.00 409.6v-27.9h0.5v27.9zM429.50 409.6v-40.3h0.5v40.3zM430.00 409.6v-57.9h0.5v57.9zM430.50 409.6v-84.7h0.5v84.7zM431.00 409.6v-93.4h0.5v93.4zM431.50 409.6v-93.4h0.5v93.4zM432.00 409.6v-20.5h0.5v20.5zM432.50 409.6v-49.8h0.5v49.8zM433.00 409.6v-45.2h0.5v45.2zM433.50 409.6v-63.8h0.5v63.8zM434.00 409.6v-63.8h0.5v63.8zM434.50 409.6v-69.7h0.5v69.7zM435.00 409.6v-69.7h0.5v69.7zM435.50 409.6v-21.5h0.5v21.5zM436.00 409.6v-36.2h0.5v36.2zM436.50 409.6v-59.9h0.5v59.9zM437.00 409.6v-23.1h0.5v23.1zM437.50 409.6v-59.9h0.5v59.9zM438.00 409.6v-126.9h0.5v126.9zM438.50 409.6v-126.9h0.5v126.9zM439.00 409.6v-57.9h0.5v57.9zM439.50 409.6v-57.9h0.5v57.9zM440.00 409.6v-4.2h0.5v4.2zM440.50 409.6v-22.6h0.5v22.6zM441.00 409.6v-24.6h0.5v24.6zM441.50 409.6v-24.6h0.5v24.6zM442.00 409.6v-24.6h0.5v24.6zM442.50 409.6v-24.6h0.5v24.6zM443.00 409.6v-24.6h0.5v24.6zM443.50 409.6v-22.4h0.5v22.4zM444.00 409.6v-75.0h0.5v75.0zM444.50 409.6v-59.9h0.5v59.9zM445.00 409.6v-93.1h0.5v93.1zM445.50 409.6v-93.1h0.5v93.1zM446.00 409.6v-28.9h0.5v28.9zM446.50 409.6v-30.5h0.5v30.5zM447.00 409.6v-30.5h0.5v30.5zM447.50 409.6v-56.0h0.5v56.0zM448.00 409.6v-56.0h0.5v56.0zM448.50 409.6v-61.9h0.5v61.9zM449.00 409.6v-61.9h0.5v61.9zM449.50 409.6v-17.1h0.5v17.1zM450.00 409.6v-59.9h0.5v59.9zM450.50 409.6v-59.9h0.5v59.9zM451.00 409.6v-36.3h0.5v36.3zM451.50 409.6v-30.4h0.5v30.4zM452.00 409.6v-40.3h0.5v40.3zM452.50 409.6v-40.3h0.5v40.3zM453.00 409.6v-35.1h0.5v35.1zM453.50 409.6v-10.5h0.5v10.5zM454.00 409.6v-141.6h0.5v141.6zM454.50 409.6v-141.6h0.5v141.6zM455.00 409.6v-93.4h0.5v93.4zM455.50 409.6v-93.4h0.5v93.4zM456.00 409.6v-141.6h0.5v141.6zM456.50 409.6v-141.6h0.5v141.6zM457.00 409.6v-82.9h0.5v82.9zM457.50 409.6v-56.0h0.5v56.0zM458.00 409.6v-56.0h0.5v56.0zM458.50 409.6v-83.1h0.5v83.1zM459.00 409.6v-83.7h0.5v83.7zM459.50 409.6v-15.8h0.5v15.8zM460.00 409.6v-141.6h0.5v141.6zM460.50 409.6v-141.6h0.5v141.6zM461.00 409.6v-40.3h0.5v40.3zM461.50 409.6v-40.3h0.5v40.3zM462.00 409.6v-55.0h0.5v55.0zM462.50 409.6v-53.5h0.5v53.5zM463.00 409.6v-59.9h0.5v59.9zM463.50 409.6v-59.9h0.5v59.9zM464.00 409.6v-139.9h0.5v139.9zM464.50 409.6v-139.9h0.5v139.9zM465.00 409.6v-50.3h0.5v50.3zM465.50 409.6v-15.1h0.5v15.1zM466.00 409.6v-63.8h0.5v63.8zM466.50 409.6v-13.8h0.5v13.8zM467.00 409.6v-63.8h0.5v63.8zM467.50 409.6v-56.0h0.5v56.0zM468.00 409.6v-56.0h0.5v56.0zM468.50 409.6v-52.6h0.5v52.6zM469.00 409.6v-59.9h0.5v59.9zM469.50 409.6v-56.0h0.5v56.0zM470.00 409.6v-56.0h0.5v56.0zM470.50 409.6v-59.9h0.5v59.9zM471.00 409.6v-59.9h0.5v59.9zM471.50 409.6v-40.3h0.5v40.3zM472.00 409.6v-26.1h0.5v26.1zM472.50 409.6v-59.9h0.5v59.9zM473.00 409.6v-34.1h0.5v34.1zM473.50 409.6v-59.9h0.5v59.9zM474.00 409.6v-57.9h0.5v57.9zM474.50 409.6v-57.9h0.5v57.9zM475.00 409.6v-59.9h0.5v59.9zM475.50 409.6v-59.9h0.5v59.9zM476.00 409.6v-61.9h0.5v61.9zM476.50 409.6v-47.8h0.5v47.8zM477.00 409.6v-16.2h0.5v16.2zM477.50 409.6v-31.4h0.5v31.4zM478.00 409.6v-89.8h0.5v89.8zM478.50 409.6v-89.8h0.5v89.8zM479.00 409.6v-23.7h0.5v23.7zM479.50 409.6v-42.2h0.5v42.2zM480.00 409.6v-42.2h0.5v42.2zM480.50 409.6v-24.6h0.5v24.6zM481.00 409.6v-24.6h0.5v24.6zM481.50 409.6v-17.6h0.5v17.6zM482.00 409.6v-26.5h0.5v26.5zM482.50 409.6v-25.1h0.5v25.1zM483.00 409.6v-32.4h0.5v32.4zM483.50 409.6v-30.5h0.5v30.5zM484.00 409.6v-30.5h0.5v30.5zM484.50 409.6v-24.6h0.5v24.6zM485.00 409.6v-13.0h0.5v13.0zM485.50 409.6v-15.8h0.5v15.8zM486.00 409.6v-88.8h0.5v88.8zM486.50 409.6v-88.8h0.5v88.8zM487.00 409.6v-56.2h0.5v56.2zM487.50 409.6v-37.5h0.5v37.5zM488.00 409.6v-39.5h0.5v39.5zM488.50 409.6v-46.5h0.5v46.5zM489.00 409.6v-27.7h0.5v27.7zM489.50 409.6v-59.9h0.5v59.9zM490.00 409.6v-57.9h0.5v57.9zM490.50 409.6v-18.4h0.5v18.4zM491.00 409.6v-57.9h0.5v57.9zM491.50 409.6v-30.5h0.5v30.5zM492.00 409.6v-93.1h0.5v93.1zM492.50 409.6v-93.1h0.5v93.1zM493.00 409.6v-18.0h0.5v18.0zM493.50 409.6v-89.9h0.5v89.9zM494.00 409.6v-10.8h0.5v10.8zM494.50 409.6v-87.0h0.5v87.0zM495.00 409.6v-90.8h0.5v90.8zM495.50 409.6v-75.6h0.5v75.6zM496.00 409.6v-75.6h0.5v75.6zM496.50 409.6v-57.1h0.5v57.1zM497.00 409.6v-89.2h0.5v89.2zM497.50 409.6v-84.3h0.5v84.3zM498.00 409.6v-93.4h0.5v93.4zM498.50 409.6v-93.4h0.5v93.4zM499.00 409.6v-27.0h0.5v27.0zM499.50 409.6v-80.4h0.5v80.4zM500.00 409.6v-93.4h0.5v93.4zM500.50 409.6v-93.4h0.5v93.4zM501.00 409.6v-59.9h0.5v59.9zM501.50 409.6v-15.5h0.5v15.5zM502.00 409.6v-65.9h0.5v65.9zM502.50 409.6v-64.1h0.5v64.1zM503.00 409.6v-73.7h0.5v73.7zM503.50 409.6v-59.9h0.5v59.9zM504.00 409.6v-47.0h0.5v47.0zM504.50 409.6v-20.6h0.5v20.6zM505.00 409.6v-20.6h0.5v20.6zM505.50 409.6v-73.7h0.5v73.7zM506.00 409.6v-73.7h0.5v73.7zM506.50 409.6v-83.8h0.5v83.8zM507.00 409.6v-93.4h0.5v93.4zM507.50 409.6v-93.4h0.5v93.4zM508.00 409.6v-14.4h0.5v14.4zM508.50 409.6v-26.3h0.5v26.3zM509.00 409.6v-9.5h0.5v9.5zM509.50 409.6v-28.3h0.5v28.3zM510.00 409.6v-24.1h0.5v24.1zM510.50 409.6v-36.3h0.5v36.3zM511.00 409.6v-34.4h0.5v34.4zM511.50 409.6v-34.4h0.5v34.4zM512.00 409.6v-91.9h0.5v91.9zM512.50 409.6v-91.9h0.5v91.9zM513.00 409.6v-7.3h0.5v7.3zM513.50 409.6v-17.6h0.5v17.6zM514.00 409.6v-32.9h0.5v32.9zM514.50 409.6v-20.4h0.5v20.4zM515.00 409.6v-35.7h0.5v35.7zM515.50 409.6v-35.1h0.5v35.1zM516.00 409.6v-44.2h0.5v44.2zM516.50 409.6v-45.5h0.5v45.5zM517.00 409.6v-50.1h0.5v50.1zM517.50 409.6v-11.5h0.5v11.5zM518.00 409.6v-32.4h0.5v32.4zM518.50 409.6v-50.1h0.5v50.1zM519.00 409.6v-50.1h0.5v50.1zM519.50 409.6v-63.8h0.5v63.8zM520.00 409.6v-58.1h0.5v58.1zM520.50 409.6v-64.2h0.5v64.2zM521.00 409.6v-93.4h0.5v93.4zM521.50 409.6v-93.4h0.5v93.4zM522.00 409.6v-13.9h0.5v13.9zM522.50 409.6v-65.8h0.5v65.8zM523.00 409.6v-67.8h0.5v67.8zM523.50 409.6v-61.6h0.5v61.6zM524.00 409.6v-67.8h0.5v67.8zM524.50 409.6v-58.0h0.5v58.0zM525.00 409.6v-139.9h0.5v139.9zM525.50 409.6v-139.9h0.5v139.9zM526.00 409.6v-50.0h0.5v50.0zM526.50 409.6v-69.7h0.5v69.7zM527.00 409.6v-63.6h0.5v63.6zM527.50 409.6v-63.8h0.5v63.8zM528.00 409.6v-63.8h0.5v63.8zM528.50 409.6v-59.8h0.5v59.8zM529.00 409.6v-63.8h0.5v63.8zM529.50 409.6v-30.5h0.5v30.5zM530.00 409.6v-30.5h0.5v30.5zM530.50 409.6v-16.3h0.5v16.3zM531.00 409.6v-20.6h0.5v20.6zM531.50 409.6v-20.6h0.5v20.6zM532.00 409.6v-16.7h0.5v16.7zM532.50 409.6v-17.4h0.5v17.4z" fill="#5f6fff"/>
<path d="M35.50,27.50V198.30H270.40" fill="none" stroke="#000" stroke-width="1.4"/>
<path d="M31.50,198.30H35.50M31.50,164.14H35.50M31.50,129.98H35.50M31.50,95.82H35.50M31.50,61.66H35.50M31.50,27.50H35.50M33.30,181.22H35.50M33.30,147.06H35.50M33.30,112.90H35.50M33.30,78.74H35.50M33.30,44.58H35.50M35.50,198.30V202.10M94.22,198.30V202.10M152.95,198.30V202.10M211.68,198.30V202.10M270.40,198.30V202.10M64.86,198.30V200.50M123.59,198.30V200.50M182.31,198.30V200.50M241.04,198.30V200.50" stroke="#000" stroke-width="1.2"/>
<text x="29.20" y="201.10" text-anchor="end" font-size="8.4" font-family="Liberation Serif, serif" fill="#000" stroke="#000" stroke-width="0.18">0</text>
<text x="29.20" y="166.94" text-anchor="end" font-size="8.4" font-family="Liberation Serif, serif" fill="#000" stroke="#000" stroke-width="0.18">20</text>
<text x="29.20" y="132.78" text-anchor="end" font-size="8.4" font-family="Liberation Serif, serif" fill="#000" stroke="#000" stroke-width="0.18">40</text>
<text x="29.20" y="98.62" text-anchor="end" font-size="8.4" font-family="Liberation Serif, serif" fill="#000" stroke="#000" stroke-width="0.18">60</text>
<text x="29.20" y="64.46" text-anchor="end" font-size="8.4" font-family="Liberation Serif, serif" fill="#000" stroke="#000" stroke-width="0.18">80</text>
<text x="29.20" y="30.30" text-anchor="end" font-size="8.4" font-family="Liberation Serif, serif" fill="#000" stroke="#000" stroke-width="0.18">100</text>
<text x="35.50" y="211.30" text-anchor="middle" font-size="8.4" font-family="Liberation Serif, serif" fill="#000" stroke="#000" stroke-width="0.18">0</text>
<text x="94.22" y="211.30" text-anchor="middle" font-size="8.4" font-family="Liberation Serif, serif" fill="#000" stroke="#000" stroke-width="0.18">500</text>
<text x="152.95" y="211.30" text-anchor="middle" font-size="8.4" font-family="Liberation Serif, serif" fill="#000" stroke="#000" stroke-width="0.18">1000</text>
<text x="211.68" y="211.30" text-anchor="middle" font-size="8.4" font-family="Liberation Serif, serif" fill="#000" stroke="#000" stroke-width="0.18">1500</text>
<text x="270.40" y="211.30" text-anchor="middle" font-size="8.4" font-family="Liberation Serif, serif" fill="#000" stroke="#000" stroke-width="0.18">2000</text>
<text x="152.95" y="226.90" text-anchor="middle" font-size="10.5" font-family="Liberation Serif, serif" fill="#000" stroke="#000" stroke-width="0.1">Time(s)</text>
<text transform="translate(13.10,112.90) rotate(-90)" x="0" y="0" text-anchor="middle" font-size="10.2" font-family="Liberation Serif, serif" fill="#000" stroke="#000" stroke-width="0.1">Winch Speed(r/min)</text>
<path d="M152.70,33.50H176.70" stroke="#555" stroke-width="1.2"/>
<path d="M152.70,45.90H176.70" stroke="#2fb02f" stroke-width="2"/>
<text x="179.10" y="37.00" font-size="10.07" font-family="Liberation Serif, serif" fill="#000" stroke="#000" stroke-width="0.08">Actual</text>
<text x="179.10" y="49.10" font-size="10.07" font-family="Liberation Serif, serif" fill="#000" stroke="#000" stroke-width="0.08">GCN-RF Predicted</text>
<path d="M304.20,27.50V198.30H539.30" fill="none" stroke="#000" stroke-width="1.4"/>
<path d="M300.20,198.30H304.20M300.20,164.14H304.20M300.20,129.98H304.20M300.20,95.82H304.20M300.20,61.66H304.20M300.20,27.50H304.20M302.00,181.22H304.20M302.00,147.06H304.20M302.00,112.90H304.20M302.00,78.74H304.20M302.00,44.58H304.20M304.20,198.30V202.10M362.97,198.30V202.10M421.75,198.30V202.10M480.52,198.30V202.10M539.30,198.30V202.10M333.59,198.30V200.50M392.36,198.30V200.50M451.14,198.30V200.50M509.91,198.30V200.50" stroke="#000" stroke-width="1.2"/>
<text x="297.90" y="201.10" text-anchor="end" font-size="8.4" font-family="Liberation Serif, serif" fill="#000" stroke="#000" stroke-width="0.18">0</text>
<text x="297.90" y="166.94" text-anchor="end" font-size="8.4" font-family="Liberation Serif, serif" fill="#000" stroke="#000" stroke-width="0.18">20</text>
<text x="297.90" y="132.78" text-anchor="end" font-size="8.4" font-family="Liberation Serif, serif" fill="#000" stroke="#000" stroke-width="0.18">40</text>
<text x="297.90" y="98.62" text-anchor="end" font-size="8.4" font-family="Liberation Serif, serif" fill="#000" stroke="#000" stroke-width="0.18">60</text>
<text x="297.90" y="64.46" text-anchor="end" font-size="8.4" font-family="Liberation Serif, serif" fill="#000" stroke="#000" stroke-width="0.18">80</text>
<text x="297.90" y="30.30" text-anchor="end" font-size="8.4" font-family="Liberation Serif, serif" fill="#000" stroke="#000" stroke-width="0.18">100</text>
<text x="304.20" y="211.30" text-anchor="middle" font-size="8.4" font-family="Liberation Serif, serif" fill="#000" stroke="#000" stroke-width="0.18">0</text>
<text x="362.97" y="211.30" text-anchor="middle" font-size="8.4" font-family="Liberation Serif, serif" fill="#000" stroke="#000" stroke-width="0.18">500</text>
<text x="421.75" y="211.30" text-anchor="middle" font-size="8.4" font-family="Liberation Serif, serif" fill="#000" stroke="#000" stroke-width="0.18">1000</text>
<text x="480.52" y="211.30" text-anchor="middle" font-size="8.4" font-family="Liberation Serif, serif" fill="#000" stroke="#000" stroke-width="0.18">1500</text>
<text x="539.30" y="211.30" text-anchor="middle" font-size="8.4" font-family="Liberation Serif, serif" fill="#000" stroke="#000" stroke-width="0.18">2000</text>
<text x="421.75" y="226.90" text-anchor="middle" font-size="10.5" font-family="Liberation Serif, serif" fill="#000" stroke="#000" stroke-width="0.1">Time(s)</text>
<text transform="translate(281.80,112.90) rotate(-90)" x="0" y="0" text-anchor="middle" font-size="10.2" font-family="Liberation Serif, serif" fill="#000" stroke="#000" stroke-width="0.1">Winch Speed(r/min)</text>
<path d="M421.30,33.50H445.30" stroke="#555" stroke-width="1.2"/>
<path d="M421.30,45.90H445.30" stroke="#ff8c1a" stroke-width="2"/>
<text x="447.00" y="37.00" font-size="10.07" font-family="Liberation Serif, serif" fill="#000" stroke="#000" stroke-width="0.08">Actual</text>
<text x="447.00" y="49.10" font-size="10.07" font-family="Liberation Serif, serif" fill="#000" stroke="#000" stroke-width="0.08">GBT Predicted</text>
<path d="M35.50,238.80V409.60H270.40" fill="none" stroke="#000" stroke-width="1.4"/>
<path d="M31.50,409.60H35.50M31.50,375.44H35.50M31.50,341.28H35.50M31.50,307.12H35.50M31.50,272.96H35.50M31.50,238.80H35.50M33.30,392.52H35.50M33.30,358.36H35.50M33.30,324.20H35.50M33.30,290.04H35.50M33.30,255.88H35.50M35.50,409.60V413.40M94.22,409.60V413.40M152.95,409.60V413.40M211.68,409.60V413.40M270.40,409.60V413.40M64.86,409.60V411.80M123.59,409.60V411.80M182.31,409.60V411.80M241.04,409.60V411.80" stroke="#000" stroke-width="1.2"/>
<text x="29.20" y="412.40" text-anchor="end" font-size="8.4" font-family="Liberation Serif, serif" fill="#000" stroke="#000" stroke-width="0.18">0</text>
<text x="29.20" y="378.24" text-anchor="end" font-size="8.4" font-family="Liberation Serif, serif" fill="#000" stroke="#000" stroke-width="0.18">20</text>
<text x="29.20" y="344.08" text-anchor="end" font-size="8.4" font-family="Liberation Serif, serif" fill="#000" stroke="#000" stroke-width="0.18">40</text>
<text x="29.20" y="309.92" text-anchor="end" font-size="8.4" font-family="Liberation Serif, serif" fill="#000" stroke="#000" stroke-width="0.18">60</text>
<text x="29.20" y="275.76" text-anchor="end" font-size="8.4" font-family="Liberation Serif, serif" fill="#000" stroke="#000" stroke-width="0.18">80</text>
<text x="29.20" y="241.60" text-anchor="end" font-size="8.4" font-family="Liberation Serif, serif" fill="#000" stroke="#000" stroke-width="0.18">100</text>
<text x="35.50" y="422.60" text-anchor="middle" font-size="8.4" font-family="Liberation Serif, serif" fill="#000" stroke="#000" stroke-width="0.18">0</text>
<text x="94.22" y="422.60" text-anchor="middle" font-size="8.4" font-family="Liberation Serif, serif" fill="#000" stroke="#000" stroke-width="0.18">500</text>
<text x="152.95" y="422.60" text-anchor="middle" font-size="8.4" font-family="Liberation Serif, serif" fill="#000" stroke="#000" stroke-width="0.18">1000</text>
<text x="211.68" y="422.60" text-anchor="middle" font-size="8.4" font-family="Liberation Serif, serif" fill="#000" stroke="#000" stroke-width="0.18">1500</text>
<text x="270.40" y="422.60" text-anchor="middle" font-size="8.4" font-family="Liberation Serif, serif" fill="#000" stroke="#000" stroke-width="0.18">2000</text>
<text x="152.95" y="438.20" text-anchor="middle" font-size="10.5" font-family="Liberation Serif, serif" fill="#000" stroke="#000" stroke-width="0.1">Time(s)</text>
<text transform="translate(13.10,324.20) rotate(-90)" x="0" y="0" text-anchor="middle" font-size="10.2" font-family="Liberation Serif, serif" fill="#000" stroke="#000" stroke-width="0.1">Winch Speed(r/min)</text>
<path d="M152.70,245.20H176.70" stroke="#555" stroke-width="1.2"/>
<path d="M152.70,257.60H176.70" stroke="#8a1aff" stroke-width="2"/>
<text x="179.10" y="248.70" font-size="10.07" font-family="Liberation Serif, serif" fill="#000" stroke="#000" stroke-width="0.08">Actual</text>
<text x="179.10" y="260.80" font-size="10.07" font-family="Liberation Serif, serif" fill="#000" stroke="#000" stroke-width="0.08">SVR Predicted</text>
<path d="M304.20,238.80V409.60H539.30" fill="none" stroke="#000" stroke-width="1.4"/>
<path d="M300.20,409.60H304.20M300.20,375.44H304.20M300.20,341.28H304.20M300.20,307.12H304.20M300.20,272.96H304.20M300.20,238.80H304.20M302.00,392.52H304.20M302.00,358.36H304.20M302.00,324.20H304.20M302.00,290.04H304.20M302.00,255.88H304.20M304.20,409.60V413.40M362.97,409.60V413.40M421.75,409.60V413.40M480.52,409.60V413.40M539.30,409.60V413.40M333.59,409.60V411.80M392.36,409.60V411.80M451.14,409.60V411.80M509.91,409.60V411.80" stroke="#000" stroke-width="1.2"/>
<text x="297.90" y="412.40" text-anchor="end" font-size="8.4" font-family="Liberation Serif, serif" fill="#000" stroke="#000" stroke-width="0.18">0</text>
<text x="297.90" y="378.24" text-anchor="end" font-size="8.4" font-family="Liberation Serif, serif" fill="#000" stroke="#000" stroke-width="0.18">20</text>
<text x="297.90" y="344.08" text-anchor="end" font-size="8.4" font-family="Liberation Serif, serif" fill="#000" stroke="#000" stroke-width="0.18">40</text>
<text x="297.90" y="309.92" text-anchor="end" font-size="8.4" font-family="Liberation Serif, serif" fill="#000" stroke="#000" stroke-width="0.18">60</text>
<text x="297.90" y="275.76" text-anchor="end" font-size="8.4" font-family="Liberation Serif, serif" fill="#000" stroke="#000" stroke-width="0.18">80</text>
<text x="297.90" y="241.60" text-anchor="end" font-size="8.4" font-family="Liberation Serif, serif" fill="#000" stroke="#000" stroke-width="0.18">100</text>
<text x="304.20" y="422.60" text-anchor="middle" font-size="8.4" font-family="Liberation Serif, serif" fill="#000" stroke="#000" stroke-width="0.18">0</text>
<text x="362.97" y="422.60" text-anchor="middle" font-size="8.4" font-family="Liberation Serif, serif" fill="#000" stroke="#000" stroke-width="0.18">500</text>
<text x="421.75" y="422.60" text-anchor="middle" font-size="8.4" font-family="Liberation Serif, serif" fill="#000" stroke="#000" stroke-width="0.18">1000</text>
<text x="480.52" y="422.60" text-anchor="middle" font-size="8.4" font-family="Liberation Serif, serif" fill="#000" stroke="#000" stroke-width="0.18">1500</text>
<text x="539.30" y="422.60" text-anchor="middle" font-size="8.4" font-family="Liberation Serif, serif" fill="#000" stroke="#000" stroke-width="0.18">2000</text>
<text x="421.75" y="438.20" text-anchor="middle" font-size="10.5" font-family="Liberation Serif, serif" fill="#000" stroke="#000" stroke-width="0.1">Time(s)</text>
<text transform="translate(281.80,324.20) rotate(-90)" x="0" y="0" text-anchor="middle" font-size="10.2" font-family="Liberation Serif, serif" fill="#000" stroke="#000" stroke-width="0.1">Winch Speed(r/min)</text>
<path d="M421.30,246.80H445.30" stroke="#555" stroke-width="1.2"/>
<path d="M421.30,259.20H445.30" stroke="#6a7aff" stroke-width="2"/>
<text x="447.00" y="250.30" font-size="10.07" font-family="Liberation Serif, serif" fill="#000" stroke="#000" stroke-width="0.08">Actual</text>
<text x="447.00" y="262.40" font-size="10.07" font-family="Liberation Serif, serif" fill="#000" stroke="#000" stroke-width="0.08">MLP Predicted</text></svg>
</body></html>
